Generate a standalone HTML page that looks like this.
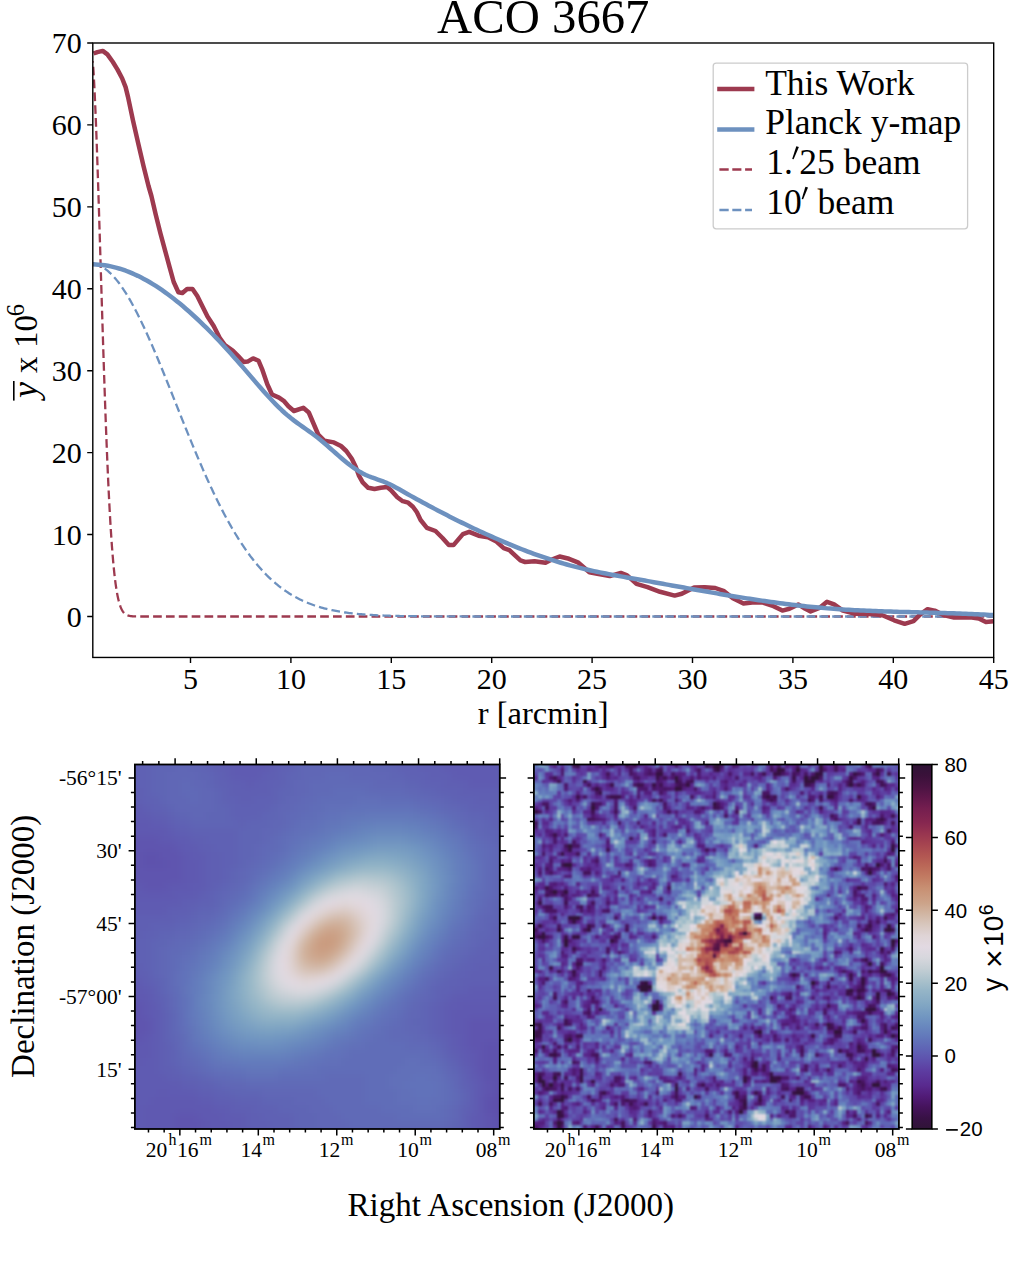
<!DOCTYPE html>
<html><head><meta charset="utf-8"><style>
html,body{margin:0;padding:0;background:#fff;width:1020px;height:1265px;overflow:hidden}
svg{display:block}
</style></head><body>
<svg width="1020" height="1265" viewBox="0 0 1020 1265">
<defs><filter id="blurL" x="-5%" y="-5%" width="110%" height="110%" color-interpolation-filters="sRGB"><feGaussianBlur stdDeviation="4.5"/></filter><filter id="blurR" x="-5%" y="-5%" width="110%" height="110%" color-interpolation-filters="sRGB"><feGaussianBlur stdDeviation="0.8"/></filter><clipPath id="clipL"><rect x="134.9" y="764.5" width="364.9" height="364.5"/></clipPath><clipPath id="clipR"><rect x="533.9" y="764.5" width="365" height="364.5"/></clipPath><clipPath id="topclip"><rect x="92.8" y="43.0" width="900.9" height="614.45"/></clipPath></defs>
<g font-family='"Liberation Serif", serif' fill="#000"><text x="437.1" y="32.8" font-size="48.7" text-anchor="start">ACO 3667</text><g clip-path="url(#topclip)" fill="none"><path d="M92.81 61.24 L92.97 63.46 L93.14 65.8 L93.3 68.26 L93.46 70.84 L93.63 73.53 L93.79 76.33 L93.95 79.25 L94.12 82.28 L94.28 85.41 L94.44 88.65 L94.6 91.99 L94.77 95.43 L94.93 98.97 L95.09 102.61 L95.26 106.34 L95.42 110.16 L95.58 114.07 L95.75 118.07 L95.91 122.15 L96.07 126.31 L96.24 130.55 L96.4 134.87 L96.56 139.26 L96.72 143.72 L96.89 148.25 L97.05 152.85 L97.21 157.5 L97.38 162.22 L97.54 166.99 L97.7 171.82 L97.87 176.7 L98.03 181.63 L98.19 186.6 L98.36 191.61 L98.52 196.67 L98.68 201.76 L98.85 206.89 L99.01 212.04 L99.17 217.23 L99.33 222.44 L99.5 227.67 L99.66 232.93 L99.82 238.2 L99.99 243.49 L100.15 248.79 L100.31 254.1 L100.48 259.41 L100.64 264.73 L100.8 270.05 L100.97 275.38 L101.13 280.69 L101.29 286.01 L101.45 291.31 L101.62 296.61 L101.78 301.89 L101.94 307.16 L102.11 312.41 L102.27 317.64 L102.43 322.85 L102.6 328.03 L102.76 333.2 L102.92 338.33 L103.09 343.43 L103.25 348.51 L103.41 353.55 L103.57 358.56 L103.74 363.53 L103.9 368.46 L104.06 373.35 L104.23 378.21 L104.39 383.02 L104.55 387.79 L104.72 392.51 L104.88 397.18 L105.04 401.81 L105.21 406.39 L105.37 410.92 L105.53 415.4 L105.69 419.83 L105.86 424.21 L106.02 428.53 L106.18 432.8 L106.35 437.01 L106.51 441.17 L106.67 445.27 L106.84 449.32 L107 453.31 L107.16 457.24 L107.33 461.11 L107.49 464.92 L107.65 468.67 L107.81 472.37 L107.98 476 L108.14 479.58 L108.3 483.1 L108.47 486.55 L108.63 489.95 L108.79 493.28 L108.96 496.56 L109.12 499.78 L109.28 502.93 L109.45 506.03 L109.61 509.07 L109.77 512.05 L109.93 514.97 L110.1 517.83 L110.26 520.63 L110.42 523.38 L110.59 526.07 L110.75 528.7 L110.91 531.27 L111.08 533.79 L111.24 536.25 L111.4 538.66 L111.57 541.01 L111.73 543.31 L111.89 545.56 L112.06 547.75 L112.22 549.89 L112.38 551.98 L112.54 554.02 L112.71 556.01 L112.87 557.95 L113.03 559.84 L113.2 561.68 L113.36 563.47 L113.52 565.22 L113.69 566.92 L113.85 568.58 L114.01 570.19 L114.18 571.76 L114.34 573.28 L114.5 574.76 L114.66 576.2 L114.83 577.61 L114.99 578.97 L115.15 580.29 L115.32 581.57 L115.48 582.82 L115.64 584.03 L115.81 585.2 L115.97 586.34 L116.13 587.44 L116.3 588.51 L116.46 589.54 L116.62 590.55 L116.78 591.52 L116.95 592.46 L117.11 593.37 L117.27 594.26 L117.44 595.11 L117.6 595.93 L117.76 596.73 L117.93 597.5 L118.09 598.25 L118.25 598.97 L118.42 599.67 L118.58 600.34 L118.74 600.99 L118.9 601.62 L119.07 602.22 L119.23 602.8 L119.39 603.37 L119.56 603.91 L119.72 604.43 L119.88 604.93 L120.05 605.42 L120.21 605.89 L120.37 606.34 L120.54 606.77 L120.7 607.19 L120.86 607.59 L121.02 607.97 L121.19 608.35 L121.35 608.7 L121.51 609.05 L121.68 609.38 L121.84 609.69 L122 610 L122.17 610.29 L122.33 610.57 L122.49 610.84 L122.66 611.09 L122.82 611.34 L122.98 611.58 L123.15 611.81 L123.31 612.02 L123.47 612.23 L123.63 612.43 L123.8 612.63 L123.96 612.81 L124.12 612.98 L124.29 613.15 L124.45 613.31 L124.61 613.47 L124.78 613.61 L124.94 613.75 L125.1 613.89 L125.27 614.02 L125.43 614.14 L125.59 614.26 L125.75 614.37 L125.92 614.47 L126.08 614.58 L126.24 614.67 L126.41 614.77 L126.57 614.85 L126.73 614.94 L126.9 615.02 L127.06 615.09 L127.22 615.17 L127.39 615.24 L127.55 615.3 L127.71 615.37 L127.87 615.43 L128.04 615.48 L128.2 615.54 L128.36 615.59 L128.53 615.64 L128.69 615.68 L128.85 615.73 L129.02 615.77 L129.18 615.81 L129.34 615.85 L129.51 615.88 L129.67 615.92 L129.83 615.95 L129.99 615.98 L130.16 616.01 L130.32 616.04 L130.48 616.06 L130.65 616.09 L130.81 616.11 L130.97 616.13 L131.14 616.15 L131.3 616.17 L131.46 616.19 L131.63 616.21 L131.79 616.23 L131.95 616.24 L132.11 616.26 L132.28 616.27 L132.44 616.29 L132.6 616.3 L132.77 616.31 L132.93 616.32 L133.09 616.33 L133.26 616.34 L133.42 616.35 L133.58 616.36 L133.75 616.37 L133.91 616.38 L134.07 616.38 L134.23 616.39 L134.4 616.4 L134.56 616.4 L134.72 616.41 L134.89 616.42 L135.05 616.42 L135.21 616.43 L135.38 616.43 L135.54 616.44 L135.7 616.44 L135.87 616.44 L136.03 616.45 L136.19 616.45 L136.36 616.45 L136.52 616.46 L136.68 616.46 L136.84 616.46 L137.01 616.46 L137.17 616.47 L137.33 616.47 L137.5 616.47 L137.66 616.47 L137.82 616.47 L137.99 616.48 L138.15 616.48 L138.31 616.48 L138.48 616.48 L138.64 616.48 L138.8 616.48 L138.96 616.48 L139.13 616.49 L139.29 616.49 L139.45 616.49 L139.62 616.49 L139.78 616.49 L139.94 616.49 L140.11 616.49 L140.27 616.49 L140.43 616.49 L140.6 616.49 L140.76 616.49 L140.92 616.49 L141.08 616.49 L141.25 616.49 L141.41 616.49 L141.57 616.5 L141.74 616.5 L141.9 616.5 L142.06 616.5 L142.23 616.5 L142.39 616.5 L142.55 616.5 L142.72 616.5 L142.88 616.5 L143.04 616.5 L143.2 616.5 L143.37 616.5 L143.53 616.5 L143.69 616.5 L143.86 616.5 L144.02 616.5 L144.18 616.5 L144.35 616.5 L144.51 616.5 L144.67 616.5 L144.84 616.5 L145 616.5 L145.16 616.5 L145.32 616.5 L145.49 616.5 L145.65 616.5 L145.81 616.5 L145.98 616.5 L146.14 616.5 L146.3 616.5 L146.47 616.5 L146.63 616.5 L146.79 616.5 L146.96 616.5 L147.12 616.5 L147.28 616.5 L147.44 616.5 L147.61 616.5 L147.77 616.5 L147.93 616.5 L148.1 616.5 L148.26 616.5 L148.42 616.5 L148.59 616.5 L148.75 616.5 L148.91 616.5 L149.08 616.5 L149.24 616.5 L149.4 616.5 L149.57 616.5 L149.73 616.5 L149.89 616.5 L150.05 616.5 L150.22 616.5 L150.38 616.5 L150.54 616.5 L150.71 616.5 L150.87 616.5 L151.03 616.5 L151.2 616.5 L151.36 616.5 L151.52 616.5 L151.69 616.5 L151.85 616.5 L152.01 616.5 L152.17 616.5 L152.34 616.5 L152.5 616.5 L152.66 616.5 L152.83 616.5 L152.99 616.5 L153.15 616.5 L153.32 616.5 L153.48 616.5 L153.64 616.5 L153.81 616.5 L153.97 616.5 L154.13 616.5 L154.29 616.5 L154.46 616.5 L154.62 616.5 L154.78 616.5 L154.95 616.5 L155.11 616.5 L155.27 616.5 L155.44 616.5 L155.6 616.5 L155.76 616.5 L155.93 616.5 L156.09 616.5 L156.25 616.5 L156.41 616.5 L156.58 616.5 L156.74 616.5 L156.9 616.5 L157.07 616.5 L157.23 616.5 L157.39 616.5 L157.56 616.5 L157.72 616.5 L157.88 616.5 L158.05 616.5 L158.21 616.5 L158.37 616.5 L158.53 616.5 L158.7 616.5 L158.86 616.5 L159.02 616.5 L159.19 616.5 L159.35 616.5 L159.51 616.5 L159.68 616.5 L159.84 616.5 L160 616.5 L160.17 616.5 L160.33 616.5 L160.49 616.5 L160.66 616.5 L160.82 616.5 L160.98 616.5 L161.14 616.5 L161.31 616.5 L161.47 616.5 L161.63 616.5 L161.8 616.5 L161.96 616.5 L162.12 616.5 L162.29 616.5 L162.45 616.5 L162.61 616.5 L162.78 616.5 L162.94 616.5 L163.1 616.5 L163.26 616.5 L163.43 616.5 L163.59 616.5 L163.75 616.5 L163.92 616.5 L164.08 616.5 L164.24 616.5 L164.41 616.5 L164.57 616.5 L164.73 616.5 L164.9 616.5 L165.06 616.5 L165.22 616.5 L165.38 616.5 L165.55 616.5 L165.71 616.5 L165.87 616.5 L166.04 616.5 L166.2 616.5 L166.36 616.5 L166.53 616.5 L166.69 616.5 L166.85 616.5 L167.02 616.5 L167.18 616.5 L167.34 616.5 L167.5 616.5 L167.67 616.5 L167.83 616.5 L167.99 616.5 L168.16 616.5 L168.32 616.5 L168.48 616.5 L168.65 616.5 L168.81 616.5 L168.97 616.5 L169.14 616.5 L169.3 616.5 L169.46 616.5 L169.62 616.5 L169.79 616.5 L169.95 616.5 L170.11 616.5 L170.28 616.5 L170.44 616.5 L170.6 616.5 L170.77 616.5 L170.93 616.5 L171.09 616.5 L171.26 616.5 L171.42 616.5 L171.58 616.5 L171.74 616.5 L171.91 616.5 L172.07 616.5 L172.23 616.5 L172.4 616.5 L172.56 616.5 L172.72 616.5 L172.89 616.5 L173.05 616.5 L173.21 616.5 L173.38 616.5 L173.54 616.5 L173.7 616.5 L173.87 616.5 L174.03 616.5 L174.19 616.5 L174.35 616.5 L174.52 616.5 L174.68 616.5 L174.84 616.5 L175.01 616.5 L175.17 616.5 L175.33 616.5 L175.5 616.5 L175.66 616.5 L175.82 616.5 L175.99 616.5 L176.15 616.5 L176.31 616.5 L176.47 616.5 L176.64 616.5 L176.8 616.5 L176.96 616.5 L177.13 616.5 L177.29 616.5 L177.45 616.5 L177.62 616.5 L177.78 616.5 L177.94 616.5 L178.11 616.5 L178.27 616.5 L178.43 616.5 L178.59 616.5 L178.76 616.5 L178.92 616.5 L179.08 616.5 L179.25 616.5 L179.41 616.5 L179.57 616.5 L179.74 616.5 L179.9 616.5 L180.06 616.5 L180.23 616.5 L180.39 616.5 L180.55 616.5 L180.71 616.5 L180.88 616.5 L181.04 616.5 L181.2 616.5 L181.37 616.5 L181.53 616.5 L181.69 616.5 L181.86 616.5 L182.02 616.5 L182.18 616.5 L182.35 616.5 L182.51 616.5 L182.67 616.5 L182.83 616.5 L183 616.5 L183.16 616.5 L183.32 616.5 L183.49 616.5 L183.65 616.5 L183.81 616.5 L183.98 616.5 L184.14 616.5 L184.3 616.5 L184.47 616.5 L184.63 616.5 L184.79 616.5 L184.96 616.5 L185.12 616.5 L185.28 616.5 L185.44 616.5 L185.61 616.5 L185.77 616.5 L185.93 616.5 L186.1 616.5 L186.26 616.5 L186.42 616.5 L186.59 616.5 L186.75 616.5 L186.91 616.5 L187.08 616.5 L187.24 616.5 L187.4 616.5 L187.56 616.5 L187.73 616.5 L187.89 616.5 L188.05 616.5 L188.22 616.5 L188.38 616.5 L188.54 616.5 L188.71 616.5 L188.87 616.5 L189.03 616.5 L189.2 616.5 L189.36 616.5 L189.52 616.5 L189.68 616.5 L189.85 616.5 L190.01 616.5 L190.17 616.5 L190.34 616.5 L190.5 616.5 L232.77 616.5 L275.05 616.5 L317.32 616.5 L359.59 616.5 L401.87 616.5 L444.14 616.5 L486.42 616.5 L528.69 616.5 L570.96 616.5 L613.24 616.5 L655.51 616.5 L697.78 616.5 L740.06 616.5 L782.33 616.5 L824.61 616.5 L866.88 616.5 L909.15 616.5 L951.43 616.5 L993.7 616.5" stroke="#9d3a4f" stroke-width="2.3" stroke-dasharray="8.7 4.15" stroke-dashoffset="7.35"/><path d="M92.81 263.56 L94.15 263.78 L95.48 264.08 L96.82 264.48 L98.16 264.95 L99.49 265.52 L100.83 266.17 L102.17 266.9 L103.5 267.72 L104.84 268.62 L106.17 269.6 L107.51 270.67 L108.85 271.81 L110.18 273.04 L111.52 274.35 L112.86 275.73 L114.19 277.2 L115.53 278.74 L116.87 280.36 L118.2 282.05 L119.54 283.81 L120.87 285.65 L122.21 287.55 L123.55 289.53 L124.88 291.57 L126.22 293.68 L127.56 295.86 L128.89 298.1 L130.23 300.4 L131.57 302.76 L132.9 305.18 L134.24 307.66 L135.57 310.19 L136.91 312.78 L138.25 315.41 L139.58 318.1 L140.92 320.84 L142.26 323.63 L143.59 326.46 L144.93 329.33 L146.27 332.24 L147.6 335.2 L148.94 338.19 L150.27 341.21 L151.61 344.28 L152.95 347.37 L154.28 350.49 L155.62 353.64 L156.96 356.82 L158.29 360.03 L159.63 363.25 L160.97 366.5 L162.3 369.76 L163.64 373.04 L164.98 376.34 L166.31 379.65 L167.65 382.98 L168.98 386.31 L170.32 389.65 L171.66 393 L172.99 396.35 L174.33 399.71 L175.67 403.06 L177 406.42 L178.34 409.77 L179.68 413.12 L181.01 416.47 L182.35 419.81 L183.68 423.14 L185.02 426.46 L186.36 429.77 L187.69 433.06 L189.03 436.35 L190.37 439.61 L191.7 442.87 L193.04 446.1 L194.38 449.31 L195.71 452.51 L197.05 455.68 L198.38 458.83 L199.72 461.95 L201.06 465.06 L202.39 468.13 L203.73 471.18 L205.07 474.2 L206.4 477.19 L207.74 480.16 L209.08 483.09 L210.41 485.99 L211.75 488.86 L213.08 491.7 L214.42 494.5 L215.76 497.27 L217.09 500.01 L218.43 502.71 L219.77 505.38 L221.1 508.01 L222.44 510.6 L223.78 513.16 L225.11 515.68 L226.45 518.16 L227.78 520.61 L229.12 523.01 L230.46 525.38 L231.79 527.71 L233.13 530.01 L234.47 532.26 L235.8 534.48 L237.14 536.65 L238.48 538.79 L239.81 540.89 L241.15 542.95 L242.48 544.98 L243.82 546.96 L245.16 548.91 L246.49 550.81 L247.83 552.68 L249.17 554.51 L250.5 556.31 L251.84 558.06 L253.18 559.78 L254.51 561.46 L255.85 563.11 L257.19 564.71 L258.52 566.29 L259.86 567.82 L261.19 569.32 L262.53 570.79 L263.87 572.22 L265.2 573.62 L266.54 574.98 L267.88 576.31 L269.21 577.61 L270.55 578.87 L271.89 580.1 L273.22 581.3 L274.56 582.47 L275.89 583.61 L277.23 584.72 L278.57 585.8 L279.9 586.85 L281.24 587.87 L282.58 588.86 L283.91 589.82 L285.25 590.76 L286.59 591.67 L287.92 592.55 L289.26 593.41 L290.59 594.24 L291.93 595.05 L293.27 595.83 L294.6 596.59 L295.94 597.33 L297.28 598.05 L298.61 598.74 L299.95 599.41 L301.29 600.06 L302.62 600.68 L303.96 601.29 L305.29 601.88 L306.63 602.45 L307.97 603 L309.3 603.53 L310.64 604.04 L311.98 604.54 L313.31 605.02 L314.65 605.48 L315.99 605.93 L317.32 606.36 L318.66 606.78 L319.99 607.18 L321.33 607.56 L322.67 607.94 L324 608.3 L325.34 608.64 L326.68 608.98 L328.01 609.3 L329.35 609.61 L330.69 609.9 L332.02 610.19 L333.36 610.46 L334.69 610.73 L336.03 610.98 L337.37 611.23 L338.7 611.46 L340.04 611.69 L341.38 611.9 L342.71 612.11 L344.05 612.31 L345.39 612.5 L346.72 612.69 L348.06 612.86 L349.39 613.03 L350.73 613.19 L352.07 613.35 L353.4 613.5 L354.74 613.64 L356.08 613.78 L357.41 613.91 L358.75 614.03 L360.09 614.15 L361.42 614.26 L362.76 614.37 L364.1 614.48 L365.43 614.58 L366.77 614.67 L368.1 614.76 L369.44 614.85 L370.78 614.93 L372.11 615.01 L373.45 615.09 L374.79 615.16 L376.12 615.23 L377.46 615.29 L378.8 615.35 L380.13 615.41 L381.47 615.47 L382.8 615.52 L384.14 615.58 L385.48 615.62 L386.81 615.67 L388.15 615.71 L389.49 615.76 L390.82 615.8 L392.16 615.83 L393.5 615.87 L394.83 615.9 L396.17 615.94 L397.5 615.97 L398.84 616 L400.18 616.03 L401.51 616.05 L402.85 616.08 L404.19 616.1 L405.52 616.12 L406.86 616.14 L408.2 616.16 L409.53 616.18 L410.87 616.2 L412.2 616.22 L413.54 616.23 L414.88 616.25 L416.21 616.26 L417.55 616.28 L418.89 616.29 L420.22 616.3 L421.56 616.32 L422.9 616.33 L424.23 616.34 L425.57 616.35 L426.9 616.36 L428.24 616.36 L429.58 616.37 L430.91 616.38 L432.25 616.39 L433.59 616.39 L434.92 616.4 L436.26 616.41 L437.6 616.41 L438.93 616.42 L440.27 616.42 L441.6 616.43 L442.94 616.43 L444.28 616.44 L445.61 616.44 L446.95 616.44 L448.29 616.45 L449.62 616.45 L450.96 616.45 L452.3 616.46 L453.63 616.46 L454.97 616.46 L456.31 616.47 L457.64 616.47 L458.98 616.47 L460.31 616.47 L461.65 616.47 L462.99 616.48 L464.32 616.48 L465.66 616.48 L467 616.48 L468.33 616.48 L469.67 616.48 L471.01 616.48 L472.34 616.48 L473.68 616.49 L475.01 616.49 L476.35 616.49 L477.69 616.49 L479.02 616.49 L480.36 616.49 L481.7 616.49 L483.03 616.49 L484.37 616.49 L485.71 616.49 L487.04 616.49 L488.38 616.49 L489.71 616.49 L491.05 616.49 L492.39 616.49 L493.72 616.5 L495.06 616.5 L496.4 616.5 L497.73 616.5 L499.07 616.5 L500.41 616.5 L501.74 616.5 L503.08 616.5 L504.41 616.5 L505.75 616.5 L507.09 616.5 L508.42 616.5 L509.76 616.5 L511.1 616.5 L512.43 616.5 L513.77 616.5 L515.11 616.5 L516.44 616.5 L517.78 616.5 L519.11 616.5 L520.45 616.5 L521.79 616.5 L523.12 616.5 L524.46 616.5 L525.8 616.5 L527.13 616.5 L528.47 616.5 L529.81 616.5 L531.14 616.5 L532.48 616.5 L533.81 616.5 L535.15 616.5 L536.49 616.5 L537.82 616.5 L539.16 616.5 L540.5 616.5 L541.83 616.5 L543.17 616.5 L544.51 616.5 L545.84 616.5 L547.18 616.5 L548.52 616.5 L549.85 616.5 L551.19 616.5 L552.52 616.5 L553.86 616.5 L555.2 616.5 L556.53 616.5 L557.87 616.5 L559.21 616.5 L560.54 616.5 L561.88 616.5 L563.22 616.5 L564.55 616.5 L565.89 616.5 L567.22 616.5 L568.56 616.5 L569.9 616.5 L571.23 616.5 L572.57 616.5 L573.91 616.5 L575.24 616.5 L576.58 616.5 L577.92 616.5 L579.25 616.5 L580.59 616.5 L581.92 616.5 L583.26 616.5 L584.6 616.5 L585.93 616.5 L587.27 616.5 L588.61 616.5 L589.94 616.5 L591.28 616.5 L592.62 616.5 L593.95 616.5 L595.29 616.5 L596.62 616.5 L597.96 616.5 L599.3 616.5 L600.63 616.5 L601.97 616.5 L603.31 616.5 L604.64 616.5 L605.98 616.5 L607.32 616.5 L608.65 616.5 L609.99 616.5 L611.32 616.5 L612.66 616.5 L614 616.5 L615.33 616.5 L616.67 616.5 L618.01 616.5 L619.34 616.5 L620.68 616.5 L622.02 616.5 L623.35 616.5 L624.69 616.5 L626.02 616.5 L627.36 616.5 L628.7 616.5 L630.03 616.5 L631.37 616.5 L632.71 616.5 L634.04 616.5 L635.38 616.5 L636.72 616.5 L638.05 616.5 L639.39 616.5 L640.72 616.5 L642.06 616.5 L643.4 616.5 L644.73 616.5 L646.07 616.5 L647.41 616.5 L648.74 616.5 L650.08 616.5 L651.42 616.5 L652.75 616.5 L654.09 616.5 L655.43 616.5 L656.76 616.5 L658.1 616.5 L659.43 616.5 L660.77 616.5 L662.11 616.5 L663.44 616.5 L664.78 616.5 L666.12 616.5 L667.45 616.5 L668.79 616.5 L670.13 616.5 L671.46 616.5 L672.8 616.5 L674.13 616.5 L675.47 616.5 L676.81 616.5 L678.14 616.5 L679.48 616.5 L680.82 616.5 L682.15 616.5 L683.49 616.5 L684.83 616.5 L686.16 616.5 L687.5 616.5 L688.83 616.5 L690.17 616.5 L691.51 616.5 L692.84 616.5 L694.18 616.5 L695.52 616.5 L696.85 616.5 L698.19 616.5 L699.53 616.5 L700.86 616.5 L702.2 616.5 L703.53 616.5 L704.87 616.5 L706.21 616.5 L707.54 616.5 L708.88 616.5 L710.22 616.5 L711.55 616.5 L712.89 616.5 L714.23 616.5 L715.56 616.5 L716.9 616.5 L718.23 616.5 L719.57 616.5 L720.91 616.5 L722.24 616.5 L723.58 616.5 L724.92 616.5 L726.25 616.5 L727.59 616.5 L728.93 616.5 L730.26 616.5 L731.6 616.5 L732.93 616.5 L734.27 616.5 L735.61 616.5 L736.94 616.5 L738.28 616.5 L739.62 616.5 L740.95 616.5 L742.29 616.5 L743.63 616.5 L744.96 616.5 L746.3 616.5 L747.64 616.5 L748.97 616.5 L750.31 616.5 L751.64 616.5 L752.98 616.5 L754.32 616.5 L755.65 616.5 L756.99 616.5 L758.33 616.5 L759.66 616.5 L761 616.5 L762.34 616.5 L763.67 616.5 L765.01 616.5 L766.34 616.5 L767.68 616.5 L769.02 616.5 L770.35 616.5 L771.69 616.5 L773.03 616.5 L774.36 616.5 L775.7 616.5 L777.04 616.5 L778.37 616.5 L779.71 616.5 L781.04 616.5 L782.38 616.5 L783.72 616.5 L785.05 616.5 L786.39 616.5 L787.73 616.5 L789.06 616.5 L790.4 616.5 L791.74 616.5 L793.07 616.5 L794.41 616.5 L795.74 616.5 L797.08 616.5 L798.42 616.5 L799.75 616.5 L801.09 616.5 L802.43 616.5 L803.76 616.5 L805.1 616.5 L806.44 616.5 L807.77 616.5 L809.11 616.5 L810.44 616.5 L811.78 616.5 L813.12 616.5 L814.45 616.5 L815.79 616.5 L817.13 616.5 L818.46 616.5 L819.8 616.5 L821.14 616.5 L822.47 616.5 L823.81 616.5 L825.14 616.5 L826.48 616.5 L827.82 616.5 L829.15 616.5 L830.49 616.5 L831.83 616.5 L833.16 616.5 L834.5 616.5 L835.84 616.5 L837.17 616.5 L838.51 616.5 L839.84 616.5 L841.18 616.5 L842.52 616.5 L843.85 616.5 L845.19 616.5 L846.53 616.5 L847.86 616.5 L849.2 616.5 L850.54 616.5 L851.87 616.5 L853.21 616.5 L854.55 616.5 L855.88 616.5 L857.22 616.5 L858.55 616.5 L859.89 616.5 L861.23 616.5 L862.56 616.5 L863.9 616.5 L865.24 616.5 L866.57 616.5 L867.91 616.5 L869.25 616.5 L870.58 616.5 L871.92 616.5 L873.25 616.5 L874.59 616.5 L875.93 616.5 L877.26 616.5 L878.6 616.5 L879.94 616.5 L881.27 616.5 L882.61 616.5 L883.95 616.5 L885.28 616.5 L886.62 616.5 L887.95 616.5 L889.29 616.5 L890.63 616.5 L891.96 616.5 L893.3 616.5 L898.58 616.5 L903.87 616.5 L909.15 616.5 L914.44 616.5 L919.72 616.5 L925.01 616.5 L930.29 616.5 L935.57 616.5 L940.86 616.5 L946.14 616.5 L951.43 616.5 L956.71 616.5 L961.99 616.5 L967.28 616.5 L972.56 616.5 L977.85 616.5 L983.13 616.5 L988.42 616.5 L993.7 616.5" stroke="#6d91bf" stroke-width="2.3" stroke-dasharray="8.7 4.15" stroke-dashoffset="12.69"/><path d="M93.6 53.5 L97.4 52.1 L102.7 50.9 L107.4 54.4 L112.7 61.8 L117.4 69.4 L122.1 78.2 L125.6 87.1 L128 96.9 L133.1 121 L138.6 145 L143.5 166 L148.5 186 L151.4 196 L155.7 214.5 L160.4 233.3 L165.1 250.6 L169.8 267.8 L173.7 282 L178.4 292.2 L182.4 293 L187.1 289 L192.5 289 L197.3 296.1 L202 305.5 L207.5 316.5 L213.7 325.9 L220 338.4 L224.9 345.1 L232.7 350.6 L238.2 356.1 L243.7 362 L247.6 361.6 L253.1 358.4 L258.6 360.8 L262.5 370.2 L267.3 384.3 L272 394.5 L279 397.6 L283.7 400.8 L288.4 406.3 L293.9 411 L303.3 407.8 L308.8 412.5 L313.5 423.5 L318.2 434.5 L324.5 440.8 L333.9 442.4 L341 446 L346.3 451 L351.8 458.8 L355.7 466.7 L358.8 475.3 L362.7 482.4 L368.2 487.8 L374.5 489 L380.8 487.8 L387.1 487.1 L391 490.2 L397.3 497.3 L402.7 501.2 L408.2 502.7 L412.9 506.7 L416.9 512.2 L420.6 520 L426.9 527.8 L435.5 531 L442.5 538 L448.8 545.1 L453.5 545.1 L462.9 534.1 L469.2 531.8 L478.6 535.7 L488 537.3 L495.9 541.2 L503.7 548.2 L509.4 550.2 L520.4 560.4 L525.1 562 L534.5 561.2 L545.5 562.7 L551.8 559.6 L559.6 556.5 L569 558.8 L578.4 562.7 L589.4 572.2 L597.3 573.7 L609.8 576.1 L620.8 572.9 L627.1 575.3 L636.5 583.9 L647.5 587.1 L660 591.8 L674.7 595.6 L681.8 593.8 L694.1 587.6 L704.7 587.3 L715.3 588 L724.1 591.2 L732.9 598.2 L743.5 603.5 L752.3 602.6 L762.9 602.6 L773.5 606.2 L782.4 610.6 L789.4 608.8 L798.2 604.4 L805.3 608.8 L810.6 611.5 L819.4 607.9 L827 601.8 L834.1 604.4 L842.9 610.6 L855.3 613.8 L869.4 614.1 L881.8 615 L894.1 620.3 L904.7 623.8 L913.5 621.2 L920.6 614.1 L927.6 609.2 L934.7 610.6 L943.5 615 L954.1 617.6 L970 617.3 L978.8 618.5 L985.9 622.1 L993.7 621.2" stroke="#9d3a4f" stroke-width="4.5" stroke-linejoin="round" stroke-linecap="butt"/><path d="M92.8 264.37 L95.8 264.45 L98.8 264.64 L101.8 264.92 L104.8 265.31 L107.8 265.8 L110.8 266.39 L113.8 267.07 L116.8 267.85 L119.8 268.72 L122.8 269.69 L125.8 270.74 L128.8 271.89 L131.8 273.12 L134.8 274.44 L137.8 275.84 L140.8 277.33 L143.8 278.9 L146.8 280.55 L149.8 282.28 L152.8 284.08 L155.8 285.97 L158.8 287.93 L161.8 289.96 L164.8 292.06 L167.8 294.23 L170.8 296.48 L173.8 298.78 L176.8 301.16 L179.8 303.6 L182.8 306.1 L185.8 308.67 L188.8 311.29 L191.8 313.98 L194.8 316.72 L197.8 319.51 L200.8 322.36 L203.8 325.27 L206.8 328.22 L209.8 331.23 L212.8 334.28 L215.8 337.38 L218.8 340.52 L221.8 343.71 L224.8 346.94 L227.8 350.22 L230.8 353.53 L233.8 356.88 L236.8 360.27 L239.8 363.69 L242.8 367.15 L245.8 370.63 L248.8 374.13 L251.8 377.63 L254.8 381.12 L257.8 384.6 L260.8 388.04 L263.8 391.44 L266.8 394.78 L269.8 398.05 L272.8 401.24 L275.8 404.34 L278.8 407.34 L281.8 410.22 L284.8 412.97 L287.8 415.59 L290.8 418.05 L293.8 420.39 L296.8 422.62 L299.8 424.78 L302.8 426.9 L305.8 428.99 L308.8 431.1 L311.8 433.26 L314.8 435.48 L317.8 437.8 L320.8 440.23 L323.8 442.75 L326.8 445.33 L329.8 447.95 L332.8 450.6 L335.8 453.25 L338.8 455.87 L341.8 458.45 L344.8 460.97 L347.8 463.4 L350.8 465.72 L353.8 467.91 L356.8 469.95 L359.8 471.81 L362.8 473.49 L365.8 474.96 L368.8 476.25 L371.8 477.41 L374.8 478.49 L377.8 479.54 L380.8 480.59 L383.8 481.71 L386.8 482.94 L389.8 484.31 L392.8 485.82 L395.8 487.42 L398.8 489.08 L401.8 490.78 L404.8 492.48 L407.8 494.17 L410.8 495.85 L413.8 497.51 L416.8 499.17 L419.8 500.82 L422.8 502.45 L425.8 504.08 L428.8 505.69 L431.8 507.29 L434.8 508.88 L437.8 510.45 L440.8 512.02 L443.8 513.57 L446.8 515.11 L449.8 516.64 L452.8 518.16 L455.8 519.66 L458.8 521.15 L461.8 522.63 L464.8 524.09 L467.8 525.54 L470.8 526.98 L473.8 528.41 L476.8 529.82 L479.8 531.21 L482.8 532.6 L485.8 533.97 L488.8 535.32 L491.8 536.66 L494.8 537.99 L497.8 539.3 L500.8 540.6 L503.8 541.88 L506.8 543.14 L509.8 544.39 L512.8 545.63 L515.8 546.85 L518.8 548.05 L521.8 549.23 L524.8 550.39 L527.8 551.54 L530.8 552.66 L533.8 553.77 L536.8 554.85 L539.8 555.92 L542.8 556.96 L545.8 557.98 L548.8 558.98 L551.8 559.96 L554.8 560.91 L557.8 561.84 L560.8 562.75 L563.8 563.63 L566.8 564.48 L569.8 565.31 L572.8 566.12 L575.8 566.89 L578.8 567.65 L581.8 568.38 L584.8 569.09 L587.8 569.78 L590.8 570.45 L593.8 571.1 L596.8 571.74 L599.8 572.35 L602.8 572.96 L605.8 573.55 L608.8 574.13 L611.8 574.7 L614.8 575.26 L617.8 575.81 L620.8 576.35 L623.8 576.89 L626.8 577.42 L629.8 577.95 L632.8 578.48 L635.8 579 L638.8 579.53 L641.8 580.06 L644.8 580.59 L647.8 581.12 L650.8 581.65 L653.8 582.19 L656.8 582.72 L659.8 583.26 L662.8 583.8 L665.8 584.34 L668.8 584.88 L671.8 585.42 L674.8 585.96 L677.8 586.5 L680.8 587.04 L683.8 587.58 L686.8 588.11 L689.8 588.65 L692.8 589.19 L695.8 589.72 L698.8 590.25 L701.8 590.78 L704.8 591.31 L707.8 591.84 L710.8 592.36 L713.8 592.88 L716.8 593.4 L719.8 593.91 L722.8 594.42 L725.8 594.93 L728.8 595.43 L731.8 595.93 L734.8 596.42 L737.8 596.91 L740.8 597.4 L743.8 597.88 L746.8 598.35 L749.8 598.82 L752.8 599.29 L755.8 599.74 L758.8 600.2 L761.8 600.64 L764.8 601.08 L767.8 601.51 L770.8 601.94 L773.8 602.35 L776.8 602.76 L779.8 603.16 L782.8 603.56 L785.8 603.94 L788.8 604.32 L791.8 604.69 L794.8 605.05 L797.8 605.4 L800.8 605.75 L803.8 606.08 L806.8 606.4 L809.8 606.71 L812.8 607.02 L815.8 607.31 L818.8 607.59 L821.8 607.86 L824.8 608.12 L827.8 608.37 L830.8 608.61 L833.8 608.84 L836.8 609.05 L839.8 609.26 L842.8 609.46 L845.8 609.65 L848.8 609.83 L851.8 610 L854.8 610.16 L857.8 610.32 L860.8 610.47 L863.8 610.61 L866.8 610.74 L869.8 610.87 L872.8 610.99 L875.8 611.11 L878.8 611.22 L881.8 611.33 L884.8 611.43 L887.8 611.53 L890.8 611.62 L893.8 611.71 L896.8 611.8 L899.8 611.88 L902.8 611.97 L905.8 612.05 L908.8 612.12 L911.8 612.2 L914.8 612.28 L917.8 612.35 L920.8 612.43 L923.8 612.5 L926.8 612.58 L929.8 612.65 L932.8 612.73 L935.8 612.81 L938.8 612.89 L941.8 612.97 L944.8 613.06 L947.8 613.15 L950.8 613.24 L953.8 613.33 L956.8 613.43 L959.8 613.54 L962.8 613.64 L965.8 613.76 L968.8 613.88 L971.8 614 L974.8 614.13 L977.8 614.27 L980.8 614.41 L983.8 614.56 L986.8 614.72 L989.8 614.89 L992.8 615.06 L993.7 615.11" stroke="#6d91bf" stroke-width="4.5" stroke-linejoin="round" stroke-linecap="butt"/></g><rect x="92.8" y="43.0" width="900.9" height="614.45" fill="none" stroke="#000" stroke-width="1.4"/><text x="81.7" y="626.8" font-size="30" text-anchor="end">0</text><text x="81.7" y="544.87" font-size="30" text-anchor="end">10</text><text x="81.7" y="462.94" font-size="30" text-anchor="end">20</text><text x="81.7" y="381.01" font-size="30" text-anchor="end">30</text><text x="81.7" y="299.08" font-size="30" text-anchor="end">40</text><text x="81.7" y="217.15" font-size="30" text-anchor="end">50</text><text x="81.7" y="135.22" font-size="30" text-anchor="end">60</text><text x="81.7" y="53.29" font-size="30" text-anchor="end">70</text><text x="190.5" y="689" font-size="30" text-anchor="middle">5</text><text x="290.9" y="689" font-size="30" text-anchor="middle">10</text><text x="391.3" y="689" font-size="30" text-anchor="middle">15</text><text x="491.7" y="689" font-size="30" text-anchor="middle">20</text><text x="592.1" y="689" font-size="30" text-anchor="middle">25</text><text x="692.5" y="689" font-size="30" text-anchor="middle">30</text><text x="792.9" y="689" font-size="30" text-anchor="middle">35</text><text x="893.3" y="689" font-size="30" text-anchor="middle">40</text><text x="993.7" y="689" font-size="30" text-anchor="middle">45</text><path d="M87.2 616.5H92.8M87.2 534.57H92.8M87.2 452.64H92.8M87.2 370.71H92.8M87.2 288.78H92.8M87.2 206.85H92.8M87.2 124.92H92.8M87.2 42.99H92.8M190.5 657.45V662.9M290.9 657.45V662.9M391.3 657.45V662.9M491.7 657.45V662.9M592.1 657.45V662.9M692.5 657.45V662.9M792.9 657.45V662.9M893.3 657.45V662.9M993.7 657.45V662.9" stroke="#000" stroke-width="1.4" fill="none"/><text x="477.85" y="723.7" font-size="32.5" text-anchor="start">r [arcmin]</text><g transform="translate(36.6 401.5) rotate(-90)"><text x="3.4" y="0" font-size="36" font-style="italic">y</text><rect x="0.9" y="-23.6" width="19.6" height="1.6"/><text x="28.6" y="0" font-size="33">x</text><text x="53.6" y="0" font-size="33">10</text><text x="85.2" y="-12.9" font-size="24.6">6</text></g><rect x="713.2" y="63.2" width="254.4" height="165.6" rx="3" fill="#fff" fill-opacity="0.8" stroke="#cccccc" stroke-width="1.3"/><path d="M717.2 88.9H754.4" stroke="#9d3a4f" stroke-width="4.5"/><path d="M717.2 129.4H754.4" stroke="#6d91bf" stroke-width="4.5"/><path d="M719.4 169.6H728.7M732.3 169.6H741.4M745.1 169.6H752" stroke="#9d3a4f" stroke-width="2.5"/><path d="M719.4 210H728.7M732.3 210H741.4M745.1 210H752" stroke="#6d91bf" stroke-width="2.5"/><text x="765.2" y="94.6" font-size="35.5" text-anchor="start">This Work</text><text x="765.2" y="134.2" font-size="35.5" text-anchor="start">Planck y-map</text><text x="766.3" y="173.6" font-size="35.5" text-anchor="start">1.</text><text x="799.3" y="173.6" font-size="35.5" text-anchor="start">25 beam</text><path d="M792.2 158.9L796.3 146.2L798.9 146.9L793.6 159.2Z"/><text x="766.3" y="214" font-size="35.5" text-anchor="start">10</text><text x="817.6" y="214" font-size="35.5" text-anchor="start">beam</text><path d="M801.7 198.9L805.4 186.8L808.0 187.5L803.1 199.2Z"/></g>
<g clip-path="url(#clipL)"><g filter="url(#blurL)"><g transform="translate(111.1 740.73) scale(7.9326 7.9239)" shape-rendering="crispEdges"><path fill="#5f5fb3" d="M0 0h4v1h-4zM11 0h3v1h-3zM19 0h2v1h-2zM37 0h4v1h-4zM48 0h4v1h-4zM0 1h3v1h-3zM12 1h2v1h-2zM20 1h1v1h-1zM37 1h4v1h-4zM49 1h3v1h-3zM0 2h3v1h-3zM13 2h1v1h-1zM20 2h1v1h-1zM38 2h3v1h-3zM49 2h3v1h-3zM0 3h3v1h-3zM13 3h2v1h-2zM20 3h1v1h-1zM39 3h3v1h-3zM49 3h3v1h-3zM0 4h3v1h-3zM14 4h1v1h-1zM19 4h2v1h-2zM40 4h3v1h-3zM49 4h3v1h-3zM0 5h3v1h-3zM15 5h2v1h-2zM18 5h2v1h-2zM42 5h3v1h-3zM49 5h3v1h-3zM0 6h4v1h-4zM15 6h5v1h-5zM44 6h8v1h-8zM2 7h2v1h-2zM16 7h2v1h-2zM46 7h6v1h-6zM4 8h1v1h-1zM48 8h4v1h-4zM5 9h2v1h-2zM50 9h2v1h-2zM7 10h1v1h-1zM51 10h1v1h-1zM8 11h2v1h-2zM10 12h2v1h-2zM11 13h2v1h-2zM12 14h2v1h-2zM12 15h2v1h-2zM12 16h2v1h-2zM12 17h2v1h-2zM12 18h1v1h-1zM11 19h1v1h-1zM9 20h2v1h-2zM7 21h3v1h-3zM0 22h8v1h-8zM51 22h1v1h-1zM0 23h5v1h-5zM51 23h1v1h-1zM0 24h4v1h-4zM50 24h2v1h-2zM0 25h3v1h-3zM49 25h3v1h-3zM0 26h3v1h-3zM49 26h3v1h-3zM0 27h3v1h-3zM48 27h4v1h-4zM2 28h2v1h-2zM46 28h6v1h-6zM3 29h2v1h-2zM45 29h7v1h-7zM4 30h1v1h-1zM44 30h8v1h-8zM5 31h1v1h-1zM43 31h2v1h-2zM51 31h1v1h-1zM5 32h1v1h-1zM42 32h1v1h-1zM41 33h1v1h-1zM6 34h1v1h-1zM41 34h1v1h-1zM6 35h1v1h-1zM41 35h1v1h-1zM6 36h1v1h-1zM41 36h1v1h-1zM6 37h1v1h-1zM42 37h1v1h-1zM6 38h1v1h-1zM42 38h1v1h-1zM6 39h1v1h-1zM43 39h1v1h-1zM6 40h1v1h-1zM6 41h2v1h-2zM44 41h1v1h-1zM7 42h2v1h-2zM9 43h2v1h-2zM45 43h1v1h-1zM11 44h2v1h-2zM45 44h1v1h-1zM13 45h3v1h-3zM45 45h1v1h-1zM0 46h1v1h-1zM15 46h3v1h-3zM45 46h1v1h-1zM0 47h1v1h-1zM17 47h2v1h-2zM0 48h1v1h-1zM17 48h3v1h-3zM0 49h1v1h-1zM18 49h3v1h-3zM44 49h1v1h-1zM0 50h1v1h-1zM18 50h3v1h-3zM44 50h1v1h-1zM0 51h2v1h-2zM18 51h4v1h-4zM43 51h2v1h-2z"/><path fill="#5f61b4" d="M4 0h7v1h-7zM21 0h3v1h-3zM33 0h4v1h-4zM3 1h4v1h-4zM9 1h3v1h-3zM21 1h2v1h-2zM34 1h3v1h-3zM3 2h3v1h-3zM11 2h2v1h-2zM21 2h2v1h-2zM35 2h3v1h-3zM3 3h2v1h-2zM12 3h1v1h-1zM21 3h2v1h-2zM36 3h3v1h-3zM3 4h2v1h-2zM13 4h1v1h-1zM21 4h1v1h-1zM37 4h3v1h-3zM3 5h2v1h-2zM13 5h2v1h-2zM20 5h2v1h-2zM39 5h3v1h-3zM4 6h1v1h-1zM14 6h1v1h-1zM20 6h1v1h-1zM41 6h3v1h-3zM4 7h2v1h-2zM14 7h2v1h-2zM18 7h3v1h-3zM43 7h3v1h-3zM5 8h2v1h-2zM15 8h5v1h-5zM45 8h3v1h-3zM7 9h1v1h-1zM15 9h4v1h-4zM47 9h3v1h-3zM8 10h2v1h-2zM16 10h1v1h-1zM48 10h3v1h-3zM10 11h6v1h-6zM49 11h3v1h-3zM12 12h4v1h-4zM50 12h2v1h-2zM13 13h3v1h-3zM50 13h2v1h-2zM14 14h2v1h-2zM50 14h2v1h-2zM14 15h2v1h-2zM50 15h2v1h-2zM14 16h1v1h-1zM50 16h2v1h-2zM14 17h1v1h-1zM50 17h2v1h-2zM13 18h1v1h-1zM50 18h2v1h-2zM12 19h1v1h-1zM50 19h2v1h-2zM11 20h2v1h-2zM50 20h2v1h-2zM10 21h1v1h-1zM49 21h3v1h-3zM8 22h2v1h-2zM49 22h2v1h-2zM5 23h3v1h-3zM48 23h3v1h-3zM4 24h2v1h-2zM48 24h2v1h-2zM3 25h2v1h-2zM47 25h2v1h-2zM3 26h2v1h-2zM46 26h3v1h-3zM3 27h2v1h-2zM45 27h3v1h-3zM4 28h1v1h-1zM44 28h2v1h-2zM43 29h2v1h-2zM5 30h1v1h-1zM42 30h2v1h-2zM41 31h2v1h-2zM6 32h1v1h-1zM41 32h1v1h-1zM6 33h1v1h-1zM40 33h1v1h-1zM40 34h1v1h-1zM40 35h1v1h-1zM40 36h1v1h-1zM41 37h1v1h-1zM7 38h1v1h-1zM7 39h1v1h-1zM42 39h1v1h-1zM7 40h1v1h-1zM43 40h1v1h-1zM8 41h1v1h-1zM9 42h2v1h-2zM44 42h1v1h-1zM11 43h2v1h-2zM44 43h1v1h-1zM13 44h2v1h-2zM16 45h3v1h-3zM18 46h3v1h-3zM44 46h1v1h-1zM19 47h4v1h-4zM44 47h1v1h-1zM20 48h3v1h-3zM44 48h1v1h-1zM21 49h3v1h-3zM43 49h1v1h-1zM21 50h4v1h-4zM42 50h2v1h-2zM22 51h3v1h-3zM41 51h2v1h-2z"/><path fill="#5f5bb2" d="M14 0h5v1h-5zM41 0h7v1h-7zM14 1h6v1h-6zM41 1h8v1h-8zM14 2h6v1h-6zM41 2h8v1h-8zM15 3h5v1h-5zM42 3h7v1h-7zM15 4h4v1h-4zM43 4h6v1h-6zM17 5h1v1h-1zM45 5h4v1h-4zM0 7h2v1h-2zM0 8h4v1h-4zM0 9h5v1h-5zM5 10h2v1h-2zM7 11h1v1h-1zM8 12h2v1h-2zM9 13h2v1h-2zM10 14h2v1h-2zM11 15h1v1h-1zM11 16h1v1h-1zM11 17h1v1h-1zM0 18h1v1h-1zM10 18h2v1h-2zM0 19h2v1h-2zM8 19h3v1h-3zM0 20h9v1h-9zM0 21h7v1h-7zM0 28h2v1h-2zM0 29h3v1h-3zM3 30h1v1h-1zM4 31h1v1h-1zM45 31h6v1h-6zM43 32h9v1h-9zM5 33h1v1h-1zM42 33h2v1h-2zM49 33h3v1h-3zM5 34h1v1h-1zM42 34h1v1h-1zM50 34h2v1h-2zM5 35h1v1h-1zM42 35h1v1h-1zM51 35h1v1h-1zM5 36h1v1h-1zM42 36h1v1h-1zM5 37h1v1h-1zM43 37h1v1h-1zM5 38h1v1h-1zM43 38h1v1h-1zM5 39h1v1h-1zM44 39h1v1h-1zM4 40h2v1h-2zM44 40h1v1h-1zM0 41h6v1h-6zM45 41h1v1h-1zM0 42h7v1h-7zM45 42h1v1h-1zM0 43h9v1h-9zM0 44h6v1h-6zM7 44h4v1h-4zM0 45h5v1h-5zM11 45h2v1h-2zM1 46h3v1h-3zM13 46h2v1h-2zM1 47h3v1h-3zM14 47h3v1h-3zM45 47h1v1h-1zM1 48h3v1h-3zM15 48h2v1h-2zM45 48h1v1h-1zM1 49h4v1h-4zM15 49h3v1h-3zM45 49h1v1h-1zM1 50h4v1h-4zM15 50h3v1h-3zM45 50h1v1h-1zM2 51h4v1h-4zM14 51h4v1h-4zM45 51h1v1h-1z"/><path fill="#5f65b5" d="M24 0h9v1h-9zM7 1h2v1h-2zM23 1h4v1h-4zM29 1h5v1h-5zM6 2h5v1h-5zM23 2h2v1h-2zM31 2h4v1h-4zM5 3h3v1h-3zM10 3h2v1h-2zM23 3h1v1h-1zM33 3h3v1h-3zM5 4h2v1h-2zM11 4h2v1h-2zM22 4h2v1h-2zM35 4h2v1h-2zM5 5h2v1h-2zM12 5h1v1h-1zM22 5h1v1h-1zM37 5h2v1h-2zM5 6h2v1h-2zM13 6h1v1h-1zM21 6h2v1h-2zM39 6h2v1h-2zM6 7h1v1h-1zM13 7h1v1h-1zM21 7h1v1h-1zM42 7h1v1h-1zM7 8h1v1h-1zM13 8h2v1h-2zM20 8h1v1h-1zM44 8h1v1h-1zM8 9h2v1h-2zM12 9h3v1h-3zM19 9h2v1h-2zM45 9h2v1h-2zM10 10h6v1h-6zM17 10h3v1h-3zM47 10h1v1h-1zM16 11h3v1h-3zM47 11h2v1h-2zM16 12h3v1h-3zM48 12h2v1h-2zM16 13h2v1h-2zM49 13h1v1h-1zM16 14h2v1h-2zM49 14h1v1h-1zM16 15h1v1h-1zM49 15h1v1h-1zM15 16h1v1h-1zM49 16h1v1h-1zM15 17h1v1h-1zM49 17h1v1h-1zM14 18h1v1h-1zM49 18h1v1h-1zM13 19h1v1h-1zM49 19h1v1h-1zM13 20h1v1h-1zM48 20h2v1h-2zM11 21h2v1h-2zM48 21h1v1h-1zM10 22h1v1h-1zM47 22h2v1h-2zM8 23h2v1h-2zM47 23h1v1h-1zM6 24h2v1h-2zM46 24h2v1h-2zM5 25h2v1h-2zM46 25h1v1h-1zM5 26h1v1h-1zM45 26h1v1h-1zM5 27h1v1h-1zM44 27h1v1h-1zM5 28h1v1h-1zM43 28h1v1h-1zM5 29h1v1h-1zM42 29h1v1h-1zM6 30h1v1h-1zM41 30h1v1h-1zM6 31h1v1h-1zM40 31h1v1h-1zM40 32h1v1h-1zM39 33h1v1h-1zM7 34h1v1h-1zM39 34h1v1h-1zM7 35h1v1h-1zM38 35h2v1h-2zM7 36h1v1h-1zM39 36h1v1h-1zM7 37h1v1h-1zM40 37h1v1h-1zM41 38h1v1h-1zM8 39h1v1h-1zM8 40h1v1h-1zM42 40h1v1h-1zM9 41h1v1h-1zM43 41h1v1h-1zM11 42h1v1h-1zM13 43h1v1h-1zM15 44h4v1h-4zM44 44h1v1h-1zM19 45h4v1h-4zM44 45h1v1h-1zM21 46h4v1h-4zM23 47h3v1h-3zM23 48h3v1h-3zM43 48h1v1h-1zM24 49h3v1h-3zM42 49h1v1h-1zM25 50h3v1h-3zM40 50h2v1h-2zM25 51h4v1h-4zM36 51h5v1h-5z"/><path fill="#6067b6" d="M27 1h2v1h-2zM25 2h6v1h-6zM8 3h2v1h-2zM24 3h9v1h-9zM7 4h4v1h-4zM24 4h3v1h-3zM30 4h5v1h-5zM7 5h2v1h-2zM10 5h2v1h-2zM23 5h2v1h-2zM33 5h4v1h-4zM7 6h2v1h-2zM11 6h2v1h-2zM23 6h2v1h-2zM37 6h2v1h-2zM7 7h3v1h-3zM11 7h2v1h-2zM22 7h2v1h-2zM40 7h2v1h-2zM8 8h5v1h-5zM21 8h2v1h-2zM42 8h2v1h-2zM10 9h2v1h-2zM21 9h1v1h-1zM44 9h1v1h-1zM20 10h2v1h-2zM45 10h2v1h-2zM19 11h2v1h-2zM46 11h1v1h-1zM19 12h1v1h-1zM47 12h1v1h-1zM18 13h1v1h-1zM48 13h1v1h-1zM18 14h1v1h-1zM48 14h1v1h-1zM17 15h1v1h-1zM48 15h1v1h-1zM16 16h1v1h-1zM48 16h1v1h-1zM16 17h1v1h-1zM48 17h1v1h-1zM15 18h1v1h-1zM48 18h1v1h-1zM14 19h1v1h-1zM48 19h1v1h-1zM47 20h1v1h-1zM13 21h1v1h-1zM47 21h1v1h-1zM11 22h2v1h-2zM46 22h1v1h-1zM10 23h1v1h-1zM46 23h1v1h-1zM8 24h2v1h-2zM45 24h1v1h-1zM7 25h1v1h-1zM45 25h1v1h-1zM6 26h1v1h-1zM44 26h1v1h-1zM6 27h1v1h-1zM43 27h1v1h-1zM6 28h1v1h-1zM42 28h1v1h-1zM6 29h1v1h-1zM41 29h1v1h-1zM40 30h1v1h-1zM7 32h1v1h-1zM39 32h1v1h-1zM7 33h1v1h-1zM38 33h1v1h-1zM37 34h2v1h-2zM37 35h1v1h-1zM37 36h2v1h-2zM8 37h1v1h-1zM38 37h2v1h-2zM8 38h1v1h-1zM40 38h1v1h-1zM41 39h1v1h-1zM9 40h1v1h-1zM10 41h1v1h-1zM42 41h1v1h-1zM12 42h1v1h-1zM43 42h1v1h-1zM14 43h3v1h-3zM43 43h1v1h-1zM19 44h7v1h-7zM23 45h4v1h-4zM25 46h3v1h-3zM43 46h1v1h-1zM26 47h3v1h-3zM43 47h1v1h-1zM26 48h4v1h-4zM42 48h1v1h-1zM27 49h5v1h-5zM34 49h8v1h-8zM28 50h12v1h-12zM29 51h7v1h-7z"/><path fill="#606ab7" d="M27 4h3v1h-3zM9 5h1v1h-1zM25 5h8v1h-8zM9 6h2v1h-2zM25 6h3v1h-3zM32 6h5v1h-5zM10 7h1v1h-1zM24 7h2v1h-2zM38 7h2v1h-2zM23 8h2v1h-2zM41 8h1v1h-1zM22 9h2v1h-2zM43 9h1v1h-1zM22 10h1v1h-1zM44 10h1v1h-1zM21 11h1v1h-1zM45 11h1v1h-1zM20 12h1v1h-1zM46 12h1v1h-1zM19 13h2v1h-2zM47 13h1v1h-1zM19 14h1v1h-1zM47 14h1v1h-1zM18 15h1v1h-1zM47 15h1v1h-1zM17 16h1v1h-1zM47 16h1v1h-1zM17 17h1v1h-1zM47 17h1v1h-1zM16 18h1v1h-1zM47 18h1v1h-1zM15 19h1v1h-1zM47 19h1v1h-1zM14 20h1v1h-1zM46 21h1v1h-1zM11 23h1v1h-1zM45 23h1v1h-1zM10 24h1v1h-1zM8 25h2v1h-2zM44 25h1v1h-1zM7 26h2v1h-2zM43 26h1v1h-1zM7 27h1v1h-1zM42 27h1v1h-1zM7 28h1v1h-1zM41 28h1v1h-1zM7 29h1v1h-1zM7 30h1v1h-1zM7 31h1v1h-1zM39 31h1v1h-1zM38 32h1v1h-1zM37 33h1v1h-1zM8 34h1v1h-1zM8 35h1v1h-1zM36 35h1v1h-1zM8 36h1v1h-1zM35 36h2v1h-2zM35 37h3v1h-3zM37 38h3v1h-3zM9 39h1v1h-1zM40 39h1v1h-1zM10 40h1v1h-1zM41 40h1v1h-1zM11 41h1v1h-1zM13 42h2v1h-2zM27 42h5v1h-5zM42 42h1v1h-1zM17 43h15v1h-15zM26 44h6v1h-6zM43 44h1v1h-1zM27 45h5v1h-5zM43 45h1v1h-1zM28 46h6v1h-6zM42 46h1v1h-1zM29 47h7v1h-7zM42 47h1v1h-1zM30 48h12v1h-12zM32 49h2v1h-2z"/><path fill="#606db8" d="M28 6h4v1h-4zM26 7h5v1h-5zM34 7h4v1h-4zM25 8h2v1h-2zM39 8h2v1h-2zM24 9h2v1h-2zM42 9h1v1h-1zM23 10h1v1h-1zM43 10h1v1h-1zM22 11h1v1h-1zM21 12h1v1h-1zM45 12h1v1h-1zM21 13h1v1h-1zM46 13h1v1h-1zM20 14h1v1h-1zM46 14h1v1h-1zM19 15h1v1h-1zM18 16h1v1h-1zM16 19h1v1h-1zM46 19h1v1h-1zM15 20h1v1h-1zM46 20h1v1h-1zM14 21h1v1h-1zM13 22h1v1h-1zM45 22h1v1h-1zM12 23h1v1h-1zM11 24h1v1h-1zM44 24h1v1h-1zM10 25h1v1h-1zM43 25h1v1h-1zM9 26h1v1h-1zM42 26h1v1h-1zM8 27h1v1h-1zM8 28h1v1h-1zM40 29h1v1h-1zM39 30h1v1h-1zM8 31h1v1h-1zM38 31h1v1h-1zM8 32h1v1h-1zM37 32h1v1h-1zM8 33h1v1h-1zM36 34h1v1h-1zM35 35h1v1h-1zM34 36h1v1h-1zM9 37h1v1h-1zM33 37h2v1h-2zM9 38h1v1h-1zM32 38h5v1h-5zM10 39h1v1h-1zM30 39h10v1h-10zM11 40h1v1h-1zM29 40h8v1h-8zM39 40h2v1h-2zM12 41h1v1h-1zM26 41h10v1h-10zM41 41h1v1h-1zM15 42h2v1h-2zM21 42h6v1h-6zM32 42h3v1h-3zM32 43h3v1h-3zM42 43h1v1h-1zM32 44h4v1h-4zM42 44h1v1h-1zM32 45h4v1h-4zM42 45h1v1h-1zM34 46h4v1h-4zM41 46h1v1h-1zM36 47h6v1h-6z"/><path fill="#6170b9" d="M31 7h3v1h-3zM27 8h3v1h-3zM38 8h1v1h-1zM26 9h1v1h-1zM41 9h1v1h-1zM24 10h2v1h-2zM23 11h2v1h-2zM44 11h1v1h-1zM22 12h1v1h-1zM45 13h1v1h-1zM21 14h1v1h-1zM20 15h1v1h-1zM46 15h1v1h-1zM19 16h1v1h-1zM46 16h1v1h-1zM18 17h1v1h-1zM46 17h1v1h-1zM17 18h1v1h-1zM46 18h1v1h-1zM45 20h1v1h-1zM45 21h1v1h-1zM14 22h1v1h-1zM13 23h1v1h-1zM44 23h1v1h-1zM12 24h1v1h-1zM43 24h1v1h-1zM11 25h1v1h-1zM10 26h1v1h-1zM9 27h1v1h-1zM41 27h1v1h-1zM40 28h1v1h-1zM8 29h1v1h-1zM39 29h1v1h-1zM8 30h1v1h-1zM36 33h1v1h-1zM35 34h1v1h-1zM34 35h1v1h-1zM9 36h1v1h-1zM33 36h1v1h-1zM32 37h1v1h-1zM30 38h2v1h-2zM29 39h1v1h-1zM27 40h2v1h-2zM37 40h2v1h-2zM13 41h2v1h-2zM24 41h2v1h-2zM36 41h5v1h-5zM17 42h4v1h-4zM35 42h3v1h-3zM40 42h2v1h-2zM35 43h2v1h-2zM41 43h1v1h-1zM36 44h2v1h-2zM41 44h1v1h-1zM36 45h3v1h-3zM40 45h2v1h-2zM38 46h3v1h-3z"/><path fill="#6172ba" d="M30 8h8v1h-8zM27 9h2v1h-2zM40 9h1v1h-1zM26 10h1v1h-1zM42 10h1v1h-1zM25 11h1v1h-1zM43 11h1v1h-1zM23 12h1v1h-1zM44 12h1v1h-1zM22 13h1v1h-1zM45 14h1v1h-1zM45 18h1v1h-1zM17 19h1v1h-1zM45 19h1v1h-1zM16 20h1v1h-1zM15 21h1v1h-1zM44 22h1v1h-1zM43 23h1v1h-1zM42 25h1v1h-1zM41 26h1v1h-1zM10 27h1v1h-1zM9 28h1v1h-1zM9 29h1v1h-1zM9 30h1v1h-1zM38 30h1v1h-1zM37 31h1v1h-1zM9 32h1v1h-1zM36 32h1v1h-1zM9 33h1v1h-1zM35 33h1v1h-1zM9 34h1v1h-1zM34 34h1v1h-1zM9 35h1v1h-1zM33 35h1v1h-1zM32 36h1v1h-1zM31 37h1v1h-1zM10 38h1v1h-1zM29 38h1v1h-1zM11 39h1v1h-1zM27 39h2v1h-2zM12 40h1v1h-1zM25 40h2v1h-2zM15 41h2v1h-2zM21 41h3v1h-3zM38 42h2v1h-2zM37 43h4v1h-4zM38 44h3v1h-3zM39 45h1v1h-1z"/><path fill="#6276ba" d="M29 9h3v1h-3zM38 9h2v1h-2zM27 10h2v1h-2zM41 10h1v1h-1zM26 11h1v1h-1zM42 11h1v1h-1zM24 12h1v1h-1zM23 13h1v1h-1zM44 13h1v1h-1zM22 14h1v1h-1zM21 15h1v1h-1zM45 15h1v1h-1zM20 16h1v1h-1zM45 16h1v1h-1zM19 17h1v1h-1zM45 17h1v1h-1zM18 18h1v1h-1zM44 20h1v1h-1zM44 21h1v1h-1zM14 23h1v1h-1zM13 24h1v1h-1zM42 24h1v1h-1zM12 25h1v1h-1zM11 26h1v1h-1zM40 27h1v1h-1zM10 28h1v1h-1zM39 28h1v1h-1zM9 31h1v1h-1zM10 36h1v1h-1zM31 36h1v1h-1zM10 37h1v1h-1zM30 37h1v1h-1zM11 38h1v1h-1zM28 38h1v1h-1zM12 39h1v1h-1zM26 39h1v1h-1zM13 40h1v1h-1zM23 40h2v1h-2zM17 41h4v1h-4z"/><path fill="#6379bb" d="M32 9h6v1h-6zM29 10h1v1h-1zM40 10h1v1h-1zM27 11h1v1h-1zM25 12h1v1h-1zM43 12h1v1h-1zM24 13h1v1h-1zM44 14h1v1h-1zM44 19h1v1h-1zM17 20h1v1h-1zM16 21h1v1h-1zM15 22h1v1h-1zM43 22h1v1h-1zM41 25h1v1h-1zM12 26h1v1h-1zM11 27h1v1h-1zM10 29h1v1h-1zM38 29h1v1h-1zM37 30h1v1h-1zM36 31h1v1h-1zM35 32h1v1h-1zM34 33h1v1h-1zM33 34h1v1h-1zM10 35h1v1h-1zM32 35h1v1h-1zM29 37h1v1h-1zM27 38h1v1h-1zM25 39h1v1h-1zM14 40h2v1h-2zM22 40h1v1h-1z"/><path fill="#5f59b1" d="M0 10h5v1h-5zM0 11h7v1h-7zM0 12h1v1h-1zM6 12h2v1h-2zM0 13h1v1h-1zM8 13h1v1h-1zM0 14h1v1h-1zM9 14h1v1h-1zM0 15h1v1h-1zM9 15h2v1h-2zM0 16h2v1h-2zM9 16h2v1h-2zM0 17h3v1h-3zM9 17h2v1h-2zM1 18h3v1h-3zM7 18h3v1h-3zM2 19h6v1h-6zM0 30h3v1h-3zM0 31h4v1h-4zM3 32h2v1h-2zM4 33h1v1h-1zM44 33h5v1h-5zM4 34h1v1h-1zM43 34h7v1h-7zM43 35h2v1h-2zM49 35h2v1h-2zM43 36h2v1h-2zM50 36h2v1h-2zM4 37h1v1h-1zM44 37h1v1h-1zM50 37h2v1h-2zM0 38h1v1h-1zM3 38h2v1h-2zM44 38h1v1h-1zM51 38h1v1h-1zM0 39h5v1h-5zM45 39h1v1h-1zM0 40h4v1h-4zM45 40h1v1h-1zM46 42h1v1h-1zM46 43h1v1h-1zM6 44h1v1h-1zM46 44h1v1h-1zM5 45h6v1h-6zM46 45h1v1h-1zM4 46h9v1h-9zM46 46h1v1h-1zM4 47h4v1h-4zM11 47h3v1h-3zM46 47h1v1h-1zM4 48h4v1h-4zM12 48h3v1h-3zM46 48h1v1h-1zM5 49h3v1h-3zM11 49h4v1h-4zM46 49h1v1h-1zM5 50h10v1h-10zM46 50h1v1h-1zM6 51h8v1h-8zM46 51h3v1h-3zM50 51h2v1h-2z"/><path fill="#637bbc" d="M30 10h1v1h-1zM39 10h1v1h-1zM28 11h1v1h-1zM41 11h1v1h-1zM26 12h1v1h-1zM42 12h1v1h-1zM43 13h1v1h-1zM23 14h1v1h-1zM22 15h1v1h-1zM44 15h1v1h-1zM21 16h1v1h-1zM44 16h1v1h-1zM20 17h1v1h-1zM44 17h1v1h-1zM19 18h1v1h-1zM44 18h1v1h-1zM18 19h1v1h-1zM43 21h1v1h-1zM42 23h1v1h-1zM14 24h1v1h-1zM13 25h1v1h-1zM40 26h1v1h-1zM11 28h1v1h-1zM10 30h1v1h-1zM10 31h1v1h-1zM10 32h1v1h-1zM10 33h1v1h-1zM10 34h1v1h-1zM31 35h1v1h-1zM30 36h1v1h-1zM11 37h1v1h-1zM28 37h1v1h-1zM12 38h1v1h-1zM13 39h1v1h-1zM24 39h1v1h-1zM16 40h6v1h-6z"/><path fill="#647ebc" d="M31 10h2v1h-2zM37 10h2v1h-2zM29 11h1v1h-1zM40 11h1v1h-1zM27 12h1v1h-1zM25 13h1v1h-1zM24 14h1v1h-1zM43 14h1v1h-1zM43 20h1v1h-1zM16 22h1v1h-1zM42 22h1v1h-1zM15 23h1v1h-1zM41 24h1v1h-1zM12 27h1v1h-1zM39 27h1v1h-1zM38 28h1v1h-1zM11 29h1v1h-1zM37 29h1v1h-1zM33 33h1v1h-1zM32 34h1v1h-1zM11 36h1v1h-1zM26 38h1v1h-1zM14 39h1v1h-1zM23 39h1v1h-1z"/><path fill="#6580bd" d="M33 10h4v1h-4zM30 11h1v1h-1zM39 11h1v1h-1zM41 12h1v1h-1zM26 13h1v1h-1zM42 13h1v1h-1zM23 15h1v1h-1zM43 15h1v1h-1zM22 16h1v1h-1zM43 16h1v1h-1zM21 17h1v1h-1zM43 18h1v1h-1zM43 19h1v1h-1zM18 20h1v1h-1zM17 21h1v1h-1zM14 25h1v1h-1zM40 25h1v1h-1zM13 26h1v1h-1zM12 28h1v1h-1zM11 30h1v1h-1zM36 30h1v1h-1zM11 31h1v1h-1zM35 31h1v1h-1zM34 32h1v1h-1zM11 34h1v1h-1zM11 35h1v1h-1zM30 35h1v1h-1zM29 36h1v1h-1zM12 37h1v1h-1zM27 37h1v1h-1zM13 38h1v1h-1zM25 38h1v1h-1zM15 39h1v1h-1zM22 39h1v1h-1z"/><path fill="#6684bd" d="M31 11h1v1h-1zM28 12h1v1h-1zM25 14h1v1h-1zM42 14h1v1h-1zM43 17h1v1h-1zM20 18h1v1h-1zM19 19h1v1h-1zM42 21h1v1h-1zM41 23h1v1h-1zM15 24h1v1h-1zM39 26h1v1h-1zM13 27h1v1h-1zM11 32h1v1h-1zM11 33h1v1h-1zM31 34h1v1h-1zM12 36h1v1h-1zM28 36h1v1h-1zM14 38h1v1h-1zM24 38h1v1h-1zM16 39h6v1h-6z"/><path fill="#6786be" d="M32 11h1v1h-1zM37 11h2v1h-2zM29 12h1v1h-1zM40 12h1v1h-1zM27 13h1v1h-1zM41 13h1v1h-1zM24 15h1v1h-1zM42 20h1v1h-1zM16 23h1v1h-1zM40 24h1v1h-1zM38 27h1v1h-1zM37 28h1v1h-1zM12 29h1v1h-1zM33 32h1v1h-1zM32 33h1v1h-1zM12 35h1v1h-1zM13 37h1v1h-1zM26 37h1v1h-1zM23 38h1v1h-1z"/><path fill="#6989be" d="M33 11h4v1h-4zM30 12h1v1h-1zM39 12h1v1h-1zM42 15h1v1h-1zM23 16h1v1h-1zM42 16h1v1h-1zM22 17h1v1h-1zM42 18h1v1h-1zM42 19h1v1h-1zM18 21h1v1h-1zM17 22h1v1h-1zM41 22h1v1h-1zM39 25h1v1h-1zM14 26h1v1h-1zM13 28h1v1h-1zM36 29h1v1h-1zM12 30h1v1h-1zM35 30h1v1h-1zM12 31h1v1h-1zM34 31h1v1h-1zM12 33h1v1h-1zM12 34h1v1h-1zM29 35h1v1h-1zM27 36h1v1h-1zM25 37h1v1h-1zM15 38h1v1h-1zM22 38h1v1h-1z"/><path fill="#5f55af" d="M1 12h5v1h-5zM1 13h7v1h-7zM1 14h3v1h-3zM6 14h3v1h-3zM1 15h3v1h-3zM7 15h2v1h-2zM2 16h7v1h-7zM3 17h6v1h-6zM4 18h3v1h-3zM0 32h3v1h-3zM0 33h4v1h-4zM0 34h1v1h-1zM3 34h1v1h-1zM0 35h1v1h-1zM3 35h2v1h-2zM45 35h4v1h-4zM0 36h2v1h-2zM3 36h2v1h-2zM45 36h5v1h-5zM0 37h4v1h-4zM45 37h5v1h-5zM1 38h2v1h-2zM45 38h2v1h-2zM49 38h2v1h-2zM46 39h1v1h-1zM50 39h2v1h-2zM46 40h1v1h-1zM51 40h1v1h-1zM46 41h1v1h-1zM51 41h1v1h-1zM47 43h1v1h-1zM47 44h1v1h-1zM8 47h3v1h-3zM47 47h1v1h-1zM8 48h4v1h-4zM47 48h1v1h-1zM8 49h3v1h-3zM47 49h1v1h-1zM51 49h1v1h-1zM47 50h5v1h-5zM49 51h1v1h-1z"/><path fill="#6a8bbf" d="M31 12h1v1h-1zM38 12h1v1h-1zM28 13h1v1h-1zM40 13h1v1h-1zM26 14h1v1h-1zM41 14h1v1h-1zM42 17h1v1h-1zM21 18h1v1h-1zM20 19h1v1h-1zM19 20h1v1h-1zM41 21h1v1h-1zM40 23h1v1h-1zM15 25h1v1h-1zM38 26h1v1h-1zM12 32h1v1h-1zM30 34h1v1h-1zM13 36h1v1h-1zM14 37h1v1h-1zM16 38h2v1h-2zM21 38h1v1h-1z"/><path fill="#6c8ebf" d="M32 12h1v1h-1zM37 12h1v1h-1zM25 15h1v1h-1zM41 15h1v1h-1zM41 20h1v1h-1zM16 24h1v1h-1zM14 27h1v1h-1zM37 27h1v1h-1zM13 29h1v1h-1zM31 33h1v1h-1zM13 35h1v1h-1zM28 35h1v1h-1zM26 36h1v1h-1zM15 37h1v1h-1zM24 37h1v1h-1zM18 38h3v1h-3z"/><path fill="#6e91c0" d="M33 12h4v1h-4zM29 13h1v1h-1zM39 13h1v1h-1zM27 14h1v1h-1zM40 14h1v1h-1zM24 16h1v1h-1zM41 16h1v1h-1zM41 19h1v1h-1zM40 22h1v1h-1zM17 23h1v1h-1zM39 24h1v1h-1zM15 26h1v1h-1zM14 28h1v1h-1zM36 28h1v1h-1zM35 29h1v1h-1zM13 30h1v1h-1zM34 30h1v1h-1zM13 31h1v1h-1zM33 31h1v1h-1zM32 32h1v1h-1zM13 34h1v1h-1zM14 36h1v1h-1zM23 37h1v1h-1z"/><path fill="#6f93c0" d="M30 13h1v1h-1zM26 15h1v1h-1zM23 17h1v1h-1zM41 17h1v1h-1zM22 18h1v1h-1zM41 18h1v1h-1zM19 21h1v1h-1zM18 22h1v1h-1zM38 25h1v1h-1zM13 32h1v1h-1zM13 33h1v1h-1zM29 34h1v1h-1zM25 36h1v1h-1zM16 37h1v1h-1zM22 37h1v1h-1z"/><path fill="#7196c1" d="M31 13h1v1h-1zM38 13h1v1h-1zM28 14h1v1h-1zM39 14h1v1h-1zM40 15h1v1h-1zM21 19h1v1h-1zM20 20h1v1h-1zM40 21h1v1h-1zM39 23h1v1h-1zM16 25h1v1h-1zM15 27h1v1h-1zM14 29h1v1h-1zM30 33h1v1h-1zM14 35h1v1h-1zM27 35h1v1h-1zM15 36h1v1h-1zM17 37h2v1h-2zM20 37h2v1h-2z"/><path fill="#7398c1" d="M32 13h1v1h-1zM37 13h1v1h-1zM25 16h1v1h-1zM40 16h1v1h-1zM40 20h1v1h-1zM17 24h1v1h-1zM37 26h1v1h-1zM14 30h1v1h-1zM31 32h1v1h-1zM14 34h1v1h-1zM24 36h1v1h-1zM19 37h1v1h-1z"/><path fill="#769bc1" d="M33 13h4v1h-4zM29 14h1v1h-1zM38 14h1v1h-1zM27 15h1v1h-1zM24 17h1v1h-1zM40 17h1v1h-1zM40 19h1v1h-1zM39 22h1v1h-1zM18 23h1v1h-1zM38 24h1v1h-1zM16 26h1v1h-1zM36 27h1v1h-1zM15 28h1v1h-1zM35 28h1v1h-1zM14 31h1v1h-1zM32 31h1v1h-1zM14 32h1v1h-1zM14 33h1v1h-1zM28 34h1v1h-1zM15 35h1v1h-1zM26 35h1v1h-1zM16 36h1v1h-1zM23 36h1v1h-1z"/><path fill="#5e52ad" d="M4 14h2v1h-2zM4 15h3v1h-3zM1 34h2v1h-2zM1 35h2v1h-2zM2 36h1v1h-1zM47 38h2v1h-2zM47 39h3v1h-3zM47 40h4v1h-4zM47 41h4v1h-4zM47 42h5v1h-5zM48 43h1v1h-1zM51 43h1v1h-1zM48 44h1v1h-1zM51 44h1v1h-1zM47 45h1v1h-1zM47 46h1v1h-1zM48 47h1v1h-1zM51 47h1v1h-1zM48 48h4v1h-4zM48 49h3v1h-3z"/><path fill="#779dc2" d="M30 14h1v1h-1zM39 15h1v1h-1zM23 18h1v1h-1zM40 18h1v1h-1zM34 29h1v1h-1zM33 30h1v1h-1zM17 36h1v1h-1z"/><path fill="#7ca2c2" d="M31 14h1v1h-1zM36 14h1v1h-1zM38 15h1v1h-1zM39 16h1v1h-1zM38 23h1v1h-1zM16 27h1v1h-1zM15 30h1v1h-1zM15 33h1v1h-1zM27 34h1v1h-1zM19 36h2v1h-2z"/><path fill="#7fa5c3" d="M32 14h1v1h-1zM35 14h1v1h-1zM25 17h1v1h-1zM39 17h1v1h-1zM39 18h1v1h-1zM39 19h1v1h-1zM39 20h1v1h-1zM18 24h1v1h-1zM36 26h1v1h-1zM15 31h1v1h-1zM15 32h1v1h-1zM30 32h1v1h-1zM16 34h1v1h-1zM17 35h1v1h-1zM24 35h1v1h-1z"/><path fill="#81a6c3" d="M33 14h2v1h-2zM29 15h1v1h-1zM37 15h1v1h-1zM27 16h1v1h-1zM38 16h1v1h-1zM38 22h1v1h-1zM37 24h1v1h-1zM17 26h1v1h-1zM35 27h1v1h-1zM16 28h1v1h-1zM31 31h1v1h-1z"/><path fill="#7aa0c2" d="M37 14h1v1h-1zM28 15h1v1h-1zM26 16h1v1h-1zM22 19h1v1h-1zM21 20h1v1h-1zM20 21h1v1h-1zM39 21h1v1h-1zM19 22h1v1h-1zM17 25h1v1h-1zM37 25h1v1h-1zM15 29h1v1h-1zM29 33h1v1h-1zM15 34h1v1h-1zM16 35h1v1h-1zM25 35h1v1h-1zM18 36h1v1h-1zM21 36h2v1h-2z"/><path fill="#88acc4" d="M30 15h1v1h-1zM36 15h1v1h-1zM38 17h1v1h-1zM23 19h1v1h-1zM38 21h1v1h-1zM20 22h1v1h-1zM36 25h1v1h-1zM16 29h1v1h-1zM16 32h1v1h-1zM17 34h1v1h-1zM19 35h4v1h-4z"/><path fill="#8aaec5" d="M31 15h1v1h-1zM35 15h1v1h-1zM28 16h1v1h-1zM37 16h1v1h-1zM26 17h1v1h-1zM38 18h1v1h-1zM22 20h1v1h-1zM38 20h1v1h-1zM21 21h1v1h-1zM37 23h1v1h-1zM18 25h1v1h-1zM17 27h1v1h-1zM16 30h1v1h-1zM16 31h1v1h-1zM29 32h1v1h-1zM25 34h1v1h-1z"/><path fill="#8eb1c5" d="M32 15h3v1h-3zM38 19h1v1h-1zM35 26h1v1h-1zM17 33h1v1h-1zM27 33h1v1h-1zM18 34h1v1h-1z"/><path fill="#91b2c6" d="M29 16h1v1h-1zM36 16h1v1h-1zM37 17h1v1h-1zM25 18h1v1h-1zM37 22h1v1h-1zM19 24h1v1h-1zM17 28h1v1h-1zM30 31h1v1h-1zM24 34h1v1h-1z"/><path fill="#97b7c7" d="M30 16h1v1h-1zM35 16h1v1h-1zM37 18h1v1h-1zM24 19h1v1h-1zM37 21h1v1h-1zM20 23h1v1h-1zM17 29h1v1h-1zM17 30h1v1h-1zM17 31h1v1h-1zM28 32h1v1h-1zM18 33h1v1h-1zM26 33h1v1h-1zM20 34h4v1h-4z"/><path fill="#9ebbc9" d="M31 16h4v1h-4zM22 21h1v1h-1zM21 22h1v1h-1zM36 23h1v1h-1zM19 25h1v1h-1zM18 27h1v1h-1zM18 32h1v1h-1zM19 33h1v1h-1z"/><path fill="#95b5c7" d="M27 17h1v1h-1zM36 24h1v1h-1zM18 26h1v1h-1zM34 27h1v1h-1zM33 28h1v1h-1zM32 29h1v1h-1zM31 30h1v1h-1zM17 32h1v1h-1zM19 34h1v1h-1z"/><path fill="#a3beca" d="M28 17h1v1h-1zM26 18h1v1h-1zM34 26h1v1h-1zM29 31h1v1h-1zM25 33h1v1h-1z"/><path fill="#aac2cc" d="M29 17h1v1h-1zM36 19h1v1h-1zM36 21h1v1h-1zM20 24h1v1h-1zM35 24h1v1h-1zM33 27h1v1h-1zM18 29h1v1h-1zM18 30h1v1h-1zM30 30h1v1h-1zM24 33h1v1h-1z"/><path fill="#b2c6ce" d="M30 17h1v1h-1zM33 17h1v1h-1zM27 18h1v1h-1zM35 18h1v1h-1zM24 20h1v1h-1z"/><path fill="#b6c8cf" d="M31 17h2v1h-2zM21 23h1v1h-1zM35 23h1v1h-1zM34 25h1v1h-1zM19 31h1v1h-1zM28 31h1v1h-1zM26 32h1v1h-1z"/><path fill="#afc4cd" d="M34 17h1v1h-1zM25 19h1v1h-1zM36 20h1v1h-1zM19 26h1v1h-1zM32 28h1v1h-1zM31 29h1v1h-1zM19 32h1v1h-1zM21 33h3v1h-3z"/><path fill="#a7c0cb" d="M35 17h1v1h-1zM36 18h1v1h-1zM36 22h1v1h-1zM18 28h1v1h-1zM18 31h1v1h-1zM27 32h1v1h-1zM20 33h1v1h-1z"/><path fill="#9cb9c8" d="M36 17h1v1h-1zM37 19h1v1h-1zM23 20h1v1h-1zM37 20h1v1h-1zM35 25h1v1h-1z"/><path fill="#85a9c4" d="M24 18h1v1h-1zM19 23h1v1h-1zM34 28h1v1h-1zM33 29h1v1h-1zM32 30h1v1h-1zM16 33h1v1h-1zM28 33h1v1h-1zM26 34h1v1h-1zM18 35h1v1h-1zM23 35h1v1h-1z"/><path fill="#beccd2" d="M28 18h1v1h-1zM34 18h1v1h-1zM35 20h1v1h-1zM35 21h1v1h-1zM35 22h1v1h-1zM20 25h1v1h-1zM33 26h1v1h-1zM19 28h1v1h-1zM19 30h1v1h-1z"/><path fill="#c5cfd5" d="M29 18h1v1h-1zM33 18h1v1h-1zM32 27h1v1h-1zM30 29h1v1h-1zM20 31h1v1h-1zM22 32h1v1h-1zM24 32h1v1h-1z"/><path fill="#ccd2d8" d="M30 18h2v1h-2zM25 20h1v1h-1zM34 23h1v1h-1z"/><path fill="#c8d0d6" d="M32 18h1v1h-1zM34 19h1v1h-1zM21 24h1v1h-1zM20 26h1v1h-1zM31 28h1v1h-1zM27 31h1v1h-1zM23 32h1v1h-1z"/><path fill="#c1cdd3" d="M26 19h1v1h-1zM34 24h1v1h-1zM19 29h1v1h-1zM29 30h1v1h-1zM21 32h1v1h-1zM25 32h1v1h-1z"/><path fill="#d0d4d9" d="M27 19h1v1h-1zM34 20h1v1h-1zM24 21h1v1h-1zM33 25h1v1h-1zM20 30h1v1h-1z"/><path fill="#d7d7dd" d="M28 19h1v1h-1zM32 19h1v1h-1zM21 25h1v1h-1zM32 26h1v1h-1zM22 31h1v1h-1z"/><path fill="#dcd9df" d="M29 19h1v1h-1zM31 19h1v1h-1zM31 27h1v1h-1zM30 28h1v1h-1zM21 30h1v1h-1zM23 31h2v1h-2z"/><path fill="#ded9e1" d="M30 19h1v1h-1zM33 21h1v1h-1zM33 23h1v1h-1z"/><path fill="#d2d5db" d="M33 19h1v1h-1zM34 21h1v1h-1zM23 22h1v1h-1zM34 22h1v1h-1zM22 23h1v1h-1zM20 27h1v1h-1zM21 31h1v1h-1zM26 31h1v1h-1z"/><path fill="#b9c9d0" d="M35 19h1v1h-1zM23 21h1v1h-1zM22 22h1v1h-1zM19 27h1v1h-1zM20 32h1v1h-1z"/><path fill="#dad8df" d="M26 20h1v1h-1zM33 20h1v1h-1zM33 24h1v1h-1zM29 29h1v1h-1zM25 31h1v1h-1z"/><path fill="#e1d9e2" d="M27 20h1v1h-1zM32 20h1v1h-1zM32 25h1v1h-1zM22 30h1v1h-1z"/><path fill="#e1d8df" d="M28 20h1v1h-1zM31 20h1v1h-1zM32 21h1v1h-1zM32 24h1v1h-1zM31 26h1v1h-1zM23 30h1v1h-1z"/><path fill="#e0d7da" d="M29 20h1v1h-1zM26 21h1v1h-1zM32 22h1v1h-1zM32 23h1v1h-1zM22 29h1v1h-1zM24 30h1v1h-1z"/><path fill="#e1d8dd" d="M30 20h1v1h-1zM22 25h1v1h-1zM30 27h1v1h-1zM29 28h1v1h-1zM25 30h1v1h-1z"/><path fill="#dfd9e1" d="M25 21h1v1h-1zM33 22h1v1h-1zM22 24h1v1h-1zM21 26h1v1h-1zM21 29h1v1h-1zM27 30h1v1h-1z"/><path fill="#ddd0cf" d="M27 21h1v1h-1zM24 23h1v1h-1zM23 29h1v1h-1z"/><path fill="#dbccc8" d="M28 21h1v1h-1zM31 24h1v1h-1zM30 26h1v1h-1zM28 28h1v1h-1zM26 29h1v1h-1z"/><path fill="#dacac3" d="M29 21h1v1h-1zM31 23h1v1h-1zM23 25h1v1h-1zM29 27h1v1h-1zM24 29h2v1h-2z"/><path fill="#dccfcd" d="M30 21h1v1h-1zM31 22h1v1h-1z"/><path fill="#dfd4d6" d="M31 21h1v1h-1zM23 24h1v1h-1zM22 26h1v1h-1zM22 28h1v1h-1z"/><path fill="#e2d9e2" d="M24 22h1v1h-1zM23 23h1v1h-1zM21 27h1v1h-1zM21 28h1v1h-1z"/><path fill="#ded3d3" d="M25 22h1v1h-1zM31 25h1v1h-1zM22 27h1v1h-1zM27 29h1v1h-1z"/><path fill="#d9c8c0" d="M26 22h1v1h-1zM23 28h1v1h-1z"/><path fill="#d4beaf" d="M27 22h1v1h-1zM30 23h1v1h-1zM24 28h1v1h-1z"/><path fill="#d2b8a7" d="M28 22h1v1h-1zM25 28h2v1h-2z"/><path fill="#d3baaa" d="M29 22h1v1h-1zM30 24h1v1h-1zM29 26h1v1h-1zM28 27h1v1h-1z"/><path fill="#d7c3b8" d="M30 22h1v1h-1zM25 23h1v1h-1zM24 24h1v1h-1zM30 25h1v1h-1zM23 26h1v1h-1zM23 27h1v1h-1z"/><path fill="#d0b29c" d="M26 23h1v1h-1zM24 27h1v1h-1z"/><path fill="#cea991" d="M27 23h2v1h-2zM28 26h1v1h-1zM25 27h1v1h-1z"/><path fill="#cfaf99" d="M29 23h1v1h-1zM25 24h1v1h-1zM29 25h1v1h-1zM24 26h1v1h-1z"/><path fill="#cca389" d="M26 24h1v1h-1zM25 26h1v1h-1z"/><path fill="#cb9d82" d="M27 24h1v1h-1zM26 26h1v1h-1z"/><path fill="#cba085" d="M28 24h1v1h-1zM28 25h1v1h-1zM27 26h1v1h-1z"/><path fill="#ceac94" d="M29 24h1v1h-1zM27 27h1v1h-1z"/><path fill="#d1b5a1" d="M24 25h1v1h-1z"/><path fill="#cda68c" d="M25 25h1v1h-1zM26 27h1v1h-1z"/><path fill="#ca9a7d" d="M26 25h2v1h-2z"/><path fill="#d5d6dc" d="M20 28h1v1h-1zM20 29h1v1h-1zM28 30h1v1h-1z"/><path fill="#d5c0b3" d="M27 28h1v1h-1z"/><path fill="#e2d9e1" d="M28 29h1v1h-1zM26 30h1v1h-1z"/><path fill="#5e4fac" d="M49 43h2v1h-2zM49 44h2v1h-2zM48 45h4v1h-4zM48 46h4v1h-4zM49 47h2v1h-2z"/></g></g></g><g clip-path="url(#clipR)"><g filter="url(#blurR)"><g transform="translate(526.3 756.91) scale(3.8021 3.7969)" shape-rendering="crispEdges"><path fill="#5e4caa" d="M0 0h1v1h-1zM40 0h1v1h-1zM47 0h1v1h-1zM8 1h1v1h-1zM36 1h1v1h-1zM82 1h1v1h-1zM45 2h1v1h-1zM56 2h1v1h-1zM58 2h1v1h-1zM99 2h1v1h-1zM25 3h1v1h-1zM48 3h1v1h-1zM52 3h1v1h-1zM2 4h1v1h-1zM8 4h1v1h-1zM23 4h1v1h-1zM26 4h1v1h-1zM51 4h1v1h-1zM82 4h2v1h-2zM98 4h1v1h-1zM25 5h1v1h-1zM56 5h1v1h-1zM1 6h1v1h-1zM21 6h1v1h-1zM32 6h1v1h-1zM38 6h1v1h-1zM49 6h1v1h-1zM81 6h2v1h-2zM86 6h1v1h-1zM90 6h1v1h-1zM12 7h1v1h-1zM60 7h1v1h-1zM12 8h1v1h-1zM26 8h1v1h-1zM50 8h1v1h-1zM57 8h1v1h-1zM73 8h1v1h-1zM80 8h1v1h-1zM85 8h1v1h-1zM89 8h1v1h-1zM93 8h1v1h-1zM96 8h1v1h-1zM30 9h1v1h-1zM67 9h1v1h-1zM75 9h1v1h-1zM11 10h1v1h-1zM91 10h1v1h-1zM17 11h1v1h-1zM54 11h1v1h-1zM41 12h1v1h-1zM48 12h1v1h-1zM75 12h1v1h-1zM99 12h1v1h-1zM34 13h1v1h-1zM41 13h1v1h-1zM78 13h1v1h-1zM83 13h1v1h-1zM89 13h1v1h-1zM95 13h1v1h-1zM4 14h1v1h-1zM24 14h1v1h-1zM35 14h1v1h-1zM58 14h1v1h-1zM98 14h1v1h-1zM9 15h1v1h-1zM40 15h1v1h-1zM79 15h1v1h-1zM5 16h1v1h-1zM10 16h1v1h-1zM42 16h1v1h-1zM72 16h1v1h-1zM6 17h1v1h-1zM25 17h1v1h-1zM27 17h1v1h-1zM46 17h1v1h-1zM97 17h1v1h-1zM8 18h1v1h-1zM21 18h1v1h-1zM94 18h2v1h-2zM25 19h1v1h-1zM94 19h1v1h-1zM14 20h1v1h-1zM47 20h1v1h-1zM89 20h1v1h-1zM99 20h1v1h-1zM1 21h1v1h-1zM8 21h1v1h-1zM20 21h1v1h-1zM46 21h1v1h-1zM84 21h1v1h-1zM88 21h1v1h-1zM92 21h1v1h-1zM22 23h1v1h-1zM33 23h1v1h-1zM52 23h1v1h-1zM95 23h1v1h-1zM3 24h1v1h-1zM7 24h2v1h-2zM15 24h1v1h-1zM22 24h1v1h-1zM27 24h1v1h-1zM21 25h1v1h-1zM30 25h1v1h-1zM46 25h1v1h-1zM10 26h1v1h-1zM21 26h1v1h-1zM34 26h1v1h-1zM93 26h1v1h-1zM30 27h1v1h-1zM37 27h1v1h-1zM88 28h1v1h-1zM25 29h1v1h-1zM38 29h2v1h-2zM96 29h1v1h-1zM2 30h1v1h-1zM46 30h1v1h-1zM94 30h1v1h-1zM97 30h1v1h-1zM29 31h1v1h-1zM24 32h1v1h-1zM96 32h1v1h-1zM2 33h1v1h-1zM16 33h3v1h-3zM87 33h1v1h-1zM90 33h1v1h-1zM16 34h1v1h-1zM23 34h1v1h-1zM36 34h1v1h-1zM82 34h1v1h-1zM90 34h1v1h-1zM85 35h1v1h-1zM89 35h1v1h-1zM19 36h1v1h-1zM22 36h1v1h-1zM31 36h2v1h-2zM92 36h1v1h-1zM98 36h1v1h-1zM2 37h1v1h-1zM12 37h1v1h-1zM16 37h1v1h-1zM25 37h1v1h-1zM34 37h1v1h-1zM84 37h1v1h-1zM0 38h1v1h-1zM9 38h1v1h-1zM30 38h1v1h-1zM20 39h1v1h-1zM82 39h1v1h-1zM11 40h1v1h-1zM18 40h1v1h-1zM11 41h1v1h-1zM91 41h1v1h-1zM99 41h1v1h-1zM80 42h1v1h-1zM1 43h1v1h-1zM29 43h1v1h-1zM74 43h1v1h-1zM6 44h1v1h-1zM11 44h2v1h-2zM77 44h1v1h-1zM17 45h1v1h-1zM29 45h1v1h-1zM98 45h1v1h-1zM92 46h1v1h-1zM14 47h1v1h-1zM86 47h1v1h-1zM2 48h1v1h-1zM14 48h1v1h-1zM17 48h1v1h-1zM24 48h1v1h-1zM32 48h1v1h-1zM84 48h1v1h-1zM87 48h1v1h-1zM84 49h1v1h-1zM5 50h2v1h-2zM83 50h1v1h-1zM86 50h1v1h-1zM4 51h1v1h-1zM14 51h1v1h-1zM20 51h1v1h-1zM2 52h1v1h-1zM11 52h1v1h-1zM16 52h3v1h-3zM90 52h1v1h-1zM92 52h1v1h-1zM95 52h1v1h-1zM2 53h1v1h-1zM35 53h1v1h-1zM5 54h1v1h-1zM74 54h1v1h-1zM8 55h1v1h-1zM15 55h1v1h-1zM21 55h1v1h-1zM91 55h1v1h-1zM15 56h1v1h-1zM72 56h1v1h-1zM98 56h1v1h-1zM3 57h1v1h-1zM2 58h1v1h-1zM6 58h1v1h-1zM24 58h1v1h-1zM66 58h2v1h-2zM76 58h1v1h-1zM12 59h1v1h-1zM17 59h1v1h-1zM61 59h1v1h-1zM69 59h1v1h-1zM78 59h1v1h-1zM82 59h1v1h-1zM84 59h1v1h-1zM86 59h1v1h-1zM90 59h1v1h-1zM4 60h1v1h-1zM8 60h1v1h-1zM82 60h1v1h-1zM4 61h1v1h-1zM7 61h1v1h-1zM12 61h1v1h-1zM27 61h1v1h-1zM0 62h2v1h-2zM18 62h1v1h-1zM70 62h1v1h-1zM78 62h2v1h-2zM1 63h2v1h-2zM72 63h1v1h-1zM76 63h1v1h-1zM94 63h1v1h-1zM1 64h1v1h-1zM7 64h1v1h-1zM23 64h1v1h-1zM61 64h1v1h-1zM69 64h1v1h-1zM88 64h1v1h-1zM94 64h1v1h-1zM8 65h1v1h-1zM19 65h1v1h-1zM24 65h2v1h-2zM60 65h1v1h-1zM10 66h1v1h-1zM84 66h1v1h-1zM87 66h1v1h-1zM99 66h1v1h-1zM9 67h1v1h-1zM24 67h1v1h-1zM66 67h1v1h-1zM82 67h1v1h-1zM98 67h2v1h-2zM7 68h1v1h-1zM14 68h1v1h-1zM24 68h1v1h-1zM73 68h1v1h-1zM80 68h1v1h-1zM8 69h2v1h-2zM18 69h1v1h-1zM55 69h1v1h-1zM75 69h2v1h-2zM26 70h1v1h-1zM48 70h1v1h-1zM64 70h1v1h-1zM82 70h1v1h-1zM92 70h1v1h-1zM99 70h1v1h-1zM50 71h1v1h-1zM56 71h1v1h-1zM85 71h1v1h-1zM15 72h1v1h-1zM49 72h1v1h-1zM55 72h1v1h-1zM57 72h2v1h-2zM71 72h3v1h-3zM0 73h2v1h-2zM67 73h1v1h-1zM76 73h1v1h-1zM79 73h1v1h-1zM7 74h1v1h-1zM14 74h1v1h-1zM60 74h2v1h-2zM67 74h1v1h-1zM69 74h1v1h-1zM72 74h1v1h-1zM92 74h2v1h-2zM3 75h1v1h-1zM12 75h1v1h-1zM21 75h1v1h-1zM27 75h1v1h-1zM45 75h2v1h-2zM69 75h1v1h-1zM83 75h2v1h-2zM94 75h1v1h-1zM98 75h1v1h-1zM1 76h1v1h-1zM12 76h1v1h-1zM61 76h1v1h-1zM80 76h1v1h-1zM21 77h1v1h-1zM60 77h2v1h-2zM63 77h1v1h-1zM76 77h1v1h-1zM81 77h1v1h-1zM93 77h1v1h-1zM62 78h1v1h-1zM88 78h1v1h-1zM31 79h1v1h-1zM56 79h1v1h-1zM60 79h1v1h-1zM17 80h1v1h-1zM25 80h1v1h-1zM30 80h1v1h-1zM46 80h1v1h-1zM61 80h1v1h-1zM67 80h1v1h-1zM78 80h2v1h-2zM84 80h1v1h-1zM97 80h1v1h-1zM99 80h1v1h-1zM3 81h1v1h-1zM25 81h1v1h-1zM31 81h1v1h-1zM47 81h1v1h-1zM70 81h1v1h-1zM84 81h2v1h-2zM15 82h1v1h-1zM31 82h1v1h-1zM40 82h1v1h-1zM55 82h1v1h-1zM92 82h1v1h-1zM98 82h1v1h-1zM22 83h2v1h-2zM70 83h1v1h-1zM83 83h1v1h-1zM92 83h1v1h-1zM94 83h1v1h-1zM99 83h1v1h-1zM12 84h1v1h-1zM17 84h1v1h-1zM21 84h2v1h-2zM44 84h1v1h-1zM47 84h1v1h-1zM62 84h1v1h-1zM85 84h1v1h-1zM94 84h1v1h-1zM97 84h1v1h-1zM15 85h1v1h-1zM18 85h1v1h-1zM21 85h1v1h-1zM29 85h1v1h-1zM33 85h1v1h-1zM99 85h1v1h-1zM20 86h1v1h-1zM42 86h1v1h-1zM66 86h1v1h-1zM70 86h1v1h-1zM3 87h1v1h-1zM14 87h1v1h-1zM21 87h1v1h-1zM31 87h1v1h-1zM54 87h1v1h-1zM60 87h1v1h-1zM73 87h1v1h-1zM33 88h1v1h-1zM43 88h1v1h-1zM68 88h1v1h-1zM81 88h1v1h-1zM94 88h1v1h-1zM17 89h1v1h-1zM54 89h1v1h-1zM81 89h1v1h-1zM85 89h1v1h-1zM92 89h1v1h-1zM2 90h1v1h-1zM4 90h1v1h-1zM38 90h1v1h-1zM63 90h1v1h-1zM80 90h1v1h-1zM85 90h2v1h-2zM90 90h1v1h-1zM0 91h1v1h-1zM5 91h1v1h-1zM33 91h1v1h-1zM35 91h1v1h-1zM37 91h2v1h-2zM67 91h1v1h-1zM73 91h1v1h-1zM86 91h1v1h-1zM3 92h1v1h-1zM11 92h1v1h-1zM30 92h1v1h-1zM32 92h1v1h-1zM34 92h1v1h-1zM46 92h1v1h-1zM51 92h1v1h-1zM88 92h1v1h-1zM94 92h1v1h-1zM26 93h1v1h-1zM42 93h1v1h-1zM45 93h2v1h-2zM72 93h1v1h-1zM76 93h1v1h-1zM11 94h1v1h-1zM48 94h1v1h-1zM51 94h1v1h-1zM72 94h1v1h-1zM95 94h1v1h-1zM6 95h1v1h-1zM44 95h1v1h-1zM69 95h1v1h-1zM74 95h1v1h-1zM81 95h1v1h-1zM94 95h1v1h-1zM22 96h1v1h-1zM38 96h1v1h-1zM55 96h2v1h-2zM74 96h1v1h-1zM78 96h1v1h-1zM82 96h1v1h-1zM39 97h1v1h-1zM51 97h1v1h-1zM63 97h1v1h-1zM90 97h1v1h-1zM96 97h1v1h-1zM34 98h1v1h-1zM55 98h1v1h-1zM63 98h1v1h-1zM70 98h1v1h-1zM6 99h1v1h-1z"/><path fill="#5e52ad" d="M1 0h1v1h-1zM15 0h1v1h-1zM82 0h1v1h-1zM4 1h1v1h-1zM6 1h1v1h-1zM40 1h1v1h-1zM48 1h1v1h-1zM61 1h1v1h-1zM8 2h1v1h-1zM33 2h1v1h-1zM42 2h1v1h-1zM97 2h1v1h-1zM3 3h1v1h-1zM7 3h1v1h-1zM69 3h1v1h-1zM11 5h1v1h-1zM14 5h1v1h-1zM26 5h1v1h-1zM89 5h1v1h-1zM93 5h1v1h-1zM13 6h1v1h-1zM25 6h1v1h-1zM33 6h1v1h-1zM37 6h1v1h-1zM58 6h1v1h-1zM60 6h1v1h-1zM97 6h1v1h-1zM1 7h1v1h-1zM11 7h1v1h-1zM59 7h1v1h-1zM64 7h1v1h-1zM80 7h1v1h-1zM71 8h1v1h-1zM84 8h1v1h-1zM12 9h1v1h-1zM21 9h1v1h-1zM24 9h1v1h-1zM37 9h1v1h-1zM64 9h1v1h-1zM68 9h1v1h-1zM71 9h1v1h-1zM73 9h1v1h-1zM78 9h1v1h-1zM10 10h1v1h-1zM50 10h1v1h-1zM78 10h1v1h-1zM83 10h2v1h-2zM25 11h1v1h-1zM43 11h1v1h-1zM59 11h1v1h-1zM69 11h1v1h-1zM83 11h1v1h-1zM16 12h1v1h-1zM35 12h1v1h-1zM56 12h1v1h-1zM58 12h1v1h-1zM14 13h1v1h-1zM38 13h1v1h-1zM56 13h1v1h-1zM99 13h1v1h-1zM13 14h1v1h-1zM20 14h1v1h-1zM50 14h1v1h-1zM21 15h2v1h-2zM42 15h1v1h-1zM49 15h1v1h-1zM53 15h1v1h-1zM13 16h1v1h-1zM26 16h1v1h-1zM45 16h1v1h-1zM67 16h1v1h-1zM85 16h1v1h-1zM97 16h1v1h-1zM19 17h1v1h-1zM28 17h1v1h-1zM35 17h1v1h-1zM43 17h1v1h-1zM71 17h1v1h-1zM78 17h1v1h-1zM85 17h1v1h-1zM19 18h1v1h-1zM29 18h1v1h-1zM43 18h1v1h-1zM83 18h1v1h-1zM1 19h1v1h-1zM46 19h1v1h-1zM68 19h1v1h-1zM70 19h1v1h-1zM82 19h1v1h-1zM1 20h1v1h-1zM4 20h1v1h-1zM15 20h1v1h-1zM27 20h1v1h-1zM59 20h1v1h-1zM73 20h1v1h-1zM97 20h1v1h-1zM80 21h1v1h-1zM15 22h1v1h-1zM29 22h1v1h-1zM36 22h1v1h-1zM39 22h1v1h-1zM84 22h1v1h-1zM3 23h1v1h-1zM14 23h1v1h-1zM26 23h1v1h-1zM88 23h1v1h-1zM3 25h1v1h-1zM29 25h1v1h-1zM34 25h1v1h-1zM41 25h1v1h-1zM49 25h1v1h-1zM91 25h1v1h-1zM8 26h1v1h-1zM12 26h1v1h-1zM28 26h1v1h-1zM82 26h1v1h-1zM5 27h1v1h-1zM19 27h1v1h-1zM21 27h1v1h-1zM24 27h1v1h-1zM82 27h1v1h-1zM82 28h1v1h-1zM86 28h1v1h-1zM91 28h1v1h-1zM1 29h1v1h-1zM4 29h1v1h-1zM7 29h1v1h-1zM13 29h1v1h-1zM33 29h1v1h-1zM46 29h1v1h-1zM9 30h1v1h-1zM14 30h1v1h-1zM22 30h1v1h-1zM40 30h1v1h-1zM80 30h1v1h-1zM92 30h1v1h-1zM96 30h1v1h-1zM40 31h1v1h-1zM80 31h1v1h-1zM90 31h1v1h-1zM7 32h2v1h-2zM19 32h1v1h-1zM34 32h1v1h-1zM1 33h1v1h-1zM14 33h1v1h-1zM86 33h1v1h-1zM89 33h1v1h-1zM97 33h1v1h-1zM26 34h1v1h-1zM46 34h1v1h-1zM80 34h1v1h-1zM21 35h1v1h-1zM80 35h1v1h-1zM97 35h1v1h-1zM37 36h1v1h-1zM85 36h1v1h-1zM22 37h1v1h-1zM18 38h1v1h-1zM35 38h1v1h-1zM94 38h1v1h-1zM26 39h1v1h-1zM76 40h1v1h-1zM1 41h1v1h-1zM8 41h1v1h-1zM18 41h1v1h-1zM89 41h1v1h-1zM5 42h1v1h-1zM9 42h1v1h-1zM97 42h1v1h-1zM26 43h1v1h-1zM37 43h1v1h-1zM96 43h1v1h-1zM7 44h1v1h-1zM19 44h1v1h-1zM27 44h1v1h-1zM84 44h1v1h-1zM20 45h1v1h-1zM24 45h1v1h-1zM31 46h1v1h-1zM88 46h1v1h-1zM29 47h1v1h-1zM34 47h1v1h-1zM18 48h1v1h-1zM25 48h1v1h-1zM95 48h1v1h-1zM16 49h1v1h-1zM21 49h1v1h-1zM86 49h1v1h-1zM93 49h1v1h-1zM20 50h1v1h-1zM2 51h1v1h-1zM18 51h2v1h-2zM28 51h1v1h-1zM88 51h1v1h-1zM96 51h1v1h-1zM21 52h1v1h-1zM24 52h1v1h-1zM82 52h1v1h-1zM30 53h1v1h-1zM2 54h1v1h-1zM22 54h1v1h-1zM70 54h1v1h-1zM85 54h1v1h-1zM5 55h1v1h-1zM10 55h1v1h-1zM73 55h1v1h-1zM70 56h1v1h-1zM86 56h1v1h-1zM20 57h1v1h-1zM97 57h1v1h-1zM10 58h1v1h-1zM74 58h1v1h-1zM16 59h1v1h-1zM70 59h1v1h-1zM97 59h1v1h-1zM1 60h1v1h-1zM11 60h1v1h-1zM14 60h1v1h-1zM8 61h1v1h-1zM10 61h1v1h-1zM15 61h1v1h-1zM21 61h1v1h-1zM29 61h1v1h-1zM2 62h1v1h-1zM5 62h1v1h-1zM8 62h1v1h-1zM21 62h1v1h-1zM25 62h1v1h-1zM27 62h1v1h-1zM64 62h1v1h-1zM66 62h1v1h-1zM89 62h1v1h-1zM19 63h1v1h-1zM26 63h1v1h-1zM84 63h1v1h-1zM3 64h1v1h-1zM35 64h1v1h-1zM55 64h1v1h-1zM67 64h1v1h-1zM70 64h1v1h-1zM80 64h1v1h-1zM32 65h1v1h-1zM59 65h1v1h-1zM8 66h1v1h-1zM11 66h1v1h-1zM72 66h1v1h-1zM6 67h1v1h-1zM12 67h1v1h-1zM25 67h1v1h-1zM83 67h1v1h-1zM72 68h1v1h-1zM75 68h1v1h-1zM85 68h1v1h-1zM89 68h1v1h-1zM92 68h1v1h-1zM60 69h1v1h-1zM78 69h1v1h-1zM81 69h2v1h-2zM90 69h1v1h-1zM94 69h1v1h-1zM6 70h1v1h-1zM12 70h1v1h-1zM18 70h1v1h-1zM62 70h1v1h-1zM90 70h1v1h-1zM51 71h1v1h-1zM13 72h1v1h-1zM21 72h1v1h-1zM44 72h1v1h-1zM53 72h1v1h-1zM62 72h1v1h-1zM75 72h1v1h-1zM77 72h1v1h-1zM99 72h1v1h-1zM6 73h1v1h-1zM8 73h1v1h-1zM54 73h1v1h-1zM24 74h1v1h-1zM54 74h1v1h-1zM64 74h1v1h-1zM73 74h1v1h-1zM1 75h1v1h-1zM23 75h1v1h-1zM50 75h1v1h-1zM62 75h2v1h-2zM65 75h2v1h-2zM76 75h1v1h-1zM0 76h1v1h-1zM40 76h1v1h-1zM44 76h1v1h-1zM73 76h1v1h-1zM77 76h1v1h-1zM18 77h1v1h-1zM40 77h1v1h-1zM42 77h1v1h-1zM44 77h2v1h-2zM58 77h1v1h-1zM94 77h1v1h-1zM44 78h1v1h-1zM58 78h1v1h-1zM79 78h1v1h-1zM81 78h1v1h-1zM83 78h1v1h-1zM97 78h1v1h-1zM14 79h2v1h-2zM37 79h1v1h-1zM46 79h1v1h-1zM72 79h1v1h-1zM77 79h2v1h-2zM93 79h1v1h-1zM19 80h1v1h-1zM29 80h1v1h-1zM33 80h1v1h-1zM44 80h1v1h-1zM77 80h1v1h-1zM19 81h1v1h-1zM26 81h3v1h-3zM33 81h1v1h-1zM37 81h2v1h-2zM55 81h1v1h-1zM67 81h1v1h-1zM1 82h2v1h-2zM5 82h1v1h-1zM45 82h1v1h-1zM52 82h1v1h-1zM58 82h1v1h-1zM74 82h1v1h-1zM41 83h1v1h-1zM93 83h1v1h-1zM56 84h1v1h-1zM77 84h1v1h-1zM82 84h1v1h-1zM98 84h1v1h-1zM28 85h1v1h-1zM19 86h1v1h-1zM29 86h2v1h-2zM34 86h1v1h-1zM65 86h1v1h-1zM78 86h1v1h-1zM28 87h1v1h-1zM61 87h1v1h-1zM64 87h1v1h-1zM7 88h1v1h-1zM18 88h1v1h-1zM65 88h1v1h-1zM77 88h1v1h-1zM83 88h1v1h-1zM85 88h1v1h-1zM92 88h1v1h-1zM28 89h1v1h-1zM30 89h1v1h-1zM34 89h1v1h-1zM15 90h1v1h-1zM53 90h1v1h-1zM59 90h1v1h-1zM67 90h1v1h-1zM88 90h1v1h-1zM18 91h1v1h-1zM46 91h1v1h-1zM66 91h1v1h-1zM7 92h1v1h-1zM13 92h1v1h-1zM31 92h1v1h-1zM60 92h1v1h-1zM76 92h3v1h-3zM99 92h1v1h-1zM13 93h2v1h-2zM23 93h1v1h-1zM43 93h1v1h-1zM71 93h1v1h-1zM90 93h1v1h-1zM16 94h1v1h-1zM21 94h1v1h-1zM26 94h1v1h-1zM29 94h1v1h-1zM34 94h1v1h-1zM65 94h1v1h-1zM71 94h1v1h-1zM80 94h1v1h-1zM87 94h1v1h-1zM93 94h1v1h-1zM10 95h1v1h-1zM40 95h1v1h-1zM43 95h1v1h-1zM45 95h1v1h-1zM52 95h1v1h-1zM68 95h1v1h-1zM80 95h1v1h-1zM92 95h1v1h-1zM69 96h1v1h-1zM85 96h1v1h-1zM28 97h1v1h-1zM35 97h1v1h-1zM56 97h1v1h-1zM19 98h1v1h-1zM54 98h1v1h-1zM58 98h1v1h-1zM62 98h1v1h-1zM80 98h1v1h-1zM22 99h1v1h-1zM67 99h1v1h-1zM85 99h1v1h-1zM93 99h1v1h-1z"/><path fill="#5d40a2" d="M2 0h1v1h-1zM8 0h1v1h-1zM12 0h1v1h-1zM36 0h1v1h-1zM54 0h1v1h-1zM56 0h1v1h-1zM78 0h1v1h-1zM86 0h1v1h-1zM97 0h1v1h-1zM9 1h1v1h-1zM14 1h1v1h-1zM78 1h1v1h-1zM84 1h1v1h-1zM14 2h2v1h-2zM25 2h1v1h-1zM53 2h1v1h-1zM88 2h1v1h-1zM8 3h1v1h-1zM12 3h1v1h-1zM21 3h1v1h-1zM28 3h1v1h-1zM30 3h1v1h-1zM43 3h1v1h-1zM46 3h1v1h-1zM55 3h1v1h-1zM58 3h1v1h-1zM88 3h1v1h-1zM13 4h1v1h-1zM15 4h1v1h-1zM19 4h1v1h-1zM37 4h1v1h-1zM60 4h1v1h-1zM80 4h1v1h-1zM96 4h1v1h-1zM13 5h1v1h-1zM18 5h1v1h-1zM24 5h1v1h-1zM51 5h1v1h-1zM57 5h1v1h-1zM62 5h1v1h-1zM66 5h1v1h-1zM71 5h1v1h-1zM79 5h1v1h-1zM83 5h1v1h-1zM88 5h1v1h-1zM97 5h1v1h-1zM22 6h1v1h-1zM24 6h1v1h-1zM56 6h1v1h-1zM62 6h1v1h-1zM94 6h1v1h-1zM48 7h1v1h-1zM55 7h1v1h-1zM81 7h1v1h-1zM97 7h1v1h-1zM59 8h1v1h-1zM70 8h1v1h-1zM79 8h1v1h-1zM83 8h1v1h-1zM17 9h1v1h-1zM47 9h1v1h-1zM76 9h1v1h-1zM88 9h1v1h-1zM93 9h2v1h-2zM8 10h1v1h-1zM30 10h1v1h-1zM44 10h1v1h-1zM58 10h1v1h-1zM4 11h2v1h-2zM21 11h1v1h-1zM30 11h1v1h-1zM49 11h1v1h-1zM78 11h1v1h-1zM82 11h1v1h-1zM2 12h1v1h-1zM12 12h1v1h-1zM26 12h1v1h-1zM37 12h1v1h-1zM39 12h1v1h-1zM62 12h1v1h-1zM80 12h1v1h-1zM88 12h1v1h-1zM1 13h1v1h-1zM76 13h1v1h-1zM18 14h1v1h-1zM40 14h1v1h-1zM84 14h1v1h-1zM15 15h1v1h-1zM34 15h1v1h-1zM45 15h1v1h-1zM92 15h1v1h-1zM2 16h1v1h-1zM9 16h1v1h-1zM86 16h1v1h-1zM95 16h2v1h-2zM16 17h1v1h-1zM37 17h1v1h-1zM24 18h2v1h-2zM28 18h1v1h-1zM84 18h1v1h-1zM88 18h1v1h-1zM97 18h1v1h-1zM3 19h1v1h-1zM9 19h1v1h-1zM37 19h2v1h-2zM2 20h1v1h-1zM4 21h1v1h-1zM12 21h1v1h-1zM33 21h1v1h-1zM6 22h1v1h-1zM26 22h1v1h-1zM92 22h2v1h-2zM32 23h1v1h-1zM90 23h1v1h-1zM26 24h1v1h-1zM77 25h1v1h-1zM16 26h2v1h-2zM4 27h1v1h-1zM83 27h1v1h-1zM91 27h1v1h-1zM19 28h1v1h-1zM2 29h1v1h-1zM26 29h1v1h-1zM93 29h1v1h-1zM16 31h1v1h-1zM19 31h1v1h-1zM96 31h1v1h-1zM4 32h1v1h-1zM20 32h1v1h-1zM40 32h1v1h-1zM87 32h1v1h-1zM32 33h1v1h-1zM34 33h1v1h-1zM22 34h1v1h-1zM28 34h1v1h-1zM85 34h1v1h-1zM95 34h1v1h-1zM12 35h1v1h-1zM22 35h1v1h-1zM26 35h1v1h-1zM36 35h1v1h-1zM2 36h1v1h-1zM21 36h1v1h-1zM28 36h1v1h-1zM33 36h1v1h-1zM45 36h1v1h-1zM17 37h1v1h-1zM87 37h1v1h-1zM6 38h1v1h-1zM12 38h2v1h-2zM97 38h1v1h-1zM2 39h1v1h-1zM7 39h2v1h-2zM15 39h1v1h-1zM19 39h1v1h-1zM96 39h1v1h-1zM30 40h1v1h-1zM79 40h1v1h-1zM88 40h1v1h-1zM12 41h1v1h-1zM19 41h1v1h-1zM81 41h1v1h-1zM97 41h1v1h-1zM83 42h1v1h-1zM85 42h1v1h-1zM91 42h1v1h-1zM19 43h2v1h-2zM83 43h2v1h-2zM87 43h1v1h-1zM97 43h2v1h-2zM5 44h1v1h-1zM9 44h2v1h-2zM80 44h1v1h-1zM94 44h1v1h-1zM4 45h1v1h-1zM5 46h1v1h-1zM10 46h1v1h-1zM12 46h1v1h-1zM21 46h1v1h-1zM33 46h1v1h-1zM91 46h1v1h-1zM0 47h1v1h-1zM20 47h1v1h-1zM15 48h1v1h-1zM78 48h1v1h-1zM92 48h1v1h-1zM6 49h1v1h-1zM9 49h1v1h-1zM92 49h1v1h-1zM11 50h1v1h-1zM17 50h1v1h-1zM22 50h1v1h-1zM25 50h2v1h-2zM81 50h2v1h-2zM3 51h1v1h-1zM26 51h1v1h-1zM27 52h1v1h-1zM21 53h1v1h-1zM23 53h2v1h-2zM77 53h1v1h-1zM98 53h1v1h-1zM4 54h1v1h-1zM30 54h1v1h-1zM73 54h1v1h-1zM88 54h1v1h-1zM2 55h1v1h-1zM7 55h1v1h-1zM19 55h1v1h-1zM78 55h1v1h-1zM89 55h1v1h-1zM10 56h1v1h-1zM16 56h1v1h-1zM18 56h1v1h-1zM4 57h1v1h-1zM18 57h1v1h-1zM82 57h1v1h-1zM91 57h1v1h-1zM16 58h1v1h-1zM71 58h1v1h-1zM15 59h1v1h-1zM91 59h1v1h-1zM99 59h1v1h-1zM7 60h1v1h-1zM83 60h1v1h-1zM3 61h1v1h-1zM17 61h1v1h-1zM4 62h1v1h-1zM26 62h1v1h-1zM65 62h1v1h-1zM97 62h1v1h-1zM71 63h1v1h-1zM80 63h2v1h-2zM83 63h1v1h-1zM6 64h1v1h-1zM76 64h1v1h-1zM98 64h1v1h-1zM1 65h1v1h-1zM69 65h1v1h-1zM75 65h1v1h-1zM86 65h1v1h-1zM92 65h1v1h-1zM77 66h1v1h-1zM86 66h1v1h-1zM98 66h1v1h-1zM10 67h1v1h-1zM17 67h1v1h-1zM70 67h1v1h-1zM74 68h1v1h-1zM82 68h1v1h-1zM86 68h1v1h-1zM94 68h1v1h-1zM66 69h1v1h-1zM97 69h1v1h-1zM4 70h1v1h-1zM13 70h1v1h-1zM15 70h1v1h-1zM57 70h1v1h-1zM74 70h1v1h-1zM95 70h1v1h-1zM17 71h1v1h-1zM22 71h1v1h-1zM52 71h1v1h-1zM60 71h1v1h-1zM62 71h1v1h-1zM77 71h1v1h-1zM5 72h1v1h-1zM48 72h1v1h-1zM54 72h1v1h-1zM56 72h1v1h-1zM59 72h1v1h-1zM84 72h1v1h-1zM90 72h1v1h-1zM5 73h1v1h-1zM22 73h1v1h-1zM68 73h1v1h-1zM80 73h1v1h-1zM86 73h1v1h-1zM94 73h1v1h-1zM78 74h1v1h-1zM17 75h1v1h-1zM55 75h3v1h-3zM74 75h1v1h-1zM81 75h2v1h-2zM89 75h1v1h-1zM95 75h1v1h-1zM17 76h1v1h-1zM68 76h1v1h-1zM78 76h1v1h-1zM82 76h1v1h-1zM98 76h1v1h-1zM8 77h1v1h-1zM66 77h1v1h-1zM95 77h1v1h-1zM12 78h1v1h-1zM40 78h1v1h-1zM68 78h1v1h-1zM87 78h1v1h-1zM90 78h1v1h-1zM79 79h1v1h-1zM84 79h1v1h-1zM86 79h1v1h-1zM96 79h1v1h-1zM2 80h1v1h-1zM5 80h1v1h-1zM28 80h1v1h-1zM69 80h1v1h-1zM76 80h1v1h-1zM90 80h1v1h-1zM95 80h1v1h-1zM18 81h1v1h-1zM33 82h2v1h-2zM56 82h1v1h-1zM15 83h1v1h-1zM24 83h1v1h-1zM33 83h1v1h-1zM35 83h1v1h-1zM66 83h3v1h-3zM75 83h1v1h-1zM38 84h1v1h-1zM69 84h1v1h-1zM99 84h1v1h-1zM8 85h1v1h-1zM41 85h1v1h-1zM48 85h1v1h-1zM74 85h1v1h-1zM38 86h1v1h-1zM71 86h1v1h-1zM73 86h1v1h-1zM10 87h1v1h-1zM19 87h2v1h-2zM40 87h1v1h-1zM46 87h1v1h-1zM48 87h2v1h-2zM66 87h1v1h-1zM77 87h1v1h-1zM85 87h1v1h-1zM29 88h1v1h-1zM64 88h1v1h-1zM67 88h1v1h-1zM88 88h1v1h-1zM0 89h1v1h-1zM21 89h1v1h-1zM75 89h1v1h-1zM78 89h1v1h-1zM94 89h1v1h-1zM10 90h1v1h-1zM37 90h1v1h-1zM49 90h1v1h-1zM94 90h1v1h-1zM1 91h2v1h-2zM4 91h1v1h-1zM11 91h1v1h-1zM14 91h1v1h-1zM59 91h1v1h-1zM65 91h1v1h-1zM76 91h1v1h-1zM12 92h1v1h-1zM92 92h1v1h-1zM97 92h1v1h-1zM29 93h1v1h-1zM35 93h1v1h-1zM40 93h1v1h-1zM74 93h1v1h-1zM80 93h1v1h-1zM5 94h1v1h-1zM46 94h1v1h-1zM68 94h1v1h-1zM79 94h1v1h-1zM13 95h1v1h-1zM22 95h1v1h-1zM53 95h1v1h-1zM55 95h1v1h-1zM84 95h1v1h-1zM86 95h1v1h-1zM72 96h1v1h-1zM86 96h1v1h-1zM5 97h1v1h-1zM16 97h1v1h-1zM27 97h1v1h-1zM7 98h1v1h-1zM23 98h1v1h-1zM25 98h1v1h-1zM36 98h1v1h-1zM73 98h1v1h-1zM97 98h1v1h-1zM7 99h1v1h-1zM9 99h2v1h-2zM23 99h1v1h-1zM44 99h1v1h-1zM52 99h1v1h-1zM84 99h1v1h-1zM96 99h1v1h-1z"/><path fill="#5c3499" d="M3 0h1v1h-1zM9 0h1v1h-1zM29 0h1v1h-1zM35 0h1v1h-1zM41 0h1v1h-1zM52 0h1v1h-1zM60 0h2v1h-2zM70 0h1v1h-1zM80 0h1v1h-1zM16 1h1v1h-1zM19 1h1v1h-1zM29 1h1v1h-1zM32 1h1v1h-1zM41 1h1v1h-1zM52 1h1v1h-1zM6 2h1v1h-1zM17 2h1v1h-1zM24 2h1v1h-1zM30 2h1v1h-1zM38 2h1v1h-1zM40 2h1v1h-1zM43 2h1v1h-1zM63 2h1v1h-1zM79 2h1v1h-1zM83 2h1v1h-1zM98 2h1v1h-1zM33 3h1v1h-1zM37 3h1v1h-1zM54 3h1v1h-1zM59 3h1v1h-1zM63 3h1v1h-1zM14 4h1v1h-1zM22 4h1v1h-1zM49 4h2v1h-2zM52 4h1v1h-1zM54 4h1v1h-1zM63 4h1v1h-1zM93 4h1v1h-1zM97 4h1v1h-1zM2 5h1v1h-1zM5 5h1v1h-1zM33 5h1v1h-1zM41 5h1v1h-1zM44 5h1v1h-1zM48 5h1v1h-1zM5 6h1v1h-1zM12 6h1v1h-1zM16 6h1v1h-1zM53 6h1v1h-1zM61 6h1v1h-1zM76 6h1v1h-1zM87 6h1v1h-1zM89 6h1v1h-1zM17 7h1v1h-1zM20 7h1v1h-1zM37 7h1v1h-1zM14 8h1v1h-1zM20 8h1v1h-1zM25 8h1v1h-1zM51 8h1v1h-1zM67 8h1v1h-1zM88 8h1v1h-1zM98 8h1v1h-1zM43 9h1v1h-1zM46 9h1v1h-1zM91 9h1v1h-1zM95 9h1v1h-1zM17 10h1v1h-1zM36 10h1v1h-1zM39 10h1v1h-1zM57 10h1v1h-1zM76 10h1v1h-1zM89 10h1v1h-1zM93 10h1v1h-1zM12 11h1v1h-1zM62 11h1v1h-1zM0 13h1v1h-1zM3 13h1v1h-1zM73 13h1v1h-1zM12 14h1v1h-1zM63 14h1v1h-1zM91 14h1v1h-1zM16 15h1v1h-1zM19 15h1v1h-1zM54 15h1v1h-1zM1 16h1v1h-1zM23 16h1v1h-1zM1 17h1v1h-1zM40 17h1v1h-1zM42 17h1v1h-1zM55 17h1v1h-1zM84 17h1v1h-1zM90 17h1v1h-1zM4 18h2v1h-2zM31 18h1v1h-1zM7 19h1v1h-1zM10 19h1v1h-1zM39 19h1v1h-1zM89 19h1v1h-1zM32 20h1v1h-1zM98 20h1v1h-1zM6 21h1v1h-1zM89 21h1v1h-1zM95 21h1v1h-1zM4 22h1v1h-1zM8 22h1v1h-1zM10 22h1v1h-1zM13 22h1v1h-1zM90 22h1v1h-1zM7 23h1v1h-1zM51 23h1v1h-1zM93 23h1v1h-1zM98 23h1v1h-1zM12 24h2v1h-2zM31 24h1v1h-1zM95 24h1v1h-1zM27 25h1v1h-1zM32 25h2v1h-2zM47 25h1v1h-1zM94 25h1v1h-1zM23 26h1v1h-1zM36 26h1v1h-1zM85 26h1v1h-1zM15 27h1v1h-1zM36 27h1v1h-1zM95 27h1v1h-1zM98 27h1v1h-1zM17 28h1v1h-1zM24 28h1v1h-1zM42 28h1v1h-1zM94 28h1v1h-1zM18 29h1v1h-1zM11 30h1v1h-1zM19 30h1v1h-1zM39 30h1v1h-1zM15 31h1v1h-1zM0 32h1v1h-1zM29 32h1v1h-1zM38 32h2v1h-2zM42 32h1v1h-1zM92 32h1v1h-1zM88 33h1v1h-1zM8 34h1v1h-1zM18 34h1v1h-1zM96 34h1v1h-1zM11 35h1v1h-1zM14 35h1v1h-1zM95 35h1v1h-1zM3 36h2v1h-2zM14 36h1v1h-1zM23 36h1v1h-1zM27 37h1v1h-1zM76 37h1v1h-1zM2 38h1v1h-1zM22 38h1v1h-1zM37 38h1v1h-1zM89 38h1v1h-1zM11 39h1v1h-1zM29 39h1v1h-1zM97 39h1v1h-1zM2 40h1v1h-1zM8 40h1v1h-1zM10 40h1v1h-1zM13 40h1v1h-1zM83 40h1v1h-1zM7 41h1v1h-1zM15 41h1v1h-1zM88 41h1v1h-1zM98 41h1v1h-1zM1 42h1v1h-1zM32 42h1v1h-1zM34 42h1v1h-1zM99 42h1v1h-1zM4 43h2v1h-2zM14 43h1v1h-1zM17 43h1v1h-1zM15 44h1v1h-1zM88 44h1v1h-1zM96 44h1v1h-1zM6 45h1v1h-1zM87 45h1v1h-1zM9 46h1v1h-1zM13 46h1v1h-1zM15 46h1v1h-1zM27 46h1v1h-1zM21 47h1v1h-1zM94 47h1v1h-1zM20 48h1v1h-1zM26 49h1v1h-1zM3 50h1v1h-1zM16 50h1v1h-1zM99 50h1v1h-1zM23 51h1v1h-1zM89 51h1v1h-1zM3 52h2v1h-2zM81 52h1v1h-1zM89 52h1v1h-1zM93 52h1v1h-1zM9 53h1v1h-1zM15 53h1v1h-1zM27 53h1v1h-1zM34 53h1v1h-1zM87 53h1v1h-1zM94 54h1v1h-1zM99 54h1v1h-1zM12 55h1v1h-1zM70 55h1v1h-1zM74 55h1v1h-1zM79 55h1v1h-1zM0 56h1v1h-1zM7 56h1v1h-1zM14 56h1v1h-1zM9 57h1v1h-1zM73 57h1v1h-1zM92 57h1v1h-1zM19 58h1v1h-1zM87 58h1v1h-1zM93 58h1v1h-1zM62 59h1v1h-1zM93 59h1v1h-1zM80 60h1v1h-1zM85 60h1v1h-1zM82 61h2v1h-2zM92 61h1v1h-1zM13 62h1v1h-1zM19 62h1v1h-1zM86 62h1v1h-1zM65 64h1v1h-1zM72 64h1v1h-1zM86 64h1v1h-1zM57 65h1v1h-1zM78 65h1v1h-1zM19 67h1v1h-1zM75 67h1v1h-1zM11 68h2v1h-2zM83 68h1v1h-1zM5 69h2v1h-2zM73 69h1v1h-1zM23 70h1v1h-1zM70 70h1v1h-1zM75 70h1v1h-1zM96 70h1v1h-1zM0 71h1v1h-1zM2 71h1v1h-1zM9 71h1v1h-1zM72 71h1v1h-1zM95 71h1v1h-1zM6 72h1v1h-1zM9 72h2v1h-2zM65 72h1v1h-1zM52 73h1v1h-1zM63 73h1v1h-1zM66 73h1v1h-1zM71 73h2v1h-2zM91 73h1v1h-1zM98 74h1v1h-1zM2 75h1v1h-1zM11 75h1v1h-1zM15 75h1v1h-1zM58 75h1v1h-1zM86 75h1v1h-1zM2 76h1v1h-1zM15 76h1v1h-1zM20 76h1v1h-1zM23 76h1v1h-1zM58 76h1v1h-1zM69 76h1v1h-1zM10 77h1v1h-1zM55 77h1v1h-1zM59 77h1v1h-1zM69 77h1v1h-1zM97 77h1v1h-1zM2 78h1v1h-1zM26 78h1v1h-1zM60 78h2v1h-2zM16 79h1v1h-1zM90 79h1v1h-1zM97 79h1v1h-1zM4 80h1v1h-1zM45 80h1v1h-1zM62 80h1v1h-1zM81 80h1v1h-1zM85 80h1v1h-1zM98 80h1v1h-1zM13 81h1v1h-1zM61 81h1v1h-1zM72 81h1v1h-1zM89 81h1v1h-1zM98 81h1v1h-1zM30 82h1v1h-1zM5 83h2v1h-2zM77 83h1v1h-1zM18 84h1v1h-1zM27 84h1v1h-1zM37 84h1v1h-1zM70 84h1v1h-1zM0 85h1v1h-1zM25 85h1v1h-1zM50 85h1v1h-1zM82 85h1v1h-1zM90 85h1v1h-1zM0 86h2v1h-2zM10 86h1v1h-1zM54 86h1v1h-1zM74 86h1v1h-1zM84 86h1v1h-1zM34 87h1v1h-1zM55 87h2v1h-2zM76 87h1v1h-1zM2 88h1v1h-1zM5 88h1v1h-1zM12 88h1v1h-1zM51 88h1v1h-1zM84 88h1v1h-1zM20 89h1v1h-1zM62 89h1v1h-1zM89 89h1v1h-1zM93 89h1v1h-1zM99 89h1v1h-1zM22 90h1v1h-1zM34 90h1v1h-1zM60 90h1v1h-1zM19 91h1v1h-1zM39 91h1v1h-1zM54 91h1v1h-1zM74 91h2v1h-2zM78 91h1v1h-1zM15 92h1v1h-1zM19 92h1v1h-1zM55 92h1v1h-1zM74 92h1v1h-1zM4 93h1v1h-1zM10 93h1v1h-1zM67 93h1v1h-1zM0 94h1v1h-1zM55 94h1v1h-1zM5 95h1v1h-1zM9 95h1v1h-1zM25 95h1v1h-1zM26 97h1v1h-1zM79 97h1v1h-1zM81 97h1v1h-1zM88 97h1v1h-1zM53 98h1v1h-1zM72 98h1v1h-1zM27 99h1v1h-1zM37 99h1v1h-1zM78 99h1v1h-1z"/><path fill="#572385" d="M4 0h1v1h-1zM96 0h1v1h-1zM13 1h1v1h-1zM38 1h1v1h-1zM54 1h2v1h-2zM70 1h2v1h-2zM75 1h1v1h-1zM80 1h1v1h-1zM20 2h1v1h-1zM31 2h1v1h-1zM70 2h1v1h-1zM78 2h1v1h-1zM16 3h1v1h-1zM24 3h1v1h-1zM44 3h1v1h-1zM51 3h1v1h-1zM83 3h1v1h-1zM24 4h1v1h-1zM39 4h1v1h-1zM41 4h1v1h-1zM8 5h1v1h-1zM37 5h1v1h-1zM47 5h1v1h-1zM61 5h1v1h-1zM92 5h1v1h-1zM29 6h1v1h-1zM51 6h1v1h-1zM83 6h1v1h-1zM18 7h1v1h-1zM31 7h1v1h-1zM52 7h1v1h-1zM82 7h1v1h-1zM82 8h1v1h-1zM13 9h1v1h-1zM36 9h1v1h-1zM14 10h1v1h-1zM18 10h1v1h-1zM34 11h1v1h-1zM80 11h1v1h-1zM87 11h1v1h-1zM27 12h1v1h-1zM42 13h1v1h-1zM45 13h1v1h-1zM77 14h1v1h-1zM93 14h1v1h-1zM18 15h1v1h-1zM23 15h1v1h-1zM99 15h1v1h-1zM6 16h1v1h-1zM80 16h1v1h-1zM91 16h1v1h-1zM47 17h1v1h-1zM86 17h1v1h-1zM89 17h1v1h-1zM30 18h1v1h-1zM39 18h1v1h-1zM89 18h1v1h-1zM6 19h1v1h-1zM8 20h1v1h-1zM9 21h1v1h-1zM86 21h1v1h-1zM88 22h1v1h-1zM99 22h1v1h-1zM91 23h1v1h-1zM4 24h1v1h-1zM6 24h1v1h-1zM8 25h1v1h-1zM11 25h2v1h-2zM96 25h1v1h-1zM7 26h1v1h-1zM18 26h1v1h-1zM87 26h1v1h-1zM33 27h1v1h-1zM45 27h1v1h-1zM5 28h1v1h-1zM18 28h1v1h-1zM41 28h1v1h-1zM8 29h2v1h-2zM15 29h1v1h-1zM89 30h1v1h-1zM23 31h1v1h-1zM39 31h1v1h-1zM25 32h1v1h-1zM97 32h1v1h-1zM9 33h1v1h-1zM13 33h1v1h-1zM29 33h1v1h-1zM33 33h1v1h-1zM96 33h1v1h-1zM4 34h1v1h-1zM17 34h1v1h-1zM25 34h1v1h-1zM33 34h1v1h-1zM13 35h1v1h-1zM23 35h1v1h-1zM37 35h1v1h-1zM13 36h1v1h-1zM79 36h1v1h-1zM11 37h1v1h-1zM21 37h1v1h-1zM86 37h1v1h-1zM88 38h1v1h-1zM17 40h1v1h-1zM0 41h1v1h-1zM9 41h1v1h-1zM82 41h1v1h-1zM6 42h1v1h-1zM14 42h1v1h-1zM88 42h1v1h-1zM95 42h1v1h-1zM35 43h1v1h-1zM4 44h1v1h-1zM86 46h1v1h-1zM99 46h1v1h-1zM27 47h1v1h-1zM16 53h2v1h-2zM94 53h1v1h-1zM9 54h1v1h-1zM12 54h1v1h-1zM89 54h1v1h-1zM77 55h1v1h-1zM98 55h1v1h-1zM3 56h1v1h-1zM9 56h1v1h-1zM11 56h1v1h-1zM13 57h1v1h-1zM90 57h1v1h-1zM70 58h1v1h-1zM13 59h1v1h-1zM87 59h1v1h-1zM89 59h1v1h-1zM96 59h1v1h-1zM13 60h1v1h-1zM86 60h1v1h-1zM13 61h1v1h-1zM76 61h1v1h-1zM93 61h1v1h-1zM14 62h1v1h-1zM68 62h1v1h-1zM98 62h1v1h-1zM78 63h1v1h-1zM91 63h1v1h-1zM96 63h1v1h-1zM9 64h1v1h-1zM16 64h1v1h-1zM91 64h1v1h-1zM2 65h1v1h-1zM10 65h1v1h-1zM15 65h1v1h-1zM18 65h1v1h-1zM80 65h1v1h-1zM18 66h1v1h-1zM35 66h1v1h-1zM69 67h1v1h-1zM91 67h1v1h-1zM17 68h1v1h-1zM79 68h1v1h-1zM93 68h1v1h-1zM68 69h2v1h-2zM71 69h1v1h-1zM8 70h1v1h-1zM71 70h1v1h-1zM73 70h1v1h-1zM14 71h1v1h-1zM57 71h1v1h-1zM76 71h1v1h-1zM86 71h1v1h-1zM64 72h1v1h-1zM79 72h2v1h-2zM48 73h1v1h-1zM70 73h1v1h-1zM95 73h1v1h-1zM66 74h1v1h-1zM71 74h1v1h-1zM81 74h1v1h-1zM87 74h1v1h-1zM18 75h1v1h-1zM61 75h1v1h-1zM88 75h1v1h-1zM99 75h1v1h-1zM55 76h1v1h-1zM71 76h1v1h-1zM85 76h1v1h-1zM89 76h1v1h-1zM11 77h3v1h-3zM52 77h1v1h-1zM89 77h1v1h-1zM16 78h1v1h-1zM27 78h1v1h-1zM59 78h1v1h-1zM66 79h1v1h-1zM91 79h1v1h-1zM7 80h1v1h-1zM18 80h1v1h-1zM63 80h1v1h-1zM89 80h1v1h-1zM46 81h1v1h-1zM76 81h1v1h-1zM87 81h1v1h-1zM13 82h1v1h-1zM18 83h1v1h-1zM44 83h1v1h-1zM59 83h1v1h-1zM62 83h1v1h-1zM95 83h1v1h-1zM2 84h1v1h-1zM35 84h2v1h-2zM87 84h1v1h-1zM89 84h1v1h-1zM2 85h1v1h-1zM13 85h1v1h-1zM38 85h1v1h-1zM58 85h1v1h-1zM60 85h1v1h-1zM63 85h1v1h-1zM8 86h1v1h-1zM17 86h1v1h-1zM1 87h1v1h-1zM30 87h1v1h-1zM42 87h1v1h-1zM70 87h1v1h-1zM86 87h1v1h-1zM92 87h1v1h-1zM98 87h1v1h-1zM4 88h1v1h-1zM57 88h1v1h-1zM63 88h1v1h-1zM86 88h1v1h-1zM40 89h2v1h-2zM70 89h1v1h-1zM19 90h1v1h-1zM78 90h1v1h-1zM98 90h1v1h-1zM9 91h1v1h-1zM30 91h1v1h-1zM81 91h1v1h-1zM99 91h1v1h-1zM20 92h1v1h-1zM29 92h1v1h-1zM15 93h1v1h-1zM86 93h1v1h-1zM10 94h1v1h-1zM66 94h1v1h-1zM84 94h1v1h-1zM47 95h1v1h-1zM2 96h1v1h-1zM34 96h1v1h-1zM90 96h1v1h-1zM1 97h1v1h-1zM3 97h1v1h-1zM17 97h1v1h-1zM37 97h1v1h-1zM78 97h1v1h-1zM0 98h1v1h-1zM18 98h1v1h-1zM38 98h1v1h-1zM57 99h1v1h-1zM87 99h1v1h-1z"/><path fill="#501a74" d="M5 0h1v1h-1zM21 1h1v1h-1zM45 1h1v1h-1zM51 1h1v1h-1zM60 1h1v1h-1zM74 1h1v1h-1zM55 2h1v1h-1zM89 2h1v1h-1zM65 3h1v1h-1zM93 3h1v1h-1zM28 4h1v1h-1zM31 4h1v1h-1zM33 4h1v1h-1zM45 4h1v1h-1zM88 4h1v1h-1zM1 5h1v1h-1zM21 5h1v1h-1zM40 5h1v1h-1zM43 5h1v1h-1zM45 5h1v1h-1zM65 5h1v1h-1zM35 6h1v1h-1zM52 6h1v1h-1zM34 7h1v1h-1zM86 7h1v1h-1zM88 7h1v1h-1zM10 8h1v1h-1zM29 8h1v1h-1zM34 8h1v1h-1zM38 8h1v1h-1zM52 8h1v1h-1zM29 9h1v1h-1zM72 9h1v1h-1zM49 10h1v1h-1zM74 10h2v1h-2zM81 10h1v1h-1zM11 11h1v1h-1zM13 11h1v1h-1zM23 11h1v1h-1zM63 11h1v1h-1zM75 11h1v1h-1zM51 13h1v1h-1zM39 14h1v1h-1zM44 14h2v1h-2zM81 15h1v1h-1zM19 16h1v1h-1zM98 16h1v1h-1zM85 18h1v1h-1zM42 19h1v1h-1zM98 19h1v1h-1zM6 20h1v1h-1zM10 20h1v1h-1zM19 20h1v1h-1zM93 20h1v1h-1zM21 22h1v1h-1zM33 22h1v1h-1zM96 22h1v1h-1zM4 23h1v1h-1zM0 24h1v1h-1zM10 24h1v1h-1zM49 24h1v1h-1zM95 25h1v1h-1zM86 26h1v1h-1zM94 26h1v1h-1zM32 27h1v1h-1zM6 28h1v1h-1zM26 28h1v1h-1zM93 28h1v1h-1zM16 29h1v1h-1zM92 29h1v1h-1zM10 31h2v1h-2zM38 31h1v1h-1zM97 31h1v1h-1zM7 33h1v1h-1zM99 34h1v1h-1zM8 35h1v1h-1zM0 37h2v1h-2zM3 37h1v1h-1zM88 37h2v1h-2zM10 39h1v1h-1zM89 39h1v1h-1zM98 39h1v1h-1zM16 40h1v1h-1zM97 40h1v1h-1zM11 43h1v1h-1zM88 45h1v1h-1zM2 46h1v1h-1zM24 46h1v1h-1zM24 47h1v1h-1zM33 47h1v1h-1zM11 48h1v1h-1zM97 48h1v1h-1zM20 53h1v1h-1zM69 57h1v1h-1zM11 58h1v1h-1zM76 59h1v1h-1zM79 59h1v1h-1zM71 60h1v1h-1zM99 60h1v1h-1zM86 61h1v1h-1zM88 62h1v1h-1zM75 63h1v1h-1zM79 63h1v1h-1zM95 63h1v1h-1zM35 65h1v1h-1zM66 65h1v1h-1zM99 65h1v1h-1zM87 67h1v1h-1zM89 67h1v1h-1zM16 68h1v1h-1zM70 68h1v1h-1zM11 69h1v1h-1zM70 69h1v1h-1zM67 70h2v1h-2zM78 70h1v1h-1zM89 70h1v1h-1zM93 70h1v1h-1zM59 71h1v1h-1zM71 71h1v1h-1zM98 72h1v1h-1zM10 73h1v1h-1zM2 74h1v1h-1zM65 74h1v1h-1zM68 74h1v1h-1zM80 75h1v1h-1zM85 75h1v1h-1zM10 76h1v1h-1zM13 76h1v1h-1zM4 77h1v1h-1zM47 77h2v1h-2zM95 81h1v1h-1zM12 82h1v1h-1zM0 83h1v1h-1zM12 83h1v1h-1zM63 83h1v1h-1zM13 84h1v1h-1zM49 84h1v1h-1zM24 85h1v1h-1zM37 85h1v1h-1zM62 85h1v1h-1zM94 85h1v1h-1zM5 86h1v1h-1zM7 86h1v1h-1zM24 86h2v1h-2zM45 86h1v1h-1zM50 86h1v1h-1zM68 86h1v1h-1zM4 87h1v1h-1zM84 87h1v1h-1zM87 87h1v1h-1zM90 87h1v1h-1zM1 88h1v1h-1zM3 88h1v1h-1zM54 88h1v1h-1zM61 88h1v1h-1zM73 88h1v1h-1zM25 89h1v1h-1zM38 89h1v1h-1zM56 89h1v1h-1zM72 89h1v1h-1zM39 90h2v1h-2zM56 91h1v1h-1zM60 91h1v1h-1zM10 92h1v1h-1zM28 92h1v1h-1zM43 92h1v1h-1zM53 93h1v1h-1zM84 93h1v1h-1zM38 94h1v1h-1zM28 95h1v1h-1zM0 96h1v1h-1zM13 96h1v1h-1zM15 97h1v1h-1zM36 97h1v1h-1zM74 97h1v1h-1zM98 98h1v1h-1zM11 99h1v1h-1zM71 99h1v1h-1z"/><path fill="#5f59b1" d="M6 0h1v1h-1zM53 0h1v1h-1zM55 0h1v1h-1zM92 0h1v1h-1zM67 1h1v1h-1zM76 1h1v1h-1zM10 2h1v1h-1zM36 2h1v1h-1zM41 2h1v1h-1zM10 3h1v1h-1zM36 3h1v1h-1zM38 3h1v1h-1zM62 3h1v1h-1zM96 3h2v1h-2zM1 4h1v1h-1zM44 4h1v1h-1zM56 4h1v1h-1zM17 5h1v1h-1zM80 5h1v1h-1zM98 5h1v1h-1zM14 6h1v1h-1zM23 6h1v1h-1zM48 6h1v1h-1zM80 6h1v1h-1zM91 6h1v1h-1zM5 7h1v1h-1zM50 7h1v1h-1zM67 7h1v1h-1zM24 8h1v1h-1zM10 9h1v1h-1zM16 9h1v1h-1zM20 9h1v1h-1zM41 9h1v1h-1zM85 9h1v1h-1zM97 9h1v1h-1zM33 10h1v1h-1zM55 10h1v1h-1zM72 10h1v1h-1zM90 10h1v1h-1zM48 11h1v1h-1zM57 11h1v1h-1zM67 11h1v1h-1zM90 11h1v1h-1zM9 12h1v1h-1zM22 12h1v1h-1zM38 12h1v1h-1zM63 12h1v1h-1zM66 12h1v1h-1zM10 13h1v1h-1zM19 13h1v1h-1zM58 13h2v1h-2zM70 13h1v1h-1zM7 14h1v1h-1zM21 14h1v1h-1zM34 14h1v1h-1zM70 14h1v1h-1zM76 14h1v1h-1zM30 15h1v1h-1zM37 15h1v1h-1zM43 15h1v1h-1zM47 15h1v1h-1zM57 15h1v1h-1zM3 16h1v1h-1zM7 16h1v1h-1zM24 16h1v1h-1zM38 16h2v1h-2zM78 16h1v1h-1zM32 17h1v1h-1zM88 17h1v1h-1zM6 18h1v1h-1zM12 18h2v1h-2zM27 18h1v1h-1zM41 18h1v1h-1zM69 18h2v1h-2zM34 19h1v1h-1zM44 19h1v1h-1zM54 19h1v1h-1zM65 19h1v1h-1zM0 20h1v1h-1zM43 20h1v1h-1zM46 20h1v1h-1zM88 20h1v1h-1zM32 21h1v1h-1zM34 21h1v1h-1zM40 21h1v1h-1zM59 21h1v1h-1zM74 21h1v1h-1zM5 22h1v1h-1zM14 22h1v1h-1zM62 22h1v1h-1zM18 23h2v1h-2zM49 23h1v1h-1zM92 23h1v1h-1zM20 24h1v1h-1zM29 24h2v1h-2zM51 24h1v1h-1zM14 25h1v1h-1zM93 25h1v1h-1zM5 26h1v1h-1zM9 26h1v1h-1zM24 26h1v1h-1zM99 26h1v1h-1zM13 27h1v1h-1zM35 27h1v1h-1zM54 27h1v1h-1zM28 28h1v1h-1zM34 28h1v1h-1zM47 28h1v1h-1zM24 29h1v1h-1zM0 30h1v1h-1zM4 30h1v1h-1zM88 30h1v1h-1zM2 31h1v1h-1zM6 31h1v1h-1zM30 31h1v1h-1zM37 31h1v1h-1zM91 31h1v1h-1zM26 32h1v1h-1zM83 32h1v1h-1zM15 33h1v1h-1zM23 33h1v1h-1zM25 33h1v1h-1zM92 33h2v1h-2zM30 34h1v1h-1zM91 34h1v1h-1zM79 35h1v1h-1zM88 35h1v1h-1zM15 36h1v1h-1zM95 36h1v1h-1zM19 37h1v1h-1zM28 37h1v1h-1zM33 37h1v1h-1zM38 37h1v1h-1zM77 37h1v1h-1zM81 37h1v1h-1zM92 37h1v1h-1zM4 38h1v1h-1zM7 38h1v1h-1zM24 38h1v1h-1zM29 38h1v1h-1zM99 38h1v1h-1zM12 39h1v1h-1zM24 39h2v1h-2zM30 39h1v1h-1zM85 39h1v1h-1zM22 40h1v1h-1zM80 40h1v1h-1zM5 41h1v1h-1zM20 41h1v1h-1zM83 41h1v1h-1zM8 42h1v1h-1zM10 42h1v1h-1zM20 42h1v1h-1zM27 42h1v1h-1zM29 42h1v1h-1zM0 43h1v1h-1zM2 43h1v1h-1zM27 43h1v1h-1zM89 43h1v1h-1zM95 43h1v1h-1zM18 44h1v1h-1zM74 44h1v1h-1zM81 44h1v1h-1zM80 45h1v1h-1zM86 45h1v1h-1zM7 46h1v1h-1zM16 46h1v1h-1zM18 46h1v1h-1zM79 46h1v1h-1zM82 46h1v1h-1zM98 46h1v1h-1zM7 47h1v1h-1zM33 48h1v1h-1zM15 49h1v1h-1zM19 49h2v1h-2zM24 49h1v1h-1zM81 49h1v1h-1zM83 49h1v1h-1zM87 49h1v1h-1zM91 49h1v1h-1zM95 49h1v1h-1zM92 50h1v1h-1zM0 51h1v1h-1zM1 52h1v1h-1zM8 52h1v1h-1zM13 52h1v1h-1zM19 52h1v1h-1zM91 52h1v1h-1zM99 53h1v1h-1zM17 54h2v1h-2zM21 54h1v1h-1zM24 54h1v1h-1zM66 54h2v1h-2zM72 54h1v1h-1zM79 54h1v1h-1zM95 54h1v1h-1zM17 55h1v1h-1zM75 55h1v1h-1zM84 55h1v1h-1zM87 55h1v1h-1zM21 56h1v1h-1zM69 56h1v1h-1zM71 56h1v1h-1zM77 56h2v1h-2zM6 57h1v1h-1zM15 57h1v1h-1zM67 57h2v1h-2zM83 57h1v1h-1zM81 58h1v1h-1zM2 59h1v1h-1zM5 59h1v1h-1zM7 59h2v1h-2zM11 59h1v1h-1zM68 59h1v1h-1zM77 59h1v1h-1zM80 59h2v1h-2zM6 60h1v1h-1zM14 61h1v1h-1zM69 61h1v1h-1zM90 61h1v1h-1zM81 62h1v1h-1zM6 63h1v1h-1zM8 63h1v1h-1zM62 63h1v1h-1zM99 63h1v1h-1zM11 64h1v1h-1zM66 64h1v1h-1zM95 64h1v1h-1zM11 65h1v1h-1zM61 65h2v1h-2zM65 65h1v1h-1zM88 65h1v1h-1zM9 66h1v1h-1zM60 66h1v1h-1zM93 66h1v1h-1zM1 67h1v1h-1zM13 67h2v1h-2zM80 67h1v1h-1zM2 68h1v1h-1zM4 68h1v1h-1zM15 69h1v1h-1zM48 69h1v1h-1zM74 69h1v1h-1zM96 69h1v1h-1zM58 70h1v1h-1zM66 70h1v1h-1zM1 71h1v1h-1zM10 71h1v1h-1zM48 71h1v1h-1zM64 71h1v1h-1zM68 71h1v1h-1zM52 72h1v1h-1zM66 72h1v1h-1zM87 72h1v1h-1zM91 72h1v1h-1zM41 73h1v1h-1zM49 73h1v1h-1zM57 73h2v1h-2zM25 74h1v1h-1zM44 74h1v1h-1zM46 74h1v1h-1zM0 75h1v1h-1zM8 75h1v1h-1zM29 75h1v1h-1zM77 75h1v1h-1zM90 75h1v1h-1zM96 75h1v1h-1zM22 76h1v1h-1zM27 76h1v1h-1zM49 76h1v1h-1zM74 76h1v1h-1zM79 76h1v1h-1zM91 76h1v1h-1zM95 76h1v1h-1zM10 78h1v1h-1zM23 78h1v1h-1zM56 78h1v1h-1zM69 78h1v1h-1zM99 78h1v1h-1zM24 79h1v1h-1zM28 79h2v1h-2zM53 79h1v1h-1zM63 79h1v1h-1zM92 79h1v1h-1zM21 80h1v1h-1zM37 80h1v1h-1zM21 81h1v1h-1zM56 81h1v1h-1zM90 81h1v1h-1zM32 82h1v1h-1zM53 82h1v1h-1zM69 82h1v1h-1zM16 83h1v1h-1zM20 83h1v1h-1zM31 83h1v1h-1zM91 83h1v1h-1zM11 84h1v1h-1zM15 84h2v1h-2zM45 84h1v1h-1zM59 84h2v1h-2zM72 84h1v1h-1zM20 85h1v1h-1zM47 85h1v1h-1zM53 85h1v1h-1zM69 85h1v1h-1zM44 86h1v1h-1zM60 86h2v1h-2zM64 86h1v1h-1zM81 86h1v1h-1zM18 87h1v1h-1zM30 88h1v1h-1zM41 88h1v1h-1zM45 88h1v1h-1zM50 88h1v1h-1zM78 88h1v1h-1zM4 89h1v1h-1zM14 89h1v1h-1zM27 89h1v1h-1zM79 89h1v1h-1zM84 89h1v1h-1zM91 89h1v1h-1zM95 89h1v1h-1zM0 90h1v1h-1zM5 90h1v1h-1zM13 90h1v1h-1zM33 90h1v1h-1zM35 90h1v1h-1zM41 90h1v1h-1zM40 91h1v1h-1zM58 91h1v1h-1zM68 91h1v1h-1zM70 91h1v1h-1zM85 91h1v1h-1zM87 91h1v1h-1zM90 91h1v1h-1zM4 92h1v1h-1zM14 92h1v1h-1zM16 92h1v1h-1zM89 92h2v1h-2zM5 93h1v1h-1zM20 93h1v1h-1zM22 93h1v1h-1zM25 93h1v1h-1zM54 93h1v1h-1zM91 93h1v1h-1zM7 94h1v1h-1zM12 94h1v1h-1zM22 94h1v1h-1zM25 94h1v1h-1zM49 94h1v1h-1zM77 94h1v1h-1zM26 95h1v1h-1zM35 95h1v1h-1zM41 95h1v1h-1zM46 95h1v1h-1zM70 95h1v1h-1zM73 95h1v1h-1zM96 95h1v1h-1zM44 96h1v1h-1zM50 96h1v1h-1zM57 96h1v1h-1zM76 96h1v1h-1zM24 97h1v1h-1zM32 97h1v1h-1zM43 97h1v1h-1zM46 97h1v1h-1zM59 97h1v1h-1zM70 97h1v1h-1zM76 97h1v1h-1zM82 97h1v1h-1zM39 98h1v1h-1zM41 98h1v1h-1zM82 98h1v1h-1zM85 98h1v1h-1zM41 99h1v1h-1zM63 99h1v1h-1zM69 99h1v1h-1zM76 99h1v1h-1zM97 99h1v1h-1z"/><path fill="#6a8bbf" d="M7 0h1v1h-1zM58 0h1v1h-1zM42 3h1v1h-1zM75 3h1v1h-1zM3 5h1v1h-1zM81 5h1v1h-1zM68 6h1v1h-1zM99 6h1v1h-1zM32 12h1v1h-1zM84 12h1v1h-1zM53 13h1v1h-1zM86 13h1v1h-1zM9 14h1v1h-1zM89 14h1v1h-1zM26 15h1v1h-1zM8 16h1v1h-1zM11 16h1v1h-1zM65 16h1v1h-1zM39 17h1v1h-1zM23 18h1v1h-1zM55 18h1v1h-1zM61 18h1v1h-1zM93 18h1v1h-1zM20 19h1v1h-1zM41 19h1v1h-1zM49 19h1v1h-1zM78 19h1v1h-1zM23 20h1v1h-1zM63 20h1v1h-1zM70 20h2v1h-2zM37 21h1v1h-1zM71 21h1v1h-1zM76 21h2v1h-2zM74 22h1v1h-1zM25 23h1v1h-1zM30 23h1v1h-1zM71 23h1v1h-1zM79 23h2v1h-2zM35 24h1v1h-1zM58 24h1v1h-1zM37 25h1v1h-1zM40 25h1v1h-1zM50 25h1v1h-1zM76 25h1v1h-1zM44 26h1v1h-1zM90 26h1v1h-1zM14 27h1v1h-1zM41 27h1v1h-1zM56 27h1v1h-1zM90 27h1v1h-1zM29 28h1v1h-1zM38 28h1v1h-1zM43 28h1v1h-1zM99 28h1v1h-1zM51 29h1v1h-1zM36 30h1v1h-1zM83 30h1v1h-1zM26 31h1v1h-1zM3 32h1v1h-1zM35 32h1v1h-1zM45 32h1v1h-1zM48 33h1v1h-1zM19 34h1v1h-1zM81 34h1v1h-1zM35 35h1v1h-1zM25 36h1v1h-1zM83 36h1v1h-1zM99 36h1v1h-1zM39 37h1v1h-1zM45 37h1v1h-1zM78 39h1v1h-1zM25 40h1v1h-1zM36 40h2v1h-2zM92 40h1v1h-1zM3 41h1v1h-1zM79 41h2v1h-2zM93 41h1v1h-1zM75 42h2v1h-2zM38 43h1v1h-1zM24 44h1v1h-1zM34 44h1v1h-1zM37 44h1v1h-1zM72 44h1v1h-1zM36 45h1v1h-1zM19 46h1v1h-1zM74 46h1v1h-1zM81 46h1v1h-1zM82 47h1v1h-1zM90 47h1v1h-1zM72 48h1v1h-1zM77 48h1v1h-1zM8 49h1v1h-1zM32 49h1v1h-1zM72 49h1v1h-1zM30 51h1v1h-1zM86 51h1v1h-1zM6 52h1v1h-1zM0 53h1v1h-1zM65 53h2v1h-2zM68 54h1v1h-1zM25 55h1v1h-1zM66 57h1v1h-1zM75 57h1v1h-1zM87 57h1v1h-1zM7 58h1v1h-1zM15 58h1v1h-1zM33 58h1v1h-1zM61 58h2v1h-2zM78 58h1v1h-1zM94 58h1v1h-1zM10 59h1v1h-1zM20 60h1v1h-1zM95 60h1v1h-1zM60 61h1v1h-1zM24 62h1v1h-1zM24 63h1v1h-1zM30 63h2v1h-2zM56 63h1v1h-1zM26 64h1v1h-1zM60 64h1v1h-1zM13 65h1v1h-1zM63 65h2v1h-2zM82 65h1v1h-1zM23 66h1v1h-1zM28 66h1v1h-1zM73 66h1v1h-1zM83 66h1v1h-1zM26 68h1v1h-1zM36 68h1v1h-1zM49 68h2v1h-2zM77 68h1v1h-1zM51 69h1v1h-1zM62 69h1v1h-1zM63 70h1v1h-1zM84 70h1v1h-1zM19 71h1v1h-1zM31 71h1v1h-1zM54 71h1v1h-1zM28 72h1v1h-1zM29 73h1v1h-1zM15 74h2v1h-2zM28 74h1v1h-1zM94 74h1v1h-1zM31 76h1v1h-1zM53 76h1v1h-1zM62 76h1v1h-1zM67 76h1v1h-1zM93 76h1v1h-1zM29 77h1v1h-1zM31 77h1v1h-1zM50 78h1v1h-1zM70 78h1v1h-1zM98 78h1v1h-1zM36 79h1v1h-1zM40 79h1v1h-1zM10 81h1v1h-1zM43 81h1v1h-1zM23 82h1v1h-1zM37 82h1v1h-1zM48 82h1v1h-1zM70 82h1v1h-1zM36 86h1v1h-1zM59 86h1v1h-1zM36 87h1v1h-1zM31 88h1v1h-1zM35 88h1v1h-1zM80 88h1v1h-1zM31 89h1v1h-1zM43 90h1v1h-1zM47 90h1v1h-1zM79 90h1v1h-1zM45 91h1v1h-1zM61 92h1v1h-1zM85 92h1v1h-1zM17 93h1v1h-1zM65 93h1v1h-1zM87 93h1v1h-1zM96 93h1v1h-1zM58 94h1v1h-1zM75 94h1v1h-1zM37 95h1v1h-1zM11 96h1v1h-1zM47 96h1v1h-1zM61 96h1v1h-1zM64 96h1v1h-1zM92 96h1v1h-1zM13 97h1v1h-1zM52 97h1v1h-1zM65 97h1v1h-1zM87 97h1v1h-1zM31 98h1v1h-1zM29 99h1v1h-1zM50 99h1v1h-1zM58 99h1v1h-1zM91 99h1v1h-1z"/><path fill="#606ab7" d="M10 0h2v1h-2zM34 0h1v1h-1zM57 0h1v1h-1zM89 0h1v1h-1zM91 0h1v1h-1zM2 1h1v1h-1zM11 1h1v1h-1zM62 1h1v1h-1zM97 1h1v1h-1zM1 2h1v1h-1zM11 2h1v1h-1zM72 2h1v1h-1zM85 2h2v1h-2zM93 2h1v1h-1zM39 3h1v1h-1zM0 4h1v1h-1zM18 4h1v1h-1zM94 4h1v1h-1zM67 5h1v1h-1zM96 5h1v1h-1zM3 6h1v1h-1zM45 6h1v1h-1zM49 7h1v1h-1zM72 7h1v1h-1zM5 8h1v1h-1zM46 8h1v1h-1zM60 8h1v1h-1zM62 8h1v1h-1zM72 8h1v1h-1zM76 8h1v1h-1zM53 9h1v1h-1zM86 9h1v1h-1zM90 9h1v1h-1zM41 10h1v1h-1zM73 10h1v1h-1zM0 11h1v1h-1zM8 11h1v1h-1zM42 11h1v1h-1zM55 11h1v1h-1zM70 11h1v1h-1zM76 11h1v1h-1zM93 11h1v1h-1zM7 12h1v1h-1zM67 12h1v1h-1zM73 12h1v1h-1zM15 13h1v1h-1zM35 13h1v1h-1zM14 14h1v1h-1zM47 14h1v1h-1zM49 14h1v1h-1zM69 14h1v1h-1zM73 14h1v1h-1zM12 15h1v1h-1zM69 15h1v1h-1zM87 15h1v1h-1zM15 16h1v1h-1zM56 16h1v1h-1zM63 16h2v1h-2zM70 16h1v1h-1zM26 17h1v1h-1zM34 17h1v1h-1zM68 17h1v1h-1zM73 17h1v1h-1zM9 18h1v1h-1zM20 18h1v1h-1zM36 18h1v1h-1zM86 18h2v1h-2zM90 18h1v1h-1zM13 19h1v1h-1zM27 19h1v1h-1zM79 19h1v1h-1zM18 20h1v1h-1zM26 20h1v1h-1zM39 20h1v1h-1zM69 20h1v1h-1zM3 21h1v1h-1zM35 21h1v1h-1zM38 21h1v1h-1zM47 21h1v1h-1zM49 21h1v1h-1zM16 22h1v1h-1zM48 22h1v1h-1zM75 22h1v1h-1zM85 22h1v1h-1zM2 23h1v1h-1zM17 23h1v1h-1zM48 23h1v1h-1zM18 24h1v1h-1zM92 24h1v1h-1zM7 25h1v1h-1zM23 25h1v1h-1zM36 25h1v1h-1zM88 25h1v1h-1zM19 26h2v1h-2zM27 26h1v1h-1zM33 26h1v1h-1zM35 26h1v1h-1zM20 27h1v1h-1zM86 27h1v1h-1zM0 28h1v1h-1zM30 28h1v1h-1zM37 28h1v1h-1zM49 28h1v1h-1zM20 29h1v1h-1zM23 29h1v1h-1zM45 29h1v1h-1zM23 30h1v1h-1zM27 30h2v1h-2zM32 30h1v1h-1zM7 31h1v1h-1zM25 31h1v1h-1zM27 31h1v1h-1zM81 31h2v1h-2zM10 32h1v1h-1zM16 32h1v1h-1zM18 32h1v1h-1zM30 32h1v1h-1zM27 33h1v1h-1zM42 33h1v1h-1zM85 33h1v1h-1zM4 35h1v1h-1zM24 35h1v1h-1zM83 35h1v1h-1zM20 36h1v1h-1zM36 36h1v1h-1zM39 36h1v1h-1zM77 36h1v1h-1zM8 37h1v1h-1zM80 37h1v1h-1zM82 37h1v1h-1zM93 37h1v1h-1zM28 38h1v1h-1zM82 38h1v1h-1zM85 38h1v1h-1zM81 39h1v1h-1zM87 39h1v1h-1zM94 39h1v1h-1zM3 40h1v1h-1zM95 40h1v1h-1zM13 41h1v1h-1zM36 41h1v1h-1zM15 42h1v1h-1zM15 43h1v1h-1zM75 43h1v1h-1zM29 44h1v1h-1zM83 45h2v1h-2zM11 46h1v1h-1zM34 46h1v1h-1zM75 47h1v1h-1zM73 48h1v1h-1zM83 48h1v1h-1zM93 48h1v1h-1zM28 49h1v1h-1zM75 49h1v1h-1zM78 49h1v1h-1zM1 50h1v1h-1zM7 50h1v1h-1zM78 50h1v1h-1zM97 50h1v1h-1zM27 51h1v1h-1zM84 51h1v1h-1zM26 52h1v1h-1zM88 52h1v1h-1zM22 53h1v1h-1zM72 53h2v1h-2zM76 53h1v1h-1zM81 54h1v1h-1zM22 55h1v1h-1zM67 55h1v1h-1zM80 55h1v1h-1zM85 55h1v1h-1zM96 55h1v1h-1zM73 56h1v1h-1zM80 56h1v1h-1zM14 57h1v1h-1zM1 58h1v1h-1zM73 58h1v1h-1zM79 58h1v1h-1zM90 58h1v1h-1zM92 58h1v1h-1zM28 59h1v1h-1zM63 59h1v1h-1zM17 60h1v1h-1zM19 60h1v1h-1zM61 60h1v1h-1zM5 61h2v1h-2zM28 61h1v1h-1zM65 61h1v1h-1zM70 61h1v1h-1zM97 61h1v1h-1zM9 62h1v1h-1zM22 62h1v1h-1zM33 62h1v1h-1zM63 62h1v1h-1zM90 62h1v1h-1zM55 63h1v1h-1zM63 63h1v1h-1zM67 63h1v1h-1zM8 64h1v1h-1zM73 64h1v1h-1zM75 64h1v1h-1zM77 64h1v1h-1zM81 64h1v1h-1zM84 64h1v1h-1zM22 65h1v1h-1zM56 65h1v1h-1zM74 65h1v1h-1zM87 65h1v1h-1zM56 66h1v1h-1zM88 66h1v1h-1zM97 66h1v1h-1zM3 67h1v1h-1zM76 67h1v1h-1zM8 68h1v1h-1zM63 68h1v1h-1zM67 68h1v1h-1zM91 68h1v1h-1zM7 69h1v1h-1zM19 69h1v1h-1zM25 69h1v1h-1zM58 69h1v1h-1zM47 70h1v1h-1zM52 70h1v1h-1zM25 71h1v1h-1zM63 71h1v1h-1zM84 71h1v1h-1zM92 71h1v1h-1zM32 72h1v1h-1zM35 72h1v1h-1zM47 72h1v1h-1zM67 72h1v1h-1zM69 72h1v1h-1zM74 72h1v1h-1zM78 72h1v1h-1zM40 73h1v1h-1zM44 73h1v1h-1zM53 73h1v1h-1zM84 73h1v1h-1zM0 74h1v1h-1zM8 74h1v1h-1zM21 74h1v1h-1zM23 74h1v1h-1zM27 74h1v1h-1zM50 74h1v1h-1zM59 74h1v1h-1zM95 74h1v1h-1zM26 75h1v1h-1zM39 75h1v1h-1zM52 75h1v1h-1zM6 76h1v1h-1zM30 76h1v1h-1zM38 76h2v1h-2zM46 76h2v1h-2zM54 76h1v1h-1zM65 76h1v1h-1zM9 77h1v1h-1zM34 77h1v1h-1zM54 77h1v1h-1zM78 77h1v1h-1zM19 78h1v1h-1zM46 78h1v1h-1zM54 78h1v1h-1zM65 78h1v1h-1zM73 78h1v1h-1zM20 79h1v1h-1zM26 79h1v1h-1zM48 79h1v1h-1zM55 79h1v1h-1zM64 79h1v1h-1zM75 79h1v1h-1zM80 79h1v1h-1zM87 79h1v1h-1zM10 80h1v1h-1zM43 80h1v1h-1zM47 80h1v1h-1zM74 80h1v1h-1zM11 81h1v1h-1zM22 81h1v1h-1zM44 81h2v1h-2zM66 81h1v1h-1zM6 82h2v1h-2zM10 82h1v1h-1zM19 82h1v1h-1zM27 82h1v1h-1zM41 82h1v1h-1zM47 82h1v1h-1zM64 82h1v1h-1zM39 83h1v1h-1zM49 83h1v1h-1zM73 83h1v1h-1zM97 83h1v1h-1zM50 84h1v1h-1zM80 84h1v1h-1zM30 85h1v1h-1zM35 85h1v1h-1zM43 85h1v1h-1zM56 85h1v1h-1zM63 86h1v1h-1zM79 86h1v1h-1zM25 87h1v1h-1zM51 87h1v1h-1zM14 88h1v1h-1zM24 88h1v1h-1zM42 88h1v1h-1zM48 88h1v1h-1zM79 88h1v1h-1zM5 89h1v1h-1zM13 89h1v1h-1zM33 89h1v1h-1zM47 89h2v1h-2zM53 89h1v1h-1zM65 89h1v1h-1zM97 89h1v1h-1zM14 90h1v1h-1zM44 90h1v1h-1zM48 90h1v1h-1zM50 90h1v1h-1zM68 90h1v1h-1zM71 90h1v1h-1zM83 90h1v1h-1zM64 91h1v1h-1zM24 92h1v1h-1zM33 92h1v1h-1zM53 92h1v1h-1zM81 92h1v1h-1zM19 93h1v1h-1zM30 93h1v1h-1zM41 93h1v1h-1zM63 93h1v1h-1zM73 93h1v1h-1zM18 94h1v1h-1zM57 94h1v1h-1zM21 95h1v1h-1zM50 95h1v1h-1zM67 95h1v1h-1zM71 95h1v1h-1zM77 95h1v1h-1zM91 95h1v1h-1zM97 95h1v1h-1zM6 96h1v1h-1zM68 96h1v1h-1zM88 96h1v1h-1zM6 97h1v1h-1zM23 97h1v1h-1zM50 97h1v1h-1zM66 97h2v1h-2zM73 97h1v1h-1zM77 97h1v1h-1zM35 98h1v1h-1zM45 98h1v1h-1zM50 98h2v1h-2zM86 98h1v1h-1zM40 99h1v1h-1zM65 99h1v1h-1zM73 99h1v1h-1z"/><path fill="#541e7e" d="M13 0h1v1h-1zM25 0h1v1h-1zM12 1h1v1h-1zM30 1h1v1h-1zM43 1h2v1h-2zM77 1h1v1h-1zM81 1h1v1h-1zM7 2h1v1h-1zM18 2h1v1h-1zM68 2h1v1h-1zM31 3h1v1h-1zM70 3h1v1h-1zM40 4h1v1h-1zM61 4h1v1h-1zM68 4h1v1h-1zM85 4h1v1h-1zM49 5h1v1h-1zM7 6h1v1h-1zM88 6h1v1h-1zM21 7h1v1h-1zM79 7h1v1h-1zM41 8h1v1h-1zM94 8h1v1h-1zM31 9h2v1h-2zM49 9h1v1h-1zM25 10h1v1h-1zM92 10h1v1h-1zM99 10h1v1h-1zM27 11h1v1h-1zM81 11h1v1h-1zM0 12h1v1h-1zM51 12h1v1h-1zM2 13h1v1h-1zM12 13h1v1h-1zM55 13h1v1h-1zM62 13h1v1h-1zM20 16h1v1h-1zM89 16h2v1h-2zM5 19h1v1h-1zM33 19h1v1h-1zM99 19h1v1h-1zM33 20h1v1h-1zM6 23h1v1h-1zM21 23h1v1h-1zM45 23h2v1h-2zM60 23h1v1h-1zM98 25h1v1h-1zM6 26h1v1h-1zM9 27h1v1h-1zM11 27h1v1h-1zM17 27h1v1h-1zM27 28h1v1h-1zM33 28h1v1h-1zM97 28h1v1h-1zM3 29h1v1h-1zM6 29h1v1h-1zM10 29h1v1h-1zM14 29h1v1h-1zM98 29h1v1h-1zM5 30h1v1h-1zM18 30h1v1h-1zM6 33h1v1h-1zM2 34h1v1h-1zM10 34h1v1h-1zM86 34h1v1h-1zM32 35h1v1h-1zM12 36h1v1h-1zM87 36h1v1h-1zM91 36h1v1h-1zM96 36h1v1h-1zM98 37h1v1h-1zM17 39h1v1h-1zM89 40h1v1h-1zM95 41h1v1h-1zM92 42h1v1h-1zM13 43h1v1h-1zM99 43h1v1h-1zM3 46h1v1h-1zM78 46h1v1h-1zM6 47h1v1h-1zM18 47h1v1h-1zM22 47h1v1h-1zM91 47h1v1h-1zM13 50h1v1h-1zM12 51h1v1h-1zM82 51h1v1h-1zM9 52h2v1h-2zM94 52h1v1h-1zM20 55h1v1h-1zM82 56h1v1h-1zM84 56h1v1h-1zM96 57h1v1h-1zM3 58h2v1h-2zM12 58h1v1h-1zM89 58h1v1h-1zM96 58h1v1h-1zM14 59h1v1h-1zM75 60h1v1h-1zM89 61h1v1h-1zM16 65h1v1h-1zM70 66h1v1h-1zM92 66h1v1h-1zM18 67h1v1h-1zM86 67h1v1h-1zM93 67h1v1h-1zM69 68h1v1h-1zM97 68h1v1h-1zM99 68h1v1h-1zM89 69h1v1h-1zM0 70h1v1h-1zM14 70h1v1h-1zM21 71h1v1h-1zM81 71h1v1h-1zM93 71h1v1h-1zM98 71h1v1h-1zM0 72h1v1h-1zM95 72h1v1h-1zM12 73h1v1h-1zM56 73h1v1h-1zM92 73h2v1h-2zM13 74h1v1h-1zM79 74h1v1h-1zM78 75h2v1h-2zM96 76h1v1h-1zM5 77h1v1h-1zM17 77h1v1h-1zM83 77h1v1h-1zM53 78h1v1h-1zM93 78h1v1h-1zM0 79h1v1h-1zM7 79h1v1h-1zM57 79h1v1h-1zM86 80h1v1h-1zM88 80h1v1h-1zM88 81h1v1h-1zM96 81h1v1h-1zM44 82h1v1h-1zM57 82h1v1h-1zM59 82h1v1h-1zM61 82h1v1h-1zM72 82h1v1h-1zM76 82h1v1h-1zM93 82h1v1h-1zM2 83h1v1h-1zM57 83h1v1h-1zM60 83h1v1h-1zM40 84h1v1h-1zM71 84h1v1h-1zM88 84h1v1h-1zM36 85h1v1h-1zM49 85h1v1h-1zM85 85h1v1h-1zM89 86h1v1h-1zM89 87h1v1h-1zM9 88h1v1h-1zM21 88h1v1h-1zM99 88h1v1h-1zM23 89h1v1h-1zM18 90h1v1h-1zM36 90h1v1h-1zM72 90h1v1h-1zM74 90h2v1h-2zM13 91h1v1h-1zM28 91h1v1h-1zM9 92h1v1h-1zM27 92h1v1h-1zM44 92h1v1h-1zM54 92h1v1h-1zM1 93h1v1h-1zM55 93h1v1h-1zM69 93h1v1h-1zM95 93h1v1h-1zM32 94h1v1h-1zM64 94h1v1h-1zM92 94h1v1h-1zM33 95h1v1h-1zM87 95h1v1h-1zM3 96h2v1h-2zM12 96h1v1h-1zM23 96h1v1h-1zM35 96h1v1h-1zM83 96h1v1h-1zM38 97h1v1h-1zM3 98h1v1h-1zM75 98h1v1h-1zM8 99h1v1h-1zM92 99h1v1h-1z"/><path fill="#5e46a6" d="M14 0h1v1h-1zM48 0h1v1h-1zM87 0h1v1h-1zM90 0h1v1h-1zM18 1h1v1h-1zM31 1h1v1h-1zM79 1h1v1h-1zM85 1h1v1h-1zM57 2h1v1h-1zM60 2h1v1h-1zM67 2h1v1h-1zM76 2h1v1h-1zM19 3h1v1h-1zM23 3h1v1h-1zM40 3h1v1h-1zM56 3h1v1h-1zM64 4h1v1h-1zM81 4h1v1h-1zM19 5h1v1h-1zM50 5h1v1h-1zM58 5h1v1h-1zM55 6h1v1h-1zM59 6h1v1h-1zM72 6h1v1h-1zM78 6h1v1h-1zM89 7h1v1h-1zM11 8h1v1h-1zM13 8h1v1h-1zM16 8h1v1h-1zM64 8h1v1h-1zM74 8h1v1h-1zM90 8h1v1h-1zM14 9h1v1h-1zM27 9h1v1h-1zM34 9h1v1h-1zM40 9h1v1h-1zM50 9h1v1h-1zM57 9h1v1h-1zM7 10h1v1h-1zM16 10h1v1h-1zM20 10h1v1h-1zM28 10h1v1h-1zM46 10h1v1h-1zM67 10h1v1h-1zM6 11h2v1h-2zM9 11h1v1h-1zM14 11h1v1h-1zM18 11h1v1h-1zM22 11h1v1h-1zM52 11h1v1h-1zM58 11h1v1h-1zM72 11h2v1h-2zM84 11h1v1h-1zM92 11h1v1h-1zM6 12h1v1h-1zM13 12h1v1h-1zM55 12h1v1h-1zM68 12h1v1h-1zM74 12h1v1h-1zM22 13h1v1h-1zM52 13h1v1h-1zM67 13h1v1h-1zM74 13h1v1h-1zM88 13h1v1h-1zM42 14h2v1h-2zM54 14h1v1h-1zM74 14h1v1h-1zM79 14h2v1h-2zM90 14h1v1h-1zM6 15h1v1h-1zM44 15h1v1h-1zM63 15h1v1h-1zM73 15h1v1h-1zM78 15h1v1h-1zM83 15h1v1h-1zM90 15h1v1h-1zM30 16h1v1h-1zM32 16h1v1h-1zM35 16h1v1h-1zM46 16h2v1h-2zM84 16h1v1h-1zM18 17h1v1h-1zM30 17h2v1h-2zM38 17h1v1h-1zM83 17h1v1h-1zM95 17h1v1h-1zM10 18h1v1h-1zM32 18h1v1h-1zM37 18h1v1h-1zM47 18h2v1h-2zM82 18h1v1h-1zM4 19h1v1h-1zM31 19h1v1h-1zM35 19h1v1h-1zM43 19h1v1h-1zM47 19h1v1h-1zM88 19h1v1h-1zM13 20h1v1h-1zM42 20h1v1h-1zM5 21h1v1h-1zM14 21h1v1h-1zM19 21h1v1h-1zM91 21h1v1h-1zM32 22h1v1h-1zM46 22h1v1h-1zM95 22h1v1h-1zM0 23h1v1h-1zM8 23h1v1h-1zM20 23h1v1h-1zM50 23h1v1h-1zM1 24h1v1h-1zM14 24h1v1h-1zM32 24h1v1h-1zM5 25h1v1h-1zM26 25h1v1h-1zM85 25h2v1h-2zM0 26h2v1h-2zM13 26h1v1h-1zM37 26h1v1h-1zM83 26h1v1h-1zM92 26h1v1h-1zM97 26h1v1h-1zM2 27h1v1h-1zM16 27h1v1h-1zM13 28h1v1h-1zM10 30h1v1h-1zM17 30h1v1h-1zM21 30h1v1h-1zM38 30h1v1h-1zM9 31h1v1h-1zM9 32h1v1h-1zM23 32h1v1h-1zM31 32h1v1h-1zM93 32h1v1h-1zM22 33h1v1h-1zM28 33h1v1h-1zM91 33h1v1h-1zM9 34h1v1h-1zM12 34h2v1h-2zM98 34h1v1h-1zM45 35h1v1h-1zM91 35h1v1h-1zM30 36h1v1h-1zM5 37h1v1h-1zM9 37h1v1h-1zM20 37h1v1h-1zM30 37h1v1h-1zM5 38h1v1h-1zM11 38h1v1h-1zM20 38h1v1h-1zM27 38h1v1h-1zM81 38h1v1h-1zM93 38h1v1h-1zM9 39h1v1h-1zM86 39h1v1h-1zM99 39h1v1h-1zM12 40h1v1h-1zM31 40h1v1h-1zM90 40h1v1h-1zM2 41h1v1h-1zM10 41h1v1h-1zM17 42h1v1h-1zM28 42h1v1h-1zM98 42h1v1h-1zM3 43h1v1h-1zM8 43h1v1h-1zM25 43h1v1h-1zM36 43h1v1h-1zM81 43h1v1h-1zM0 44h2v1h-2zM75 44h1v1h-1zM79 44h1v1h-1zM25 45h1v1h-1zM6 46h1v1h-1zM94 46h1v1h-1zM96 46h1v1h-1zM17 47h1v1h-1zM31 47h2v1h-2zM95 47h1v1h-1zM6 48h1v1h-1zM88 48h1v1h-1zM99 48h1v1h-1zM11 51h1v1h-1zM15 51h1v1h-1zM17 51h1v1h-1zM78 51h1v1h-1zM90 51h1v1h-1zM28 52h1v1h-1zM78 52h1v1h-1zM18 53h1v1h-1zM69 53h1v1h-1zM71 53h1v1h-1zM93 53h1v1h-1zM69 54h1v1h-1zM71 54h1v1h-1zM76 54h2v1h-2zM80 54h1v1h-1zM16 55h1v1h-1zM4 56h1v1h-1zM81 56h1v1h-1zM96 56h2v1h-2zM0 57h1v1h-1zM8 57h1v1h-1zM16 57h1v1h-1zM18 58h1v1h-1zM26 58h1v1h-1zM68 58h1v1h-1zM84 58h1v1h-1zM86 58h1v1h-1zM26 59h1v1h-1zM72 60h1v1h-1zM76 60h1v1h-1zM89 60h1v1h-1zM91 60h1v1h-1zM26 61h1v1h-1zM72 61h1v1h-1zM75 61h1v1h-1zM80 61h2v1h-2zM3 62h1v1h-1zM10 62h1v1h-1zM15 62h1v1h-1zM31 62h1v1h-1zM91 62h1v1h-1zM9 63h1v1h-1zM14 63h1v1h-1zM22 63h1v1h-1zM74 63h1v1h-1zM77 63h1v1h-1zM93 63h1v1h-1zM14 64h1v1h-1zM68 64h1v1h-1zM83 64h1v1h-1zM85 64h1v1h-1zM14 65h1v1h-1zM71 65h1v1h-1zM77 65h1v1h-1zM97 65h1v1h-1zM2 66h1v1h-1zM20 66h1v1h-1zM11 67h1v1h-1zM21 67h1v1h-1zM79 67h1v1h-1zM0 68h1v1h-1zM15 68h1v1h-1zM25 68h1v1h-1zM54 68h1v1h-1zM62 68h1v1h-1zM65 68h1v1h-1zM68 68h1v1h-1zM49 69h1v1h-1zM72 69h1v1h-1zM5 70h1v1h-1zM72 70h1v1h-1zM77 70h1v1h-1zM24 71h1v1h-1zM47 71h1v1h-1zM58 71h1v1h-1zM74 71h1v1h-1zM90 71h1v1h-1zM1 72h1v1h-1zM17 72h1v1h-1zM20 72h1v1h-1zM24 72h1v1h-1zM70 72h1v1h-1zM83 72h1v1h-1zM88 72h1v1h-1zM4 73h1v1h-1zM9 73h1v1h-1zM24 73h1v1h-1zM55 73h1v1h-1zM73 73h1v1h-1zM87 73h1v1h-1zM89 73h1v1h-1zM4 74h2v1h-2zM56 74h1v1h-1zM82 74h1v1h-1zM96 74h1v1h-1zM6 75h1v1h-1zM28 75h1v1h-1zM68 75h1v1h-1zM72 75h1v1h-1zM75 75h1v1h-1zM16 76h1v1h-1zM45 76h1v1h-1zM52 76h1v1h-1zM70 76h1v1h-1zM81 76h1v1h-1zM83 76h1v1h-1zM15 77h1v1h-1zM20 77h1v1h-1zM27 77h1v1h-1zM46 77h1v1h-1zM51 77h1v1h-1zM73 77h1v1h-1zM0 78h1v1h-1zM57 78h1v1h-1zM63 78h1v1h-1zM78 78h1v1h-1zM94 78h1v1h-1zM13 79h1v1h-1zM19 79h1v1h-1zM27 79h1v1h-1zM58 79h1v1h-1zM62 79h1v1h-1zM94 79h1v1h-1zM0 80h1v1h-1zM27 80h1v1h-1zM56 80h1v1h-1zM71 80h2v1h-2zM92 80h1v1h-1zM20 81h1v1h-1zM69 81h1v1h-1zM75 81h1v1h-1zM81 81h1v1h-1zM18 82h1v1h-1zM35 82h1v1h-1zM77 82h1v1h-1zM85 82h1v1h-1zM95 82h1v1h-1zM30 83h1v1h-1zM56 83h1v1h-1zM58 83h1v1h-1zM65 83h1v1h-1zM69 83h1v1h-1zM72 83h1v1h-1zM86 84h1v1h-1zM91 84h1v1h-1zM93 84h1v1h-1zM6 85h1v1h-1zM12 85h1v1h-1zM19 85h1v1h-1zM45 85h1v1h-1zM83 85h1v1h-1zM97 85h1v1h-1zM72 86h1v1h-1zM44 87h1v1h-1zM57 87h1v1h-1zM91 88h1v1h-1zM3 89h1v1h-1zM18 89h1v1h-1zM60 89h1v1h-1zM66 89h1v1h-1zM86 89h1v1h-1zM24 90h1v1h-1zM54 90h1v1h-1zM70 90h1v1h-1zM87 90h1v1h-1zM89 90h1v1h-1zM10 91h1v1h-1zM49 91h1v1h-1zM93 91h1v1h-1zM18 92h1v1h-1zM47 92h1v1h-1zM58 92h1v1h-1zM71 92h1v1h-1zM95 92h1v1h-1zM0 93h1v1h-1zM12 93h1v1h-1zM18 93h1v1h-1zM31 93h1v1h-1zM34 93h1v1h-1zM39 93h1v1h-1zM44 93h1v1h-1zM52 93h1v1h-1zM13 94h1v1h-1zM15 94h1v1h-1zM23 94h1v1h-1zM44 94h1v1h-1zM12 95h1v1h-1zM24 95h1v1h-1zM51 95h1v1h-1zM5 96h1v1h-1zM14 96h1v1h-1zM26 96h1v1h-1zM37 96h1v1h-1zM40 96h1v1h-1zM49 96h1v1h-1zM71 96h1v1h-1zM72 97h1v1h-1zM84 97h1v1h-1zM93 97h1v1h-1zM10 98h1v1h-1zM37 98h1v1h-1zM46 98h1v1h-1zM59 98h1v1h-1zM71 98h1v1h-1zM1 99h1v1h-1zM3 99h1v1h-1zM28 99h1v1h-1zM31 99h1v1h-1zM33 99h1v1h-1zM60 99h1v1h-1zM83 99h1v1h-1z"/><path fill="#481563" d="M16 0h2v1h-2zM27 0h1v1h-1zM45 0h1v1h-1zM51 0h1v1h-1zM64 0h1v1h-1zM72 0h1v1h-1zM22 1h1v1h-1zM24 1h1v1h-1zM50 1h1v1h-1zM56 1h1v1h-1zM90 1h1v1h-1zM19 2h1v1h-1zM22 2h1v1h-1zM27 2h1v1h-1zM39 2h1v1h-1zM51 2h1v1h-1zM54 2h1v1h-1zM66 2h1v1h-1zM71 2h1v1h-1zM27 3h1v1h-1zM34 3h1v1h-1zM45 3h1v1h-1zM99 3h1v1h-1zM27 4h1v1h-1zM32 4h1v1h-1zM38 4h1v1h-1zM67 4h1v1h-1zM73 4h1v1h-1zM99 4h1v1h-1zM29 5h1v1h-1zM74 5h1v1h-1zM77 5h1v1h-1zM70 6h1v1h-1zM84 6h1v1h-1zM28 7h1v1h-1zM39 7h1v1h-1zM41 7h1v1h-1zM84 7h1v1h-1zM94 7h1v1h-1zM33 8h1v1h-1zM36 8h1v1h-1zM44 8h1v1h-1zM18 9h1v1h-1zM35 9h1v1h-1zM62 9h2v1h-2zM79 9h1v1h-1zM81 9h1v1h-1zM15 10h1v1h-1zM21 10h1v1h-1zM43 10h1v1h-1zM64 10h1v1h-1zM77 11h1v1h-1zM85 11h1v1h-1zM4 12h2v1h-2zM18 12h2v1h-2zM36 12h1v1h-1zM89 12h1v1h-1zM3 14h1v1h-1zM52 15h1v1h-1zM99 16h1v1h-1zM24 17h1v1h-1zM91 17h1v1h-1zM2 18h1v1h-1zM1 22h1v1h-1zM12 22h1v1h-1zM12 23h2v1h-2zM99 24h1v1h-1zM4 25h1v1h-1zM18 27h1v1h-1zM5 29h1v1h-1zM11 29h1v1h-1zM81 29h1v1h-1zM88 29h1v1h-1zM6 30h1v1h-1zM99 32h1v1h-1zM88 34h2v1h-2zM9 35h1v1h-1zM86 35h1v1h-1zM10 37h1v1h-1zM5 40h3v1h-3zM14 40h1v1h-1zM21 40h1v1h-1zM0 42h1v1h-1zM23 42h1v1h-1zM35 42h1v1h-1zM90 43h1v1h-1zM92 43h1v1h-1zM8 44h1v1h-1zM17 44h1v1h-1zM26 44h1v1h-1zM90 45h1v1h-1zM0 46h1v1h-1zM2 47h1v1h-1zM5 47h1v1h-1zM4 48h1v1h-1zM23 48h1v1h-1zM21 50h1v1h-1zM21 51h1v1h-1zM24 51h1v1h-1zM93 51h1v1h-1zM95 51h1v1h-1zM88 53h1v1h-1zM1 55h1v1h-1zM19 56h1v1h-1zM92 56h1v1h-1zM19 57h1v1h-1zM5 58h1v1h-1zM94 61h1v1h-1zM17 63h1v1h-1zM88 63h1v1h-1zM10 64h1v1h-1zM92 64h1v1h-1zM91 65h1v1h-1zM78 67h1v1h-1zM87 68h1v1h-1zM1 69h1v1h-1zM11 70h1v1h-1zM97 70h1v1h-1zM8 71h1v1h-1zM97 71h1v1h-1zM11 73h1v1h-1zM61 73h1v1h-1zM10 74h1v1h-1zM8 76h1v1h-1zM7 77h1v1h-1zM96 77h1v1h-1zM17 78h1v1h-1zM72 78h1v1h-1zM76 78h1v1h-1zM32 80h1v1h-1zM73 81h1v1h-1zM73 82h1v1h-1zM97 82h1v1h-1zM23 84h2v1h-2zM23 85h1v1h-1zM66 85h1v1h-1zM88 85h1v1h-1zM92 85h1v1h-1zM99 86h1v1h-1zM6 87h1v1h-1zM11 87h1v1h-1zM13 87h1v1h-1zM47 87h1v1h-1zM67 87h1v1h-1zM88 87h1v1h-1zM19 88h1v1h-1zM7 89h2v1h-2zM16 89h1v1h-1zM57 89h1v1h-1zM25 90h1v1h-1zM27 90h2v1h-2zM69 90h1v1h-1zM6 91h1v1h-1zM23 91h1v1h-1zM61 91h1v1h-1zM92 91h1v1h-1zM56 92h1v1h-1zM40 94h1v1h-1zM47 94h1v1h-1zM86 94h1v1h-1zM90 94h1v1h-1zM33 98h1v1h-1zM68 98h2v1h-2zM74 98h1v1h-1zM12 99h1v1h-1zM43 99h1v1h-1z"/><path fill="#301437" d="M18 0h1v1h-1zM20 0h1v1h-1zM26 0h1v1h-1zM99 0h1v1h-1zM26 1h1v1h-1zM49 2h1v1h-1zM50 2h1v1h-1zM77 2h1v1h-1zM66 3h1v1h-1zM39 5h1v1h-1zM73 5h1v1h-1zM75 5h1v1h-1zM74 6h1v1h-1zM39 8h1v1h-1zM17 13h1v1h-1zM0 16h1v1h-1zM11 23h1v1h-1zM10 28h1v1h-1zM11 28h1v1h-1zM90 30h1v1h-1zM98 30h1v1h-1zM98 32h1v1h-1zM7 35h1v1h-1zM12 42h1v1h-1zM60 42h2v1h-2zM95 45h1v1h-1zM4 47h1v1h-1zM10 48h1v1h-1zM96 48h1v1h-1zM10 49h1v1h-1zM90 54h1v1h-1zM93 55h1v1h-1zM93 56h1v1h-1zM75 59h1v1h-1zM30 60h1v1h-1zM31 60h1v1h-1zM32 60h1v1h-1zM30 61h1v1h-1zM31 61h1v1h-1zM85 61h1v1h-1zM34 64h1v1h-1zM33 65h1v1h-1zM34 65h1v1h-1zM33 66h1v1h-1zM34 66h1v1h-1zM91 66h1v1h-1zM79 70h1v1h-1zM61 72h1v1h-1zM81 72h1v1h-1zM11 74h1v1h-1zM91 77h1v1h-1zM91 78h1v1h-1zM92 78h1v1h-1zM60 80h1v1h-1zM60 81h1v1h-1zM7 84h1v1h-1zM64 84h1v1h-1zM4 85h1v1h-1zM64 85h1v1h-1zM65 85h1v1h-1zM4 86h1v1h-1zM6 86h1v1h-1zM91 86h1v1h-1zM92 86h1v1h-1zM39 87h1v1h-1zM99 87h1v1h-1zM71 88h1v1h-1zM72 88h1v1h-1zM9 90h1v1h-1zM56 93h1v1h-1zM8 96h1v1h-1zM42 98h1v1h-1zM0 99h1v1h-1zM32 99h1v1h-1zM56 99h1v1h-1zM80 99h1v1h-1zM81 99h1v1h-1zM89 99h1v1h-1z"/><path fill="#32123b" d="M19 0h1v1h-1zM71 0h1v1h-1zM71 3h1v1h-1zM76 4h1v1h-1zM76 5h1v1h-1zM73 6h1v1h-1zM75 6h1v1h-1zM85 7h1v1h-1zM79 10h1v1h-1zM49 12h1v1h-1zM92 28h1v1h-1zM10 35h1v1h-1zM13 42h1v1h-1zM31 59h1v1h-1zM92 62h1v1h-1zM95 62h1v1h-1zM19 66h1v1h-1zM90 66h1v1h-1zM3 85h1v1h-1zM8 93h1v1h-1zM38 99h1v1h-1zM79 99h1v1h-1zM88 99h1v1h-1zM99 99h1v1h-1z"/><path fill="#4c176b" d="M21 0h1v1h-1zM31 0h1v1h-1zM33 0h1v1h-1zM69 0h1v1h-1zM85 0h1v1h-1zM33 1h1v1h-1zM39 1h1v1h-1zM64 1h2v1h-2zM21 2h1v1h-1zM48 2h1v1h-1zM9 3h1v1h-1zM32 3h1v1h-1zM78 3h1v1h-1zM98 3h1v1h-1zM9 4h1v1h-1zM53 4h1v1h-1zM71 4h1v1h-1zM75 4h1v1h-1zM91 4h1v1h-1zM6 5h1v1h-1zM28 5h1v1h-1zM35 5h1v1h-1zM38 5h1v1h-1zM55 5h1v1h-1zM86 5h1v1h-1zM34 6h1v1h-1zM10 7h1v1h-1zM75 7h1v1h-1zM17 8h1v1h-1zM19 8h1v1h-1zM30 8h2v1h-2zM35 8h1v1h-1zM37 8h1v1h-1zM68 8h1v1h-1zM99 9h1v1h-1zM29 10h1v1h-1zM39 11h1v1h-1zM65 11h1v1h-1zM23 12h1v1h-1zM91 12h1v1h-1zM18 13h1v1h-1zM23 13h1v1h-1zM28 13h1v1h-1zM36 13h1v1h-1zM46 13h1v1h-1zM90 13h1v1h-1zM17 15h1v1h-1zM93 15h1v1h-1zM18 16h1v1h-1zM94 16h1v1h-1zM0 17h1v1h-1zM29 17h1v1h-1zM93 17h1v1h-1zM98 17h1v1h-1zM36 20h1v1h-1zM7 21h1v1h-1zM99 21h1v1h-1zM0 22h1v1h-1zM7 22h1v1h-1zM99 23h1v1h-1zM98 26h1v1h-1zM6 27h1v1h-1zM32 28h1v1h-1zM89 28h1v1h-1zM95 28h1v1h-1zM89 29h1v1h-1zM91 29h1v1h-1zM95 29h1v1h-1zM3 30h1v1h-1zM24 30h1v1h-1zM94 33h1v1h-1zM6 34h1v1h-1zM5 35h1v1h-1zM6 36h2v1h-2zM10 36h1v1h-1zM17 36h2v1h-2zM86 36h1v1h-1zM88 36h1v1h-1zM35 37h1v1h-1zM21 38h1v1h-1zM4 39h1v1h-1zM13 39h1v1h-1zM16 39h1v1h-1zM20 40h1v1h-1zM60 41h1v1h-1zM96 41h1v1h-1zM81 42h1v1h-1zM20 44h1v1h-1zM87 44h1v1h-1zM89 44h1v1h-1zM1 47h1v1h-1zM85 50h1v1h-1zM96 50h1v1h-1zM9 51h1v1h-1zM81 51h1v1h-1zM13 53h2v1h-2zM98 54h1v1h-1zM13 55h1v1h-1zM88 56h1v1h-1zM91 56h1v1h-1zM71 57h1v1h-1zM93 57h1v1h-1zM80 58h1v1h-1zM4 59h1v1h-1zM0 60h1v1h-1zM87 60h1v1h-1zM16 61h1v1h-1zM32 61h1v1h-1zM7 62h1v1h-1zM69 62h1v1h-1zM68 63h1v1h-1zM86 63h1v1h-1zM97 63h1v1h-1zM17 64h2v1h-2zM16 66h1v1h-1zM69 66h1v1h-1zM78 66h1v1h-1zM15 67h1v1h-1zM88 67h1v1h-1zM88 68h1v1h-1zM0 69h1v1h-1zM1 70h1v1h-1zM88 71h2v1h-2zM99 71h1v1h-1zM65 73h1v1h-1zM97 73h1v1h-1zM3 74h1v1h-1zM80 74h1v1h-1zM7 75h1v1h-1zM87 75h1v1h-1zM72 76h1v1h-1zM88 76h1v1h-1zM97 76h1v1h-1zM2 77h1v1h-1zM84 77h1v1h-1zM8 78h1v1h-1zM52 78h1v1h-1zM96 78h1v1h-1zM18 79h1v1h-1zM59 79h1v1h-1zM85 79h1v1h-1zM13 80h1v1h-1zM31 80h1v1h-1zM82 81h1v1h-1zM87 82h1v1h-1zM4 83h1v1h-1zM58 84h1v1h-1zM67 84h2v1h-2zM7 85h1v1h-1zM98 85h1v1h-1zM22 86h1v1h-1zM67 86h1v1h-1zM82 86h2v1h-2zM87 86h1v1h-1zM7 87h1v1h-1zM34 88h1v1h-1zM87 88h1v1h-1zM19 89h1v1h-1zM45 89h1v1h-1zM25 91h1v1h-1zM32 93h1v1h-1zM70 93h1v1h-1zM69 94h2v1h-2zM8 95h1v1h-1zM7 96h1v1h-1zM33 96h1v1h-1zM36 96h1v1h-1zM2 97h1v1h-1zM9 97h1v1h-1zM2 99h1v1h-1zM35 99h1v1h-1zM49 99h1v1h-1zM70 99h1v1h-1z"/><path fill="#44135a" d="M22 0h1v1h-1zM32 0h1v1h-1zM42 0h1v1h-1zM68 0h1v1h-1zM63 1h1v1h-1zM66 1h1v1h-1zM26 2h1v1h-1zM28 2h1v1h-1zM64 2h1v1h-1zM81 2h1v1h-1zM49 3h1v1h-1zM81 3h1v1h-1zM92 3h1v1h-1zM21 4h1v1h-1zM59 4h1v1h-1zM70 4h1v1h-1zM87 4h1v1h-1zM0 6h1v1h-1zM40 6h1v1h-1zM42 6h1v1h-1zM92 6h2v1h-2zM16 7h1v1h-1zM62 10h1v1h-1zM50 12h1v1h-1zM5 13h1v1h-1zM77 13h1v1h-1zM0 14h1v1h-1zM23 14h1v1h-1zM37 14h1v1h-1zM55 14h1v1h-1zM80 15h1v1h-1zM17 16h1v1h-1zM81 16h1v1h-1zM92 16h1v1h-1zM92 17h1v1h-1zM96 17h1v1h-1zM99 17h1v1h-1zM95 19h1v1h-1zM10 23h1v1h-1zM47 24h1v1h-1zM13 25h1v1h-1zM99 29h1v1h-1zM15 30h2v1h-2zM37 34h1v1h-1zM17 35h1v1h-1zM1 36h1v1h-1zM17 38h1v1h-1zM98 38h1v1h-1zM5 39h2v1h-2zM98 40h1v1h-1zM7 42h1v1h-1zM1 45h2v1h-2zM15 45h1v1h-1zM26 45h1v1h-1zM14 54h1v1h-1zM93 54h1v1h-1zM83 56h1v1h-1zM94 57h1v1h-1zM29 60h1v1h-1zM95 61h1v1h-1zM87 62h1v1h-1zM96 62h1v1h-1zM64 63h1v1h-1zM69 63h1v1h-1zM90 65h1v1h-1zM16 67h1v1h-1zM76 70h1v1h-1zM80 70h1v1h-1zM94 70h1v1h-1zM86 72h1v1h-1zM81 73h2v1h-2zM90 74h1v1h-1zM72 77h1v1h-1zM88 77h1v1h-1zM18 78h1v1h-1zM12 80h1v1h-1zM59 80h1v1h-1zM62 81h1v1h-1zM62 82h1v1h-1zM79 82h1v1h-1zM96 82h1v1h-1zM3 83h1v1h-1zM7 83h1v1h-1zM40 83h1v1h-1zM10 84h1v1h-1zM68 87h1v1h-1zM10 89h1v1h-1zM67 89h1v1h-1zM74 89h1v1h-1zM56 90h1v1h-1zM3 91h1v1h-1zM9 93h1v1h-1zM23 95h1v1h-1zM25 96h1v1h-1zM84 96h1v1h-1zM89 96h1v1h-1zM18 97h1v1h-1zM25 97h1v1h-1z"/><path fill="#5a2e93" d="M23 0h1v1h-1zM28 0h1v1h-1zM39 0h1v1h-1zM59 0h1v1h-1zM65 0h1v1h-1zM81 0h1v1h-1zM0 1h1v1h-1zM57 1h1v1h-1zM68 1h1v1h-1zM72 1h1v1h-1zM0 2h1v1h-1zM16 2h1v1h-1zM23 2h1v1h-1zM65 2h1v1h-1zM69 2h1v1h-1zM17 3h2v1h-2zM26 3h1v1h-1zM53 3h1v1h-1zM73 3h1v1h-1zM79 3h1v1h-1zM5 4h2v1h-2zM29 4h2v1h-2zM36 4h1v1h-1zM72 4h1v1h-1zM12 5h1v1h-1zM20 5h1v1h-1zM22 5h1v1h-1zM42 5h1v1h-1zM52 5h1v1h-1zM60 5h1v1h-1zM84 5h1v1h-1zM99 5h1v1h-1zM28 6h1v1h-1zM41 6h1v1h-1zM54 6h1v1h-1zM32 7h1v1h-1zM51 7h1v1h-1zM69 7h2v1h-2zM92 7h1v1h-1zM49 8h1v1h-1zM69 8h1v1h-1zM26 9h1v1h-1zM77 9h1v1h-1zM82 9h1v1h-1zM92 9h1v1h-1zM12 10h1v1h-1zM32 10h1v1h-1zM48 10h1v1h-1zM53 10h2v1h-2zM10 11h1v1h-1zM26 11h1v1h-1zM32 11h1v1h-1zM36 11h1v1h-1zM50 11h1v1h-1zM53 11h1v1h-1zM68 11h1v1h-1zM3 12h1v1h-1zM20 12h1v1h-1zM42 12h1v1h-1zM52 12h1v1h-1zM59 12h1v1h-1zM65 12h1v1h-1zM81 13h1v1h-1zM1 14h1v1h-1zM22 14h1v1h-1zM38 14h1v1h-1zM46 14h1v1h-1zM71 14h1v1h-1zM94 15h1v1h-1zM98 15h1v1h-1zM4 16h1v1h-1zM41 16h1v1h-1zM55 16h1v1h-1zM20 17h1v1h-1zM38 18h1v1h-1zM96 18h1v1h-1zM98 18h2v1h-2zM2 19h1v1h-1zM32 19h1v1h-1zM96 19h1v1h-1zM3 20h1v1h-1zM90 20h1v1h-1zM94 20h1v1h-1zM13 21h1v1h-1zM21 21h1v1h-1zM29 21h1v1h-1zM45 21h1v1h-1zM87 21h1v1h-1zM98 21h1v1h-1zM45 22h1v1h-1zM89 22h1v1h-1zM1 23h1v1h-1zM9 24h1v1h-1zM48 24h1v1h-1zM0 25h1v1h-1zM16 25h1v1h-1zM2 26h2v1h-2zM11 26h1v1h-1zM15 26h1v1h-1zM29 26h1v1h-1zM46 26h1v1h-1zM27 27h1v1h-1zM46 27h1v1h-1zM87 27h1v1h-1zM92 27h1v1h-1zM97 27h1v1h-1zM2 28h1v1h-1zM16 28h1v1h-1zM17 29h1v1h-1zM27 29h1v1h-1zM82 29h1v1h-1zM94 29h1v1h-1zM99 30h1v1h-1zM3 31h1v1h-1zM22 31h1v1h-1zM91 32h1v1h-1zM3 33h1v1h-1zM3 34h1v1h-1zM20 34h1v1h-1zM32 34h1v1h-1zM94 34h1v1h-1zM0 35h1v1h-1zM2 35h1v1h-1zM15 35h1v1h-1zM18 35h1v1h-1zM87 35h1v1h-1zM11 36h1v1h-1zM29 37h1v1h-1zM16 38h1v1h-1zM21 39h1v1h-1zM4 40h1v1h-1zM29 40h1v1h-1zM99 40h1v1h-1zM17 41h1v1h-1zM24 41h1v1h-1zM87 42h1v1h-1zM90 42h1v1h-1zM94 43h1v1h-1zM2 44h1v1h-1zM14 44h1v1h-1zM21 44h1v1h-1zM78 44h1v1h-1zM92 44h1v1h-1zM14 45h1v1h-1zM22 45h1v1h-1zM91 45h1v1h-1zM99 45h1v1h-1zM1 46h1v1h-1zM20 46h1v1h-1zM29 46h2v1h-2zM95 46h1v1h-1zM28 47h1v1h-1zM3 48h1v1h-1zM12 48h1v1h-1zM11 49h1v1h-1zM23 49h1v1h-1zM25 49h1v1h-1zM85 49h1v1h-1zM89 49h1v1h-1zM4 50h1v1h-1zM9 50h2v1h-2zM14 50h1v1h-1zM23 50h1v1h-1zM84 50h1v1h-1zM89 50h1v1h-1zM91 50h1v1h-1zM94 50h1v1h-1zM1 51h1v1h-1zM16 51h1v1h-1zM85 51h1v1h-1zM15 52h1v1h-1zM1 53h1v1h-1zM4 53h1v1h-1zM10 53h1v1h-1zM70 53h1v1h-1zM86 53h1v1h-1zM90 53h1v1h-1zM95 53h1v1h-1zM10 54h1v1h-1zM9 55h1v1h-1zM14 55h1v1h-1zM76 55h1v1h-1zM81 55h1v1h-1zM88 55h1v1h-1zM2 56h1v1h-1zM13 56h1v1h-1zM11 57h1v1h-1zM89 57h1v1h-1zM13 58h1v1h-1zM20 58h1v1h-1zM95 58h1v1h-1zM3 59h1v1h-1zM3 60h1v1h-1zM78 60h1v1h-1zM81 60h1v1h-1zM96 60h1v1h-1zM1 61h1v1h-1zM19 61h1v1h-1zM78 61h1v1h-1zM12 62h1v1h-1zM67 62h1v1h-1zM71 62h1v1h-1zM82 62h2v1h-2zM65 63h1v1h-1zM15 64h1v1h-1zM33 64h1v1h-1zM79 64h1v1h-1zM99 64h1v1h-1zM3 65h1v1h-1zM67 65h1v1h-1zM76 65h1v1h-1zM89 65h1v1h-1zM98 65h1v1h-1zM12 66h1v1h-1zM66 66h2v1h-2zM74 66h1v1h-1zM79 66h1v1h-1zM33 67h1v1h-1zM65 67h1v1h-1zM74 67h1v1h-1zM1 68h1v1h-1zM5 68h2v1h-2zM3 69h1v1h-1zM12 69h3v1h-3zM83 69h1v1h-1zM93 69h1v1h-1zM4 71h1v1h-1zM67 71h1v1h-1zM69 71h1v1h-1zM75 71h1v1h-1zM83 71h1v1h-1zM12 72h1v1h-1zM50 72h1v1h-1zM85 72h1v1h-1zM89 72h1v1h-1zM60 73h1v1h-1zM74 73h1v1h-1zM6 74h1v1h-1zM70 74h1v1h-1zM74 74h2v1h-2zM88 74h1v1h-1zM10 75h1v1h-1zM73 75h1v1h-1zM5 76h1v1h-1zM7 76h1v1h-1zM86 76h1v1h-1zM0 77h1v1h-1zM71 77h1v1h-1zM86 77h1v1h-1zM92 77h1v1h-1zM1 78h1v1h-1zM5 78h1v1h-1zM47 78h1v1h-1zM66 78h1v1h-1zM77 78h1v1h-1zM89 78h1v1h-1zM88 79h1v1h-1zM95 79h1v1h-1zM98 79h1v1h-1zM57 80h1v1h-1zM80 80h1v1h-1zM82 80h1v1h-1zM32 81h1v1h-1zM53 81h1v1h-1zM83 81h1v1h-1zM86 81h1v1h-1zM11 82h1v1h-1zM78 82h1v1h-1zM80 82h1v1h-1zM11 83h1v1h-1zM19 83h1v1h-1zM79 83h2v1h-2zM88 83h3v1h-3zM0 84h2v1h-2zM5 84h2v1h-2zM19 84h1v1h-1zM74 84h1v1h-1zM1 85h1v1h-1zM5 85h1v1h-1zM9 85h3v1h-3zM16 85h1v1h-1zM22 85h1v1h-1zM42 85h1v1h-1zM67 85h1v1h-1zM93 85h1v1h-1zM95 85h1v1h-1zM3 86h1v1h-1zM11 86h1v1h-1zM47 86h1v1h-1zM51 86h1v1h-1zM57 86h1v1h-1zM93 86h1v1h-1zM8 87h1v1h-1zM12 87h1v1h-1zM29 87h1v1h-1zM50 87h1v1h-1zM75 87h1v1h-1zM91 87h1v1h-1zM95 87h1v1h-1zM0 88h1v1h-1zM8 88h1v1h-1zM11 88h1v1h-1zM38 88h1v1h-1zM66 88h1v1h-1zM93 88h1v1h-1zM32 89h1v1h-1zM88 89h1v1h-1zM90 89h1v1h-1zM98 89h1v1h-1zM29 90h1v1h-1zM77 90h1v1h-1zM7 91h1v1h-1zM17 91h1v1h-1zM20 91h1v1h-1zM29 91h1v1h-1zM55 91h1v1h-1zM62 91h1v1h-1zM35 92h1v1h-1zM68 92h1v1h-1zM70 92h1v1h-1zM28 93h1v1h-1zM49 93h2v1h-2zM89 93h1v1h-1zM92 93h1v1h-1zM28 94h1v1h-1zM39 94h1v1h-1zM14 95h1v1h-1zM95 95h1v1h-1zM28 96h1v1h-1zM4 97h1v1h-1zM19 97h1v1h-1zM22 97h1v1h-1zM34 97h1v1h-1zM68 97h1v1h-1zM89 97h1v1h-1zM9 98h1v1h-1zM21 98h1v1h-1zM27 98h1v1h-1zM77 98h2v1h-2zM13 99h1v1h-1zM36 99h1v1h-1zM53 99h1v1h-1zM61 99h1v1h-1zM82 99h1v1h-1z"/><path fill="#5d3a9e" d="M24 0h1v1h-1zM43 0h1v1h-1zM62 0h1v1h-1zM73 0h1v1h-1zM76 0h1v1h-1zM83 0h1v1h-1zM1 1h1v1h-1zM5 1h1v1h-1zM37 1h1v1h-1zM47 1h1v1h-1zM49 1h1v1h-1zM53 1h1v1h-1zM73 1h1v1h-1zM83 1h1v1h-1zM98 1h1v1h-1zM32 2h1v1h-1zM37 2h1v1h-1zM46 2h1v1h-1zM59 2h1v1h-1zM74 2h1v1h-1zM14 3h2v1h-2zM57 3h1v1h-1zM68 3h1v1h-1zM76 3h1v1h-1zM87 3h1v1h-1zM89 3h1v1h-1zM95 3h1v1h-1zM43 4h1v1h-1zM46 4h2v1h-2zM55 4h1v1h-1zM69 4h1v1h-1zM74 4h1v1h-1zM79 4h1v1h-1zM9 5h1v1h-1zM27 5h1v1h-1zM32 5h1v1h-1zM54 5h1v1h-1zM59 5h1v1h-1zM69 5h1v1h-1zM87 5h1v1h-1zM6 6h1v1h-1zM9 6h1v1h-1zM30 6h1v1h-1zM47 6h1v1h-1zM69 6h1v1h-1zM71 6h1v1h-1zM79 6h1v1h-1zM0 7h1v1h-1zM19 7h1v1h-1zM53 7h2v1h-2zM57 7h1v1h-1zM71 7h1v1h-1zM83 7h1v1h-1zM23 8h1v1h-1zM32 8h1v1h-1zM45 8h1v1h-1zM48 8h1v1h-1zM53 8h1v1h-1zM86 8h2v1h-2zM92 8h1v1h-1zM8 9h1v1h-1zM22 9h2v1h-2zM42 9h1v1h-1zM48 9h1v1h-1zM87 9h1v1h-1zM31 10h1v1h-1zM35 10h1v1h-1zM37 10h1v1h-1zM71 10h1v1h-1zM82 10h1v1h-1zM85 10h1v1h-1zM19 11h2v1h-2zM29 11h1v1h-1zM40 11h1v1h-1zM51 11h1v1h-1zM79 11h1v1h-1zM86 11h1v1h-1zM89 11h1v1h-1zM10 12h1v1h-1zM64 12h1v1h-1zM6 13h2v1h-2zM16 13h1v1h-1zM27 13h1v1h-1zM44 13h1v1h-1zM48 13h1v1h-1zM66 13h1v1h-1zM6 14h1v1h-1zM28 14h1v1h-1zM41 14h1v1h-1zM72 14h1v1h-1zM78 14h1v1h-1zM83 14h1v1h-1zM92 14h1v1h-1zM96 14h1v1h-1zM99 14h1v1h-1zM20 15h1v1h-1zM55 15h1v1h-1zM58 15h1v1h-1zM97 15h1v1h-1zM21 16h1v1h-1zM31 16h1v1h-1zM59 16h1v1h-1zM83 16h1v1h-1zM17 17h1v1h-1zM54 17h1v1h-1zM1 18h1v1h-1zM33 18h1v1h-1zM35 18h1v1h-1zM36 19h1v1h-1zM48 19h1v1h-1zM97 19h1v1h-1zM9 20h1v1h-1zM20 20h1v1h-1zM29 20h1v1h-1zM35 20h1v1h-1zM45 20h1v1h-1zM92 20h1v1h-1zM95 20h1v1h-1zM28 21h1v1h-1zM44 21h1v1h-1zM90 21h1v1h-1zM94 21h1v1h-1zM96 21h1v1h-1zM27 22h2v1h-2zM91 22h1v1h-1zM9 23h1v1h-1zM5 24h1v1h-1zM52 24h1v1h-1zM98 24h1v1h-1zM1 25h1v1h-1zM6 25h1v1h-1zM89 25h1v1h-1zM92 25h1v1h-1zM99 25h1v1h-1zM4 26h1v1h-1zM45 26h1v1h-1zM3 27h1v1h-1zM7 27h2v1h-2zM23 27h1v1h-1zM3 28h1v1h-1zM15 28h1v1h-1zM23 28h1v1h-1zM25 28h1v1h-1zM31 28h1v1h-1zM87 28h1v1h-1zM90 28h1v1h-1zM19 29h1v1h-1zM47 29h1v1h-1zM8 30h1v1h-1zM0 31h1v1h-1zM18 31h1v1h-1zM92 31h1v1h-1zM21 32h1v1h-1zM33 32h1v1h-1zM85 32h2v1h-2zM10 33h1v1h-1zM20 33h2v1h-2zM30 33h2v1h-2zM95 33h1v1h-1zM11 34h1v1h-1zM29 34h1v1h-1zM1 35h1v1h-1zM16 35h1v1h-1zM82 35h1v1h-1zM85 37h1v1h-1zM96 37h1v1h-1zM86 38h2v1h-2zM91 38h1v1h-1zM0 39h1v1h-1zM32 39h2v1h-2zM88 39h1v1h-1zM9 40h1v1h-1zM19 40h1v1h-1zM16 41h1v1h-1zM23 41h1v1h-1zM90 41h1v1h-1zM24 42h1v1h-1zM82 42h1v1h-1zM86 42h1v1h-1zM93 42h1v1h-1zM6 43h1v1h-1zM16 43h1v1h-1zM93 43h1v1h-1zM3 45h1v1h-1zM7 45h1v1h-1zM21 45h1v1h-1zM79 45h1v1h-1zM81 45h1v1h-1zM92 45h1v1h-1zM14 46h1v1h-1zM23 46h1v1h-1zM90 46h1v1h-1zM11 47h1v1h-1zM19 47h1v1h-1zM92 47h1v1h-1zM98 47h1v1h-1zM13 48h1v1h-1zM19 48h1v1h-1zM3 49h2v1h-2zM13 49h1v1h-1zM90 49h1v1h-1zM97 49h1v1h-1zM99 49h1v1h-1zM15 50h1v1h-1zM18 50h1v1h-1zM88 50h1v1h-1zM95 50h1v1h-1zM10 51h1v1h-1zM92 51h1v1h-1zM14 52h1v1h-1zM34 52h1v1h-1zM99 52h1v1h-1zM8 53h1v1h-1zM19 53h1v1h-1zM28 53h1v1h-1zM19 54h1v1h-1zM91 54h1v1h-1zM83 55h1v1h-1zM90 55h1v1h-1zM20 56h1v1h-1zM95 56h1v1h-1zM1 57h1v1h-1zM17 58h1v1h-1zM69 58h1v1h-1zM75 58h1v1h-1zM71 61h1v1h-1zM77 61h1v1h-1zM79 61h1v1h-1zM96 61h1v1h-1zM11 62h1v1h-1zM75 62h2v1h-2zM80 62h1v1h-1zM93 62h2v1h-2zM99 62h1v1h-1zM3 63h1v1h-1zM16 63h1v1h-1zM18 63h1v1h-1zM2 64h1v1h-1zM19 64h1v1h-1zM22 64h1v1h-1zM64 64h1v1h-1zM90 64h1v1h-1zM1 66h1v1h-1zM15 66h1v1h-1zM26 66h1v1h-1zM68 66h1v1h-1zM75 66h1v1h-1zM80 66h1v1h-1zM8 67h1v1h-1zM20 67h1v1h-1zM58 67h1v1h-1zM81 67h1v1h-1zM58 68h1v1h-1zM71 68h1v1h-1zM78 68h1v1h-1zM84 68h1v1h-1zM2 69h1v1h-1zM4 69h1v1h-1zM54 69h1v1h-1zM80 69h1v1h-1zM92 69h1v1h-1zM95 69h1v1h-1zM99 69h1v1h-1zM7 70h1v1h-1zM59 70h1v1h-1zM81 70h1v1h-1zM83 70h1v1h-1zM13 71h1v1h-1zM70 71h1v1h-1zM8 72h1v1h-1zM14 72h1v1h-1zM96 72h2v1h-2zM62 73h1v1h-1zM64 73h1v1h-1zM69 73h1v1h-1zM88 73h1v1h-1zM58 74h1v1h-1zM62 74h1v1h-1zM86 74h1v1h-1zM91 74h1v1h-1zM99 74h1v1h-1zM16 75h1v1h-1zM70 75h2v1h-2zM9 76h1v1h-1zM24 76h1v1h-1zM56 76h1v1h-1zM99 76h1v1h-1zM6 77h1v1h-1zM49 77h1v1h-1zM56 77h1v1h-1zM1 79h1v1h-1zM17 79h1v1h-1zM54 79h1v1h-1zM99 79h1v1h-1zM3 80h1v1h-1zM9 80h1v1h-1zM16 80h1v1h-1zM53 80h1v1h-1zM70 80h1v1h-1zM75 80h1v1h-1zM91 80h1v1h-1zM12 81h1v1h-1zM34 81h1v1h-1zM57 81h1v1h-1zM74 81h1v1h-1zM80 81h1v1h-1zM4 82h1v1h-1zM68 82h1v1h-1zM75 82h1v1h-1zM86 82h1v1h-1zM32 83h1v1h-1zM34 83h1v1h-1zM61 83h1v1h-1zM76 83h1v1h-1zM41 84h1v1h-1zM48 84h1v1h-1zM90 84h1v1h-1zM92 84h1v1h-1zM39 85h1v1h-1zM46 85h1v1h-1zM68 85h1v1h-1zM13 86h1v1h-1zM16 86h1v1h-1zM21 86h1v1h-1zM49 86h1v1h-1zM52 86h2v1h-2zM58 86h1v1h-1zM69 86h1v1h-1zM2 87h1v1h-1zM22 87h1v1h-1zM45 87h1v1h-1zM13 88h1v1h-1zM22 88h1v1h-1zM25 88h2v1h-2zM40 88h1v1h-1zM47 88h1v1h-1zM69 88h1v1h-1zM74 88h1v1h-1zM89 88h1v1h-1zM1 89h1v1h-1zM11 89h1v1h-1zM15 89h1v1h-1zM26 89h1v1h-1zM29 89h1v1h-1zM36 89h2v1h-2zM63 89h1v1h-1zM1 90h1v1h-1zM23 90h1v1h-1zM30 90h3v1h-3zM65 90h1v1h-1zM73 90h1v1h-1zM76 90h1v1h-1zM99 90h1v1h-1zM32 91h1v1h-1zM53 91h1v1h-1zM80 91h1v1h-1zM91 91h1v1h-1zM26 92h1v1h-1zM75 92h1v1h-1zM91 92h1v1h-1zM6 93h1v1h-1zM16 93h1v1h-1zM33 93h1v1h-1zM57 93h1v1h-1zM85 93h1v1h-1zM94 93h1v1h-1zM14 94h1v1h-1zM27 94h1v1h-1zM31 94h1v1h-1zM33 94h1v1h-1zM45 94h1v1h-1zM53 94h1v1h-1zM67 94h1v1h-1zM3 95h1v1h-1zM7 95h1v1h-1zM72 95h1v1h-1zM89 95h1v1h-1zM32 96h1v1h-1zM99 96h1v1h-1zM40 97h1v1h-1zM75 97h1v1h-1zM83 97h1v1h-1zM16 98h2v1h-2zM20 98h1v1h-1zM26 98h1v1h-1zM40 98h1v1h-1zM84 98h1v1h-1zM88 98h1v1h-1zM96 98h1v1h-1zM5 99h1v1h-1zM46 99h1v1h-1zM66 99h1v1h-1zM86 99h1v1h-1z"/><path fill="#381145" d="M30 0h1v1h-1zM67 3h1v1h-1zM65 4h1v1h-1zM86 4h1v1h-1zM92 4h1v1h-1zM34 5h1v1h-1zM85 5h1v1h-1zM33 7h1v1h-1zM19 9h1v1h-1zM63 10h1v1h-1zM80 10h1v1h-1zM91 13h1v1h-1zM93 16h1v1h-1zM96 23h1v1h-1zM11 24h1v1h-1zM9 25h1v1h-1zM99 33h1v1h-1zM0 34h1v1h-1zM3 38h1v1h-1zM33 42h1v1h-1zM12 43h1v1h-1zM3 47h1v1h-1zM12 56h1v1h-1zM90 56h1v1h-1zM94 56h1v1h-1zM70 57h1v1h-1zM87 61h1v1h-1zM84 62h1v1h-1zM89 66h1v1h-1zM98 68h1v1h-1zM88 69h1v1h-1zM3 70h1v1h-1zM94 72h1v1h-1zM2 73h1v1h-1zM98 73h1v1h-1zM87 76h1v1h-1zM7 78h1v1h-1zM14 83h1v1h-1zM64 83h1v1h-1zM57 84h1v1h-1zM65 84h1v1h-1zM14 85h1v1h-1zM17 85h1v1h-1zM87 85h1v1h-1zM98 86h1v1h-1zM71 87h1v1h-1zM70 88h1v1h-1zM8 90h1v1h-1zM61 90h1v1h-1zM9 94h1v1h-1zM89 94h1v1h-1zM1 98h1v1h-1zM32 98h1v1h-1z"/><path fill="#5f5fb3" d="M37 0h1v1h-1zM46 0h1v1h-1zM75 0h1v1h-1zM95 0h1v1h-1zM7 1h1v1h-1zM88 1h1v1h-1zM75 2h1v1h-1zM95 2h2v1h-2zM2 3h1v1h-1zM41 3h1v1h-1zM60 3h1v1h-1zM74 3h1v1h-1zM86 3h1v1h-1zM7 4h1v1h-1zM17 4h1v1h-1zM25 4h1v1h-1zM42 4h1v1h-1zM89 4h1v1h-1zM10 5h1v1h-1zM64 5h1v1h-1zM2 6h1v1h-1zM11 6h1v1h-1zM17 6h1v1h-1zM31 6h1v1h-1zM46 6h1v1h-1zM50 6h1v1h-1zM66 6h1v1h-1zM9 7h1v1h-1zM13 7h2v1h-2zM23 7h2v1h-2zM76 7h1v1h-1zM90 7h1v1h-1zM33 9h1v1h-1zM70 9h1v1h-1zM83 9h1v1h-1zM89 9h1v1h-1zM9 10h1v1h-1zM26 10h1v1h-1zM38 10h1v1h-1zM40 10h1v1h-1zM61 10h1v1h-1zM66 10h1v1h-1zM86 10h1v1h-1zM96 10h1v1h-1zM24 11h1v1h-1zM38 11h1v1h-1zM91 11h1v1h-1zM1 12h1v1h-1zM69 12h1v1h-1zM77 12h1v1h-1zM93 12h1v1h-1zM98 12h1v1h-1zM4 13h1v1h-1zM11 13h1v1h-1zM13 13h1v1h-1zM61 13h1v1h-1zM72 13h1v1h-1zM81 14h1v1h-1zM2 15h1v1h-1zM27 15h1v1h-1zM36 15h1v1h-1zM51 15h1v1h-1zM74 15h1v1h-1zM82 15h1v1h-1zM84 15h1v1h-1zM91 15h1v1h-1zM12 16h1v1h-1zM22 16h1v1h-1zM36 16h1v1h-1zM54 16h1v1h-1zM58 16h1v1h-1zM66 16h1v1h-1zM71 16h1v1h-1zM88 16h1v1h-1zM10 17h1v1h-1zM13 17h1v1h-1zM21 17h1v1h-1zM23 17h1v1h-1zM34 18h1v1h-1zM91 18h1v1h-1zM19 19h1v1h-1zM69 19h1v1h-1zM83 19h1v1h-1zM11 20h1v1h-1zM28 20h1v1h-1zM34 20h1v1h-1zM48 20h1v1h-1zM74 20h1v1h-1zM80 20h1v1h-1zM83 20h2v1h-2zM10 21h1v1h-1zM15 21h1v1h-1zM63 21h1v1h-1zM93 21h1v1h-1zM11 22h1v1h-1zM20 22h1v1h-1zM34 22h1v1h-1zM41 22h1v1h-1zM61 22h1v1h-1zM83 22h1v1h-1zM27 23h2v1h-2zM31 23h1v1h-1zM44 23h1v1h-1zM47 23h1v1h-1zM53 23h1v1h-1zM89 23h1v1h-1zM2 24h1v1h-1zM45 24h1v1h-1zM50 24h1v1h-1zM91 24h1v1h-1zM93 24h1v1h-1zM18 25h1v1h-1zM31 25h1v1h-1zM35 25h1v1h-1zM43 25h1v1h-1zM52 25h1v1h-1zM30 26h1v1h-1zM84 26h1v1h-1zM89 26h1v1h-1zM26 27h1v1h-1zM34 27h1v1h-1zM40 27h1v1h-1zM44 27h1v1h-1zM47 27h1v1h-1zM1 28h1v1h-1zM4 28h1v1h-1zM14 28h1v1h-1zM40 28h1v1h-1zM81 28h1v1h-1zM12 29h1v1h-1zM42 29h1v1h-1zM37 30h1v1h-1zM42 30h1v1h-1zM79 30h1v1h-1zM4 31h1v1h-1zM14 31h1v1h-1zM17 31h1v1h-1zM21 31h1v1h-1zM28 31h1v1h-1zM34 31h1v1h-1zM99 31h1v1h-1zM1 32h1v1h-1zM6 32h1v1h-1zM28 32h1v1h-1zM37 32h1v1h-1zM41 32h1v1h-1zM48 32h1v1h-1zM90 32h1v1h-1zM5 33h1v1h-1zM26 33h1v1h-1zM1 34h1v1h-1zM15 34h1v1h-1zM3 35h1v1h-1zM25 35h1v1h-1zM27 35h1v1h-1zM92 35h1v1h-1zM35 36h1v1h-1zM78 36h1v1h-1zM80 36h1v1h-1zM4 37h1v1h-1zM6 37h1v1h-1zM18 37h1v1h-1zM32 37h1v1h-1zM90 37h1v1h-1zM8 38h1v1h-1zM19 38h1v1h-1zM36 38h1v1h-1zM96 38h1v1h-1zM18 39h1v1h-1zM39 39h1v1h-1zM91 39h1v1h-1zM0 40h1v1h-1zM33 40h1v1h-1zM81 40h2v1h-2zM14 41h1v1h-1zM35 41h1v1h-1zM92 41h1v1h-1zM3 42h1v1h-1zM16 42h1v1h-1zM18 42h2v1h-2zM26 42h1v1h-1zM84 42h1v1h-1zM89 42h1v1h-1zM10 43h1v1h-1zM28 43h1v1h-1zM88 43h1v1h-1zM13 44h1v1h-1zM22 44h1v1h-1zM25 44h1v1h-1zM93 44h1v1h-1zM18 45h1v1h-1zM30 45h1v1h-1zM71 45h1v1h-1zM8 46h1v1h-1zM26 46h1v1h-1zM32 46h1v1h-1zM76 46h1v1h-1zM83 46h1v1h-1zM7 48h1v1h-1zM21 48h1v1h-1zM27 48h2v1h-2zM31 48h1v1h-1zM91 48h1v1h-1zM7 49h1v1h-1zM2 50h1v1h-1zM69 51h1v1h-1zM80 51h1v1h-1zM91 51h1v1h-1zM5 52h1v1h-1zM29 52h1v1h-1zM5 53h1v1h-1zM7 53h1v1h-1zM79 53h1v1h-1zM81 53h1v1h-1zM0 55h1v1h-1zM23 55h1v1h-1zM72 55h1v1h-1zM97 55h1v1h-1zM17 56h1v1h-1zM74 56h1v1h-1zM76 56h1v1h-1zM10 57h1v1h-1zM18 59h1v1h-1zM66 59h1v1h-1zM83 59h1v1h-1zM15 60h1v1h-1zM94 60h1v1h-1zM67 61h2v1h-2zM73 61h1v1h-1zM4 63h1v1h-1zM11 63h1v1h-1zM27 63h1v1h-1zM70 63h1v1h-1zM82 63h1v1h-1zM12 64h1v1h-1zM20 64h1v1h-1zM62 64h1v1h-1zM78 64h1v1h-1zM87 64h1v1h-1zM93 64h1v1h-1zM6 65h2v1h-2zM12 65h1v1h-1zM72 65h1v1h-1zM5 66h3v1h-3zM25 66h1v1h-1zM85 66h1v1h-1zM2 67h1v1h-1zM7 67h1v1h-1zM21 68h1v1h-1zM57 68h1v1h-1zM64 68h1v1h-1zM90 68h1v1h-1zM95 68h1v1h-1zM17 69h1v1h-1zM59 69h1v1h-1zM44 70h1v1h-1zM5 71h1v1h-1zM49 71h1v1h-1zM78 71h1v1h-1zM51 72h1v1h-1zM76 72h1v1h-1zM36 73h1v1h-1zM50 73h1v1h-1zM83 73h1v1h-1zM85 73h1v1h-1zM1 74h1v1h-1zM9 74h1v1h-1zM57 74h1v1h-1zM83 74h1v1h-1zM14 75h1v1h-1zM19 75h2v1h-2zM42 75h1v1h-1zM44 75h1v1h-1zM14 76h1v1h-1zM51 76h1v1h-1zM75 76h1v1h-1zM84 76h1v1h-1zM23 77h1v1h-1zM30 77h1v1h-1zM41 77h1v1h-1zM68 77h1v1h-1zM4 78h1v1h-1zM22 78h1v1h-1zM82 78h1v1h-1zM8 79h1v1h-1zM67 79h2v1h-2zM76 79h1v1h-1zM82 79h2v1h-2zM55 80h1v1h-1zM64 80h1v1h-1zM66 80h1v1h-1zM96 80h1v1h-1zM50 81h1v1h-1zM54 81h1v1h-1zM92 81h1v1h-1zM20 82h1v1h-1zM81 82h1v1h-1zM84 82h1v1h-1zM89 82h1v1h-1zM25 83h1v1h-1zM27 83h2v1h-2zM43 83h1v1h-1zM54 83h2v1h-2zM78 83h1v1h-1zM20 84h1v1h-1zM61 84h1v1h-1zM73 84h1v1h-1zM83 84h1v1h-1zM32 85h1v1h-1zM40 85h1v1h-1zM52 85h1v1h-1zM71 85h2v1h-2zM80 85h1v1h-1zM2 86h1v1h-1zM41 86h1v1h-1zM55 86h1v1h-1zM80 86h1v1h-1zM85 86h1v1h-1zM0 87h1v1h-1zM43 87h1v1h-1zM59 87h1v1h-1zM65 87h1v1h-1zM16 88h1v1h-1zM23 88h1v1h-1zM32 88h1v1h-1zM44 88h1v1h-1zM53 88h1v1h-1zM35 89h1v1h-1zM71 89h1v1h-1zM45 90h1v1h-1zM21 91h1v1h-1zM24 91h1v1h-1zM48 91h1v1h-1zM69 91h1v1h-1zM98 91h1v1h-1zM8 92h1v1h-1zM25 92h1v1h-1zM38 92h1v1h-1zM49 92h1v1h-1zM69 92h1v1h-1zM80 92h1v1h-1zM11 93h1v1h-1zM38 93h1v1h-1zM48 93h1v1h-1zM20 94h1v1h-1zM30 94h1v1h-1zM37 94h1v1h-1zM52 94h1v1h-1zM83 94h1v1h-1zM0 95h1v1h-1zM11 95h1v1h-1zM29 95h1v1h-1zM36 95h1v1h-1zM38 95h2v1h-2zM49 95h1v1h-1zM64 95h1v1h-1zM83 95h1v1h-1zM88 95h1v1h-1zM17 96h1v1h-1zM19 96h1v1h-1zM70 96h1v1h-1zM79 96h2v1h-2zM10 97h1v1h-1zM44 97h1v1h-1zM47 97h1v1h-1zM58 97h1v1h-1zM61 97h1v1h-1zM94 97h2v1h-2zM24 98h1v1h-1zM60 98h2v1h-2zM67 98h1v1h-1zM83 98h1v1h-1zM4 99h1v1h-1zM21 99h1v1h-1zM34 99h1v1h-1zM39 99h1v1h-1zM45 99h1v1h-1zM77 99h1v1h-1z"/><path fill="#59288d" d="M38 0h1v1h-1zM77 0h1v1h-1zM84 0h1v1h-1zM15 1h1v1h-1zM17 1h1v1h-1zM20 1h1v1h-1zM25 1h1v1h-1zM27 1h1v1h-1zM42 1h1v1h-1zM59 1h1v1h-1zM69 1h1v1h-1zM89 1h1v1h-1zM9 2h1v1h-1zM29 2h1v1h-1zM35 2h1v1h-1zM44 2h1v1h-1zM80 2h1v1h-1zM82 2h1v1h-1zM13 3h1v1h-1zM20 3h1v1h-1zM72 3h1v1h-1zM80 3h1v1h-1zM82 3h1v1h-1zM90 3h2v1h-2zM20 4h1v1h-1zM48 4h1v1h-1zM57 4h2v1h-2zM0 5h1v1h-1zM23 5h1v1h-1zM30 5h2v1h-2zM46 5h1v1h-1zM53 5h1v1h-1zM72 5h1v1h-1zM91 5h1v1h-1zM4 6h1v1h-1zM36 6h1v1h-1zM57 6h1v1h-1zM77 6h1v1h-1zM15 7h1v1h-1zM36 7h1v1h-1zM38 7h1v1h-1zM43 7h1v1h-1zM56 7h1v1h-1zM63 7h1v1h-1zM95 7h2v1h-2zM98 7h1v1h-1zM21 8h2v1h-2zM42 8h2v1h-2zM63 8h1v1h-1zM75 8h1v1h-1zM91 8h1v1h-1zM95 8h1v1h-1zM97 8h1v1h-1zM25 9h1v1h-1zM39 9h1v1h-1zM44 9h2v1h-2zM74 9h1v1h-1zM19 10h1v1h-1zM27 10h1v1h-1zM47 10h1v1h-1zM88 10h1v1h-1zM28 11h1v1h-1zM88 11h1v1h-1zM11 12h1v1h-1zM28 12h1v1h-1zM81 12h1v1h-1zM37 13h1v1h-1zM43 13h1v1h-1zM47 13h1v1h-1zM63 13h1v1h-1zM5 14h1v1h-1zM15 14h2v1h-2zM36 14h1v1h-1zM52 14h1v1h-1zM62 14h1v1h-1zM94 14h2v1h-2zM31 15h1v1h-1zM39 15h1v1h-1zM95 15h1v1h-1zM40 16h1v1h-1zM82 16h1v1h-1zM4 17h2v1h-2zM33 17h1v1h-1zM41 17h1v1h-1zM94 17h1v1h-1zM40 18h1v1h-1zM42 18h1v1h-1zM8 19h1v1h-1zM90 19h1v1h-1zM5 20h1v1h-1zM44 20h1v1h-1zM85 21h1v1h-1zM9 22h1v1h-1zM40 22h1v1h-1zM5 23h1v1h-1zM97 23h1v1h-1zM46 24h1v1h-1zM10 25h1v1h-1zM1 27h1v1h-1zM10 27h1v1h-1zM31 27h1v1h-1zM93 27h1v1h-1zM12 28h1v1h-1zM80 29h1v1h-1zM7 30h1v1h-1zM91 30h1v1h-1zM24 31h1v1h-1zM22 32h1v1h-1zM32 32h1v1h-1zM84 32h1v1h-1zM4 33h1v1h-1zM8 33h1v1h-1zM37 33h1v1h-1zM7 34h1v1h-1zM21 34h1v1h-1zM30 35h2v1h-2zM96 35h1v1h-1zM0 36h1v1h-1zM8 36h1v1h-1zM27 36h1v1h-1zM97 36h1v1h-1zM23 37h1v1h-1zM91 37h1v1h-1zM97 37h1v1h-1zM23 38h1v1h-1zM3 39h1v1h-1zM31 39h1v1h-1zM90 39h1v1h-1zM15 40h1v1h-1zM6 41h1v1h-1zM33 41h1v1h-1zM94 41h1v1h-1zM36 42h1v1h-1zM96 42h1v1h-1zM7 43h1v1h-1zM91 43h1v1h-1zM91 44h1v1h-1zM0 45h1v1h-1zM5 45h1v1h-1zM9 45h1v1h-1zM78 45h1v1h-1zM87 46h1v1h-1zM9 47h1v1h-1zM78 47h1v1h-1zM87 47h1v1h-1zM5 48h1v1h-1zM9 48h1v1h-1zM98 48h1v1h-1zM12 49h1v1h-1zM22 49h1v1h-1zM88 49h1v1h-1zM90 50h1v1h-1zM25 51h1v1h-1zM94 51h1v1h-1zM78 53h1v1h-1zM20 54h1v1h-1zM82 55h1v1h-1zM92 55h1v1h-1zM99 55h1v1h-1zM1 56h1v1h-1zM6 56h1v1h-1zM85 56h1v1h-1zM89 56h1v1h-1zM84 57h1v1h-1zM86 57h1v1h-1zM88 57h1v1h-1zM97 58h1v1h-1zM32 59h1v1h-1zM85 59h1v1h-1zM93 60h1v1h-1zM18 61h1v1h-1zM91 61h1v1h-1zM16 62h2v1h-2zM10 63h1v1h-1zM12 63h1v1h-1zM85 63h1v1h-1zM98 63h1v1h-1zM71 64h1v1h-1zM89 64h1v1h-1zM9 65h1v1h-1zM23 65h1v1h-1zM70 65h1v1h-1zM81 65h1v1h-1zM61 66h1v1h-1zM76 66h1v1h-1zM81 66h1v1h-1zM4 67h2v1h-2zM61 67h1v1h-1zM68 67h1v1h-1zM84 67h2v1h-2zM92 67h1v1h-1zM97 67h1v1h-1zM10 68h1v1h-1zM13 68h1v1h-1zM96 68h1v1h-1zM67 69h1v1h-1zM79 69h1v1h-1zM87 69h1v1h-1zM9 70h1v1h-1zM69 70h1v1h-1zM88 70h1v1h-1zM98 70h1v1h-1zM15 71h1v1h-1zM61 71h1v1h-1zM87 71h1v1h-1zM4 72h1v1h-1zM11 72h1v1h-1zM22 72h1v1h-1zM93 72h1v1h-1zM90 73h1v1h-1zM12 74h1v1h-1zM63 74h1v1h-1zM97 74h1v1h-1zM13 75h1v1h-1zM3 76h1v1h-1zM18 76h1v1h-1zM1 77h1v1h-1zM16 77h1v1h-1zM22 77h1v1h-1zM85 77h1v1h-1zM90 77h1v1h-1zM11 78h1v1h-1zM15 78h1v1h-1zM86 78h1v1h-1zM95 78h1v1h-1zM12 79h1v1h-1zM25 79h1v1h-1zM58 80h1v1h-1zM83 80h1v1h-1zM87 80h1v1h-1zM58 81h1v1h-1zM63 81h1v1h-1zM97 81h1v1h-1zM46 82h1v1h-1zM63 82h1v1h-1zM88 82h1v1h-1zM1 83h1v1h-1zM10 83h1v1h-1zM13 83h1v1h-1zM96 83h1v1h-1zM4 84h1v1h-1zM8 84h1v1h-1zM25 84h1v1h-1zM28 84h1v1h-1zM39 84h1v1h-1zM63 84h1v1h-1zM51 85h1v1h-1zM54 85h1v1h-1zM61 85h1v1h-1zM73 85h1v1h-1zM86 85h1v1h-1zM89 85h1v1h-1zM91 85h1v1h-1zM96 85h1v1h-1zM23 86h1v1h-1zM48 86h1v1h-1zM75 86h1v1h-1zM86 86h1v1h-1zM90 86h1v1h-1zM94 86h2v1h-2zM63 87h1v1h-1zM69 87h1v1h-1zM10 88h1v1h-1zM56 88h1v1h-1zM59 88h1v1h-1zM90 88h1v1h-1zM6 89h1v1h-1zM22 89h1v1h-1zM24 89h1v1h-1zM69 89h1v1h-1zM87 89h1v1h-1zM3 90h1v1h-1zM6 90h1v1h-1zM16 90h1v1h-1zM55 90h1v1h-1zM62 90h1v1h-1zM66 90h1v1h-1zM81 90h1v1h-1zM92 90h2v1h-2zM12 91h1v1h-1zM22 91h1v1h-1zM26 91h1v1h-1zM34 91h1v1h-1zM72 91h1v1h-1zM77 91h1v1h-1zM6 92h1v1h-1zM23 92h1v1h-1zM50 92h1v1h-1zM59 92h1v1h-1zM67 92h1v1h-1zM3 93h1v1h-1zM7 93h1v1h-1zM27 93h1v1h-1zM47 93h1v1h-1zM41 94h1v1h-1zM85 94h1v1h-1zM94 94h1v1h-1zM4 95h1v1h-1zM34 95h1v1h-1zM48 95h1v1h-1zM1 96h1v1h-1zM24 96h1v1h-1zM0 97h1v1h-1zM7 97h1v1h-1zM21 97h1v1h-1zM55 97h1v1h-1zM69 97h1v1h-1zM98 97h2v1h-2zM22 98h1v1h-1zM81 98h1v1h-1zM26 99h1v1h-1zM55 99h1v1h-1zM72 99h1v1h-1z"/><path fill="#5f65b5" d="M44 0h1v1h-1zM50 0h1v1h-1zM66 0h1v1h-1zM94 0h1v1h-1zM46 1h1v1h-1zM93 1h1v1h-1zM52 2h1v1h-1zM4 3h1v1h-1zM6 3h1v1h-1zM22 3h1v1h-1zM47 3h1v1h-1zM94 3h1v1h-1zM4 4h1v1h-1zM78 4h1v1h-1zM90 4h1v1h-1zM63 5h1v1h-1zM78 5h1v1h-1zM90 5h1v1h-1zM10 6h1v1h-1zM18 6h1v1h-1zM44 6h1v1h-1zM67 6h1v1h-1zM4 7h1v1h-1zM27 7h1v1h-1zM47 7h1v1h-1zM62 7h1v1h-1zM66 7h1v1h-1zM9 8h1v1h-1zM47 8h1v1h-1zM81 8h1v1h-1zM15 9h1v1h-1zM38 9h1v1h-1zM52 9h1v1h-1zM58 9h2v1h-2zM65 9h1v1h-1zM96 9h1v1h-1zM98 9h1v1h-1zM68 10h1v1h-1zM95 10h1v1h-1zM3 11h1v1h-1zM16 11h1v1h-1zM37 11h1v1h-1zM47 11h1v1h-1zM66 11h1v1h-1zM98 11h2v1h-2zM29 12h1v1h-1zM40 12h1v1h-1zM53 12h1v1h-1zM72 12h1v1h-1zM39 13h2v1h-2zM64 13h2v1h-2zM75 13h1v1h-1zM28 15h1v1h-1zM35 15h1v1h-1zM70 15h1v1h-1zM72 15h1v1h-1zM77 15h1v1h-1zM27 16h1v1h-1zM29 16h1v1h-1zM44 16h1v1h-1zM57 16h1v1h-1zM73 16h1v1h-1zM3 17h1v1h-1zM52 17h2v1h-2zM64 17h1v1h-1zM0 18h1v1h-1zM28 19h1v1h-1zM60 19h1v1h-1zM66 19h1v1h-1zM71 19h1v1h-1zM91 19h1v1h-1zM25 20h1v1h-1zM38 20h1v1h-1zM66 20h2v1h-2zM79 20h1v1h-1zM26 21h1v1h-1zM64 21h1v1h-1zM73 21h1v1h-1zM78 21h2v1h-2zM97 21h1v1h-1zM35 22h1v1h-1zM94 22h1v1h-1zM98 22h1v1h-1zM36 23h1v1h-1zM59 23h1v1h-1zM84 23h3v1h-3zM23 24h1v1h-1zM86 24h1v1h-1zM97 24h1v1h-1zM24 25h1v1h-1zM48 25h1v1h-1zM90 25h1v1h-1zM80 26h1v1h-1zM88 26h1v1h-1zM7 28h2v1h-2zM20 28h1v1h-1zM35 28h1v1h-1zM48 28h1v1h-1zM83 28h1v1h-1zM98 28h1v1h-1zM21 29h1v1h-1zM32 29h1v1h-1zM41 29h1v1h-1zM49 29h1v1h-1zM85 29h1v1h-1zM87 29h1v1h-1zM1 30h1v1h-1zM13 30h1v1h-1zM20 30h1v1h-1zM31 30h1v1h-1zM41 30h1v1h-1zM43 30h1v1h-1zM1 31h1v1h-1zM5 31h1v1h-1zM42 31h1v1h-1zM89 31h1v1h-1zM11 32h1v1h-1zM15 32h1v1h-1zM95 32h1v1h-1zM11 33h1v1h-1zM24 33h1v1h-1zM80 33h1v1h-1zM82 33h1v1h-1zM84 33h1v1h-1zM97 34h1v1h-1zM20 35h1v1h-1zM33 35h1v1h-1zM90 35h1v1h-1zM94 35h1v1h-1zM98 35h1v1h-1zM84 36h1v1h-1zM89 36h2v1h-2zM24 37h1v1h-1zM36 37h2v1h-2zM31 38h1v1h-1zM27 39h1v1h-1zM37 39h1v1h-1zM83 39h1v1h-1zM24 40h1v1h-1zM28 40h1v1h-1zM32 40h1v1h-1zM78 40h1v1h-1zM91 40h1v1h-1zM96 40h1v1h-1zM21 41h1v1h-1zM2 42h1v1h-1zM4 42h1v1h-1zM22 42h1v1h-1zM31 42h1v1h-1zM79 42h1v1h-1zM18 43h1v1h-1zM24 43h1v1h-1zM30 43h2v1h-2zM73 43h1v1h-1zM80 43h1v1h-1zM35 44h1v1h-1zM83 44h1v1h-1zM86 44h1v1h-1zM12 45h1v1h-1zM27 45h1v1h-1zM38 45h1v1h-1zM76 45h1v1h-1zM82 45h1v1h-1zM93 45h1v1h-1zM28 46h1v1h-1zM71 46h1v1h-1zM89 46h1v1h-1zM15 47h1v1h-1zM30 47h1v1h-1zM88 47h1v1h-1zM1 48h1v1h-1zM79 48h1v1h-1zM89 48h1v1h-1zM2 49h1v1h-1zM14 49h1v1h-1zM17 49h2v1h-2zM8 50h1v1h-1zM19 50h1v1h-1zM28 50h1v1h-1zM75 50h1v1h-1zM8 51h1v1h-1zM13 51h1v1h-1zM68 51h1v1h-1zM83 51h1v1h-1zM99 51h1v1h-1zM85 52h2v1h-2zM85 53h1v1h-1zM0 54h1v1h-1zM25 54h1v1h-1zM18 55h1v1h-1zM5 56h1v1h-1zM23 56h1v1h-1zM67 56h1v1h-1zM79 56h1v1h-1zM5 57h1v1h-1zM17 57h1v1h-1zM74 57h1v1h-1zM76 57h1v1h-1zM21 58h1v1h-1zM25 58h1v1h-1zM1 59h1v1h-1zM29 59h1v1h-1zM71 59h1v1h-1zM74 59h1v1h-1zM5 60h1v1h-1zM77 60h1v1h-1zM92 60h1v1h-1zM20 62h1v1h-1zM77 62h1v1h-1zM33 63h2v1h-2zM89 63h1v1h-1zM24 64h1v1h-1zM17 65h1v1h-1zM58 65h1v1h-1zM68 65h1v1h-1zM0 66h1v1h-1zM62 66h1v1h-1zM65 66h1v1h-1zM23 67h1v1h-1zM28 67h1v1h-1zM62 67h1v1h-1zM72 67h1v1h-1zM77 67h1v1h-1zM18 68h1v1h-1zM22 68h1v1h-1zM53 68h1v1h-1zM61 68h1v1h-1zM24 69h1v1h-1zM32 69h1v1h-1zM91 69h1v1h-1zM49 70h1v1h-1zM87 70h1v1h-1zM16 71h1v1h-1zM23 71h1v1h-1zM73 71h1v1h-1zM19 72h1v1h-1zM31 72h1v1h-1zM92 72h1v1h-1zM47 73h1v1h-1zM78 73h1v1h-1zM52 74h2v1h-2zM76 74h1v1h-1zM84 74h2v1h-2zM89 74h1v1h-1zM24 75h1v1h-1zM67 75h1v1h-1zM93 75h1v1h-1zM97 75h1v1h-1zM19 76h1v1h-1zM35 76h1v1h-1zM57 76h1v1h-1zM90 76h1v1h-1zM3 77h1v1h-1zM43 77h1v1h-1zM53 77h1v1h-1zM57 77h1v1h-1zM65 77h1v1h-1zM51 78h1v1h-1zM3 79h2v1h-2zM6 79h1v1h-1zM21 79h3v1h-3zM43 79h1v1h-1zM69 79h2v1h-2zM15 80h1v1h-1zM22 80h1v1h-1zM26 80h1v1h-1zM36 80h1v1h-1zM73 80h1v1h-1zM4 81h1v1h-1zM16 81h1v1h-1zM35 81h2v1h-2zM39 81h1v1h-1zM65 81h1v1h-1zM68 81h1v1h-1zM77 81h1v1h-1zM3 82h1v1h-1zM17 82h1v1h-1zM82 82h2v1h-2zM94 82h1v1h-1zM17 83h1v1h-1zM45 83h1v1h-1zM48 83h1v1h-1zM53 83h1v1h-1zM9 84h1v1h-1zM29 84h1v1h-1zM46 84h1v1h-1zM53 84h2v1h-2zM75 84h1v1h-1zM79 84h1v1h-1zM96 84h1v1h-1zM55 85h1v1h-1zM26 86h1v1h-1zM33 86h1v1h-1zM40 86h1v1h-1zM62 86h1v1h-1zM77 86h1v1h-1zM96 86h2v1h-2zM24 87h1v1h-1zM26 87h1v1h-1zM32 87h2v1h-2zM38 87h1v1h-1zM74 87h1v1h-1zM80 87h1v1h-1zM83 87h1v1h-1zM37 88h1v1h-1zM58 88h1v1h-1zM75 88h1v1h-1zM95 88h1v1h-1zM98 88h1v1h-1zM46 89h1v1h-1zM64 89h1v1h-1zM68 89h1v1h-1zM83 89h1v1h-1zM20 90h1v1h-1zM46 90h1v1h-1zM8 91h1v1h-1zM16 91h1v1h-1zM71 91h1v1h-1zM84 91h1v1h-1zM94 91h1v1h-1zM1 92h1v1h-1zM93 92h1v1h-1zM64 93h1v1h-1zM66 93h1v1h-1zM77 93h1v1h-1zM79 93h1v1h-1zM88 93h1v1h-1zM6 94h1v1h-1zM19 94h1v1h-1zM56 94h1v1h-1zM74 94h1v1h-1zM78 94h1v1h-1zM91 94h1v1h-1zM32 95h1v1h-1zM93 95h1v1h-1zM18 96h1v1h-1zM20 96h1v1h-1zM39 96h1v1h-1zM58 96h1v1h-1zM75 96h1v1h-1zM81 96h1v1h-1zM87 96h1v1h-1zM91 96h1v1h-1zM93 96h3v1h-3zM14 97h1v1h-1zM30 97h2v1h-2zM57 97h1v1h-1zM62 97h1v1h-1zM80 97h1v1h-1zM4 98h1v1h-1zM15 98h1v1h-1zM29 98h1v1h-1zM52 98h1v1h-1zM92 98h1v1h-1zM14 99h1v1h-1zM24 99h1v1h-1zM64 99h1v1h-1zM75 99h1v1h-1zM98 99h1v1h-1z"/><path fill="#769bc1" d="M49 0h1v1h-1zM16 4h1v1h-1zM26 7h1v1h-1zM6 8h1v1h-1zM77 8h1v1h-1zM61 9h1v1h-1zM69 10h1v1h-1zM15 12h1v1h-1zM31 12h1v1h-1zM57 12h1v1h-1zM32 13h1v1h-1zM54 13h1v1h-1zM57 13h1v1h-1zM60 13h1v1h-1zM82 13h1v1h-1zM92 13h1v1h-1zM48 14h1v1h-1zM66 15h1v1h-1zM77 16h1v1h-1zM77 17h1v1h-1zM22 18h1v1h-1zM51 18h1v1h-1zM59 18h1v1h-1zM73 18h1v1h-1zM76 18h1v1h-1zM80 18h1v1h-1zM11 19h1v1h-1zM56 19h1v1h-1zM30 20h1v1h-1zM51 20h1v1h-1zM87 20h1v1h-1zM42 21h1v1h-1zM51 21h2v1h-2zM3 22h1v1h-1zM57 22h1v1h-1zM23 23h1v1h-1zM42 23h1v1h-1zM40 24h1v1h-1zM68 24h2v1h-2zM79 24h1v1h-1zM60 25h1v1h-1zM51 27h1v1h-1zM44 28h1v1h-1zM55 29h1v1h-1zM48 31h1v1h-1zM86 31h1v1h-1zM36 32h1v1h-1zM49 32h1v1h-1zM78 33h1v1h-1zM14 37h1v1h-1zM42 37h1v1h-1zM49 37h1v1h-1zM75 38h1v1h-1zM77 39h1v1h-1zM84 40h1v1h-1zM25 41h1v1h-1zM41 41h1v1h-1zM62 42h1v1h-1zM60 43h1v1h-1zM11 45h1v1h-1zM85 45h1v1h-1zM36 46h1v1h-1zM34 48h1v1h-1zM74 48h1v1h-1zM38 49h1v1h-1zM76 49h2v1h-2zM34 50h1v1h-1zM79 50h1v1h-1zM76 51h1v1h-1zM87 51h1v1h-1zM75 52h2v1h-2zM80 52h1v1h-1zM32 53h1v1h-1zM67 53h1v1h-1zM84 53h1v1h-1zM92 53h1v1h-1zM84 54h1v1h-1zM27 55h1v1h-1zM62 55h1v1h-1zM25 57h1v1h-1zM79 57h1v1h-1zM60 58h1v1h-1zM63 58h1v1h-1zM83 58h1v1h-1zM27 59h1v1h-1zM94 59h1v1h-1zM51 64h1v1h-1zM0 65h1v1h-1zM83 65h1v1h-1zM29 67h1v1h-1zM51 67h1v1h-1zM31 68h1v1h-1zM43 69h1v1h-1zM33 70h1v1h-1zM36 70h1v1h-1zM46 70h1v1h-1zM55 71h1v1h-1zM34 72h1v1h-1zM46 72h1v1h-1zM34 75h1v1h-1zM38 75h1v1h-1zM48 75h1v1h-1zM59 75h1v1h-1zM48 76h1v1h-1zM34 78h1v1h-1zM42 78h1v1h-1zM74 78h1v1h-1zM23 80h1v1h-1zM35 80h1v1h-1zM40 81h1v1h-1zM38 82h1v1h-1zM82 87h1v1h-1zM96 88h1v1h-1zM96 89h1v1h-1zM76 94h1v1h-1zM82 94h1v1h-1zM30 95h1v1h-1zM58 95h1v1h-1zM63 95h1v1h-1zM86 97h1v1h-1zM16 99h1v1h-1zM95 99h1v1h-1z"/><path fill="#3c114b" d="M63 0h1v1h-1zM47 2h1v1h-1zM70 5h1v1h-1zM8 6h1v1h-1zM15 6h1v1h-1zM85 6h1v1h-1zM22 7h1v1h-1zM29 7h1v1h-1zM73 7h1v1h-1zM99 7h1v1h-1zM99 8h1v1h-1zM13 10h1v1h-1zM22 10h3v1h-3zM87 10h1v1h-1zM64 11h1v1h-1zM17 12h1v1h-1zM49 13h1v1h-1zM87 17h1v1h-1zM7 20h1v1h-1zM0 27h1v1h-1zM5 34h1v1h-1zM87 34h1v1h-1zM16 36h1v1h-1zM94 42h1v1h-1zM3 44h1v1h-1zM16 44h1v1h-1zM90 44h1v1h-1zM8 45h1v1h-1zM89 45h1v1h-1zM94 45h1v1h-1zM10 47h1v1h-1zM12 50h1v1h-1zM93 50h1v1h-1zM89 53h1v1h-1zM13 54h1v1h-1zM6 55h1v1h-1zM85 57h1v1h-1zM95 57h1v1h-1zM30 59h1v1h-1zM79 60h1v1h-1zM0 61h1v1h-1zM84 61h1v1h-1zM88 61h1v1h-1zM79 65h1v1h-1zM2 70h1v1h-1zM3 71h1v1h-1zM79 71h1v1h-1zM2 72h2v1h-2zM75 73h1v1h-1zM82 77h1v1h-1zM6 78h1v1h-1zM48 78h1v1h-1zM89 79h1v1h-1zM59 81h1v1h-1zM14 82h1v1h-1zM9 86h1v1h-1zM39 86h1v1h-1zM72 87h1v1h-1zM94 87h1v1h-1zM20 88h1v1h-1zM55 88h1v1h-1zM60 88h1v1h-1zM26 90h1v1h-1zM57 90h1v1h-1zM57 92h1v1h-1zM76 98h1v1h-1zM89 98h1v1h-1zM68 99h1v1h-1z"/><path fill="#6170b9" d="M67 0h1v1h-1zM74 0h1v1h-1zM10 1h1v1h-1zM35 1h1v1h-1zM94 1h1v1h-1zM96 1h1v1h-1zM99 1h1v1h-1zM62 2h1v1h-1zM73 2h1v1h-1zM4 5h1v1h-1zM15 5h1v1h-1zM68 5h1v1h-1zM94 5h1v1h-1zM20 6h1v1h-1zM98 6h1v1h-1zM8 7h1v1h-1zM61 7h1v1h-1zM68 7h1v1h-1zM78 7h1v1h-1zM3 8h1v1h-1zM8 8h1v1h-1zM55 8h1v1h-1zM65 8h1v1h-1zM9 9h1v1h-1zM69 9h1v1h-1zM94 10h1v1h-1zM15 11h1v1h-1zM31 11h1v1h-1zM71 11h1v1h-1zM14 12h1v1h-1zM61 12h1v1h-1zM70 12h1v1h-1zM79 12h1v1h-1zM82 12h2v1h-2zM85 12h1v1h-1zM8 13h1v1h-1zM87 13h1v1h-1zM10 14h1v1h-1zM27 14h1v1h-1zM30 14h1v1h-1zM51 14h1v1h-1zM59 14h1v1h-1zM61 14h1v1h-1zM85 14h2v1h-2zM97 14h1v1h-1zM1 15h1v1h-1zM38 15h1v1h-1zM62 15h1v1h-1zM25 16h1v1h-1zM33 16h2v1h-2zM75 16h1v1h-1zM79 16h1v1h-1zM8 17h1v1h-1zM15 17h1v1h-1zM36 17h1v1h-1zM72 17h1v1h-1zM82 17h1v1h-1zM79 18h1v1h-1zM18 19h1v1h-1zM23 19h1v1h-1zM45 19h1v1h-1zM12 20h1v1h-1zM37 20h1v1h-1zM65 20h1v1h-1zM68 20h1v1h-1zM2 21h1v1h-1zM36 21h1v1h-1zM41 21h1v1h-1zM72 21h1v1h-1zM2 22h1v1h-1zM18 22h2v1h-2zM31 22h1v1h-1zM37 22h1v1h-1zM44 22h1v1h-1zM60 22h1v1h-1zM86 22h1v1h-1zM97 22h1v1h-1zM16 23h1v1h-1zM40 23h1v1h-1zM61 23h1v1h-1zM94 23h1v1h-1zM16 24h1v1h-1zM25 24h1v1h-1zM43 24h1v1h-1zM87 24h1v1h-1zM15 25h1v1h-1zM42 25h1v1h-1zM87 25h1v1h-1zM14 26h1v1h-1zM22 26h1v1h-1zM81 26h1v1h-1zM91 26h1v1h-1zM12 27h1v1h-1zM25 27h1v1h-1zM39 27h1v1h-1zM89 27h1v1h-1zM39 28h1v1h-1zM28 29h1v1h-1zM34 29h1v1h-1zM83 29h1v1h-1zM81 30h1v1h-1zM8 31h1v1h-1zM35 31h1v1h-1zM41 31h1v1h-1zM88 31h1v1h-1zM95 31h1v1h-1zM5 32h1v1h-1zM47 32h1v1h-1zM36 33h1v1h-1zM39 33h1v1h-1zM83 33h1v1h-1zM27 34h1v1h-1zM76 34h1v1h-1zM83 34h1v1h-1zM38 35h3v1h-3zM99 35h1v1h-1zM29 36h1v1h-1zM38 36h1v1h-1zM25 38h1v1h-1zM38 38h1v1h-1zM23 40h1v1h-1zM22 41h1v1h-1zM34 41h1v1h-1zM76 41h1v1h-1zM74 42h1v1h-1zM9 43h1v1h-1zM34 43h1v1h-1zM86 43h1v1h-1zM30 44h1v1h-1zM76 44h1v1h-1zM85 44h1v1h-1zM17 46h1v1h-1zM22 46h1v1h-1zM70 46h1v1h-1zM77 46h1v1h-1zM8 47h1v1h-1zM26 47h1v1h-1zM73 47h1v1h-1zM99 47h1v1h-1zM26 48h1v1h-1zM86 48h1v1h-1zM0 49h1v1h-1zM5 49h1v1h-1zM98 49h1v1h-1zM24 50h1v1h-1zM27 50h1v1h-1zM76 50h1v1h-1zM29 51h1v1h-1zM79 51h1v1h-1zM0 52h1v1h-1zM71 52h1v1h-1zM79 52h1v1h-1zM12 53h1v1h-1zM29 53h1v1h-1zM3 54h1v1h-1zM16 54h1v1h-1zM23 54h1v1h-1zM75 54h1v1h-1zM86 54h2v1h-2zM26 55h1v1h-1zM71 55h1v1h-1zM94 55h1v1h-1zM24 56h1v1h-1zM62 56h1v1h-1zM75 56h1v1h-1zM7 57h1v1h-1zM81 57h1v1h-1zM6 59h1v1h-1zM19 59h2v1h-2zM67 59h1v1h-1zM92 59h1v1h-1zM12 60h1v1h-1zM16 60h1v1h-1zM18 60h1v1h-1zM62 60h1v1h-1zM68 60h2v1h-2zM84 60h1v1h-1zM34 62h1v1h-1zM15 63h1v1h-1zM20 63h1v1h-1zM25 63h1v1h-1zM57 63h1v1h-1zM73 63h1v1h-1zM58 64h1v1h-1zM96 64h2v1h-2zM5 65h1v1h-1zM26 65h1v1h-1zM85 65h1v1h-1zM3 66h1v1h-1zM17 66h1v1h-1zM27 66h1v1h-1zM57 66h1v1h-1zM59 66h1v1h-1zM71 66h1v1h-1zM82 66h1v1h-1zM60 67h1v1h-1zM67 67h1v1h-1zM19 68h1v1h-1zM28 68h1v1h-1zM76 68h1v1h-1zM81 68h1v1h-1zM64 69h1v1h-1zM25 70h1v1h-1zM45 70h1v1h-1zM51 70h1v1h-1zM91 70h1v1h-1zM6 71h2v1h-2zM11 71h1v1h-1zM20 71h1v1h-1zM66 71h1v1h-1zM16 72h1v1h-1zM18 72h1v1h-1zM23 72h1v1h-1zM18 73h2v1h-2zM39 73h1v1h-1zM51 73h1v1h-1zM17 74h1v1h-1zM20 74h1v1h-1zM45 74h1v1h-1zM55 74h1v1h-1zM4 75h2v1h-2zM9 75h1v1h-1zM40 75h1v1h-1zM91 75h1v1h-1zM11 76h1v1h-1zM21 76h1v1h-1zM41 76h3v1h-3zM50 76h1v1h-1zM92 76h1v1h-1zM33 77h1v1h-1zM50 77h1v1h-1zM75 77h1v1h-1zM77 77h1v1h-1zM24 78h1v1h-1zM37 78h1v1h-1zM39 78h1v1h-1zM49 78h1v1h-1zM71 78h1v1h-1zM5 79h1v1h-1zM9 79h2v1h-2zM47 79h1v1h-1zM65 79h1v1h-1zM81 79h1v1h-1zM1 80h1v1h-1zM49 80h1v1h-1zM54 80h1v1h-1zM2 81h1v1h-1zM15 81h1v1h-1zM30 81h1v1h-1zM41 81h1v1h-1zM51 81h2v1h-2zM78 81h1v1h-1zM91 81h1v1h-1zM26 82h1v1h-1zM28 82h1v1h-1zM90 82h1v1h-1zM99 82h1v1h-1zM9 83h1v1h-1zM29 83h1v1h-1zM36 83h1v1h-1zM42 83h1v1h-1zM82 83h1v1h-1zM85 83h1v1h-1zM34 84h1v1h-1zM42 84h2v1h-2zM81 84h1v1h-1zM95 84h1v1h-1zM44 85h1v1h-1zM70 85h1v1h-1zM18 86h1v1h-1zM31 86h1v1h-1zM35 86h1v1h-1zM76 86h1v1h-1zM23 87h1v1h-1zM15 88h1v1h-1zM52 88h1v1h-1zM62 88h1v1h-1zM43 89h1v1h-1zM11 90h1v1h-1zM42 90h1v1h-1zM58 90h1v1h-1zM82 90h1v1h-1zM95 90h1v1h-1zM97 90h1v1h-1zM15 91h1v1h-1zM36 91h1v1h-1zM50 91h2v1h-2zM89 91h1v1h-1zM97 91h1v1h-1zM45 92h1v1h-1zM66 92h1v1h-1zM79 92h1v1h-1zM84 92h1v1h-1zM24 93h1v1h-1zM51 93h1v1h-1zM3 94h2v1h-2zM35 94h1v1h-1zM42 94h2v1h-2zM88 94h1v1h-1zM17 95h1v1h-1zM42 95h1v1h-1zM57 95h1v1h-1zM78 95h1v1h-1zM85 95h1v1h-1zM90 95h1v1h-1zM10 96h1v1h-1zM46 96h1v1h-1zM53 96h1v1h-1zM73 96h1v1h-1zM20 97h1v1h-1zM64 97h1v1h-1zM71 97h1v1h-1zM5 98h2v1h-2zM28 98h1v1h-1zM56 98h1v1h-1zM64 98h1v1h-1zM79 98h1v1h-1zM17 99h1v1h-1zM19 99h1v1h-1zM48 99h1v1h-1zM51 99h1v1h-1zM62 99h1v1h-1zM74 99h1v1h-1z"/><path fill="#637bbc" d="M79 0h1v1h-1zM58 1h1v1h-1zM2 2h1v1h-1zM34 2h1v1h-1zM87 2h1v1h-1zM92 2h1v1h-1zM11 3h1v1h-1zM84 4h1v1h-1zM95 5h1v1h-1zM63 6h1v1h-1zM96 6h1v1h-1zM3 7h1v1h-1zM4 8h1v1h-1zM15 8h1v1h-1zM27 8h1v1h-1zM56 8h1v1h-1zM58 8h1v1h-1zM66 8h1v1h-1zM78 8h1v1h-1zM3 9h1v1h-1zM6 9h1v1h-1zM11 9h1v1h-1zM2 10h1v1h-1zM59 10h1v1h-1zM60 11h1v1h-1zM8 12h1v1h-1zM21 12h1v1h-1zM24 12h1v1h-1zM33 12h1v1h-1zM44 12h1v1h-1zM46 12h1v1h-1zM9 13h1v1h-1zM33 13h1v1h-1zM71 13h1v1h-1zM79 13h2v1h-2zM84 13h1v1h-1zM60 14h1v1h-1zM64 14h1v1h-1zM5 15h1v1h-1zM7 15h1v1h-1zM10 15h1v1h-1zM29 15h1v1h-1zM32 15h1v1h-1zM67 15h1v1h-1zM89 15h1v1h-1zM62 16h1v1h-1zM68 16h1v1h-1zM7 17h1v1h-1zM12 17h1v1h-1zM22 17h1v1h-1zM57 17h1v1h-1zM59 17h1v1h-1zM67 17h1v1h-1zM70 17h1v1h-1zM79 17h1v1h-1zM7 18h1v1h-1zM0 19h1v1h-1zM17 19h1v1h-1zM61 19h1v1h-1zM64 19h1v1h-1zM73 19h1v1h-1zM85 19h1v1h-1zM57 20h1v1h-1zM96 20h1v1h-1zM11 21h1v1h-1zM24 21h1v1h-1zM75 21h1v1h-1zM17 22h1v1h-1zM58 22h1v1h-1zM58 23h1v1h-1zM81 23h1v1h-1zM87 23h1v1h-1zM19 24h1v1h-1zM33 24h1v1h-1zM41 24h1v1h-1zM44 24h1v1h-1zM73 24h1v1h-1zM89 24h2v1h-2zM17 25h1v1h-1zM45 25h1v1h-1zM83 25h1v1h-1zM25 26h1v1h-1zM31 26h1v1h-1zM52 26h1v1h-1zM29 27h1v1h-1zM43 27h1v1h-1zM48 27h1v1h-1zM84 27h1v1h-1zM80 28h1v1h-1zM0 29h1v1h-1zM50 29h1v1h-1zM84 29h1v1h-1zM25 30h1v1h-1zM12 31h2v1h-2zM31 31h2v1h-2zM84 31h1v1h-1zM13 32h1v1h-1zM43 32h1v1h-1zM88 32h1v1h-1zM43 33h1v1h-1zM29 35h1v1h-1zM26 36h1v1h-1zM76 36h1v1h-1zM94 36h1v1h-1zM7 37h1v1h-1zM26 37h1v1h-1zM31 37h1v1h-1zM78 37h1v1h-1zM95 37h1v1h-1zM1 38h1v1h-1zM26 38h1v1h-1zM77 38h1v1h-1zM95 38h1v1h-1zM22 39h1v1h-1zM28 39h1v1h-1zM76 39h1v1h-1zM1 40h1v1h-1zM40 40h1v1h-1zM94 40h1v1h-1zM26 41h1v1h-1zM29 41h1v1h-1zM78 42h1v1h-1zM71 43h1v1h-1zM85 43h1v1h-1zM98 44h2v1h-2zM10 45h1v1h-1zM13 45h1v1h-1zM73 45h2v1h-2zM97 45h1v1h-1zM25 46h1v1h-1zM75 46h1v1h-1zM16 47h1v1h-1zM70 47h1v1h-1zM74 47h1v1h-1zM76 47h2v1h-2zM93 47h1v1h-1zM0 48h1v1h-1zM16 48h1v1h-1zM30 48h1v1h-1zM80 48h1v1h-1zM85 48h1v1h-1zM90 48h1v1h-1zM1 49h1v1h-1zM0 50h1v1h-1zM68 50h1v1h-1zM6 51h1v1h-1zM67 51h1v1h-1zM98 51h1v1h-1zM20 52h1v1h-1zM83 52h1v1h-1zM87 52h1v1h-1zM80 53h1v1h-1zM97 53h1v1h-1zM6 54h1v1h-1zM11 54h1v1h-1zM15 54h1v1h-1zM29 54h1v1h-1zM34 54h2v1h-2zM96 54h1v1h-1zM22 56h1v1h-1zM72 57h1v1h-1zM28 58h1v1h-1zM30 58h1v1h-1zM91 58h1v1h-1zM99 58h1v1h-1zM0 59h1v1h-1zM9 59h1v1h-1zM21 59h1v1h-1zM25 59h1v1h-1zM95 59h1v1h-1zM28 60h1v1h-1zM59 60h1v1h-1zM67 60h1v1h-1zM90 60h1v1h-1zM97 60h1v1h-1zM22 61h1v1h-1zM66 61h1v1h-1zM23 62h1v1h-1zM5 63h1v1h-1zM35 63h1v1h-1zM58 63h1v1h-1zM56 64h1v1h-1zM63 64h1v1h-1zM13 66h1v1h-1zM54 66h1v1h-1zM54 67h1v1h-1zM94 67h1v1h-1zM96 67h1v1h-1zM3 68h1v1h-1zM20 68h1v1h-1zM66 68h1v1h-1zM26 69h1v1h-1zM28 69h1v1h-1zM44 69h1v1h-1zM50 69h1v1h-1zM57 69h1v1h-1zM86 69h1v1h-1zM32 70h1v1h-1zM43 70h1v1h-1zM56 70h1v1h-1zM86 70h1v1h-1zM18 71h1v1h-1zM7 72h1v1h-1zM30 72h1v1h-1zM36 72h1v1h-1zM41 72h1v1h-1zM23 73h1v1h-1zM77 73h1v1h-1zM18 74h1v1h-1zM22 74h1v1h-1zM26 74h1v1h-1zM43 74h1v1h-1zM47 74h3v1h-3zM22 75h1v1h-1zM25 75h1v1h-1zM30 75h1v1h-1zM33 75h1v1h-1zM41 75h1v1h-1zM47 75h1v1h-1zM54 75h1v1h-1zM94 76h1v1h-1zM14 77h1v1h-1zM24 77h1v1h-1zM74 77h1v1h-1zM98 77h1v1h-1zM33 78h1v1h-1zM2 79h1v1h-1zM32 79h1v1h-1zM61 79h1v1h-1zM6 80h1v1h-1zM20 80h1v1h-1zM41 80h1v1h-1zM50 80h1v1h-1zM17 81h1v1h-1zM49 81h1v1h-1zM71 81h1v1h-1zM79 81h1v1h-1zM0 82h1v1h-1zM39 82h1v1h-1zM67 82h1v1h-1zM26 83h1v1h-1zM37 83h1v1h-1zM81 83h1v1h-1zM87 83h1v1h-1zM98 83h1v1h-1zM52 84h1v1h-1zM76 84h1v1h-1zM59 85h1v1h-1zM41 87h1v1h-1zM79 87h1v1h-1zM81 87h1v1h-1zM36 88h1v1h-1zM46 88h1v1h-1zM82 88h1v1h-1zM50 89h1v1h-1zM76 89h2v1h-2zM12 90h1v1h-1zM52 90h1v1h-1zM47 91h1v1h-1zM63 91h1v1h-1zM0 92h1v1h-1zM22 92h1v1h-1zM40 92h1v1h-1zM96 92h1v1h-1zM81 93h1v1h-1zM83 93h1v1h-1zM93 93h1v1h-1zM54 94h1v1h-1zM96 94h2v1h-2zM18 95h1v1h-1zM27 96h1v1h-1zM43 96h1v1h-1zM12 97h1v1h-1zM42 97h1v1h-1zM60 97h1v1h-1zM49 98h1v1h-1zM57 98h1v1h-1zM65 98h2v1h-2zM90 98h1v1h-1zM94 98h1v1h-1zM20 99h1v1h-1zM94 99h1v1h-1z"/><path fill="#6580bd" d="M88 0h1v1h-1zM34 1h1v1h-1zM92 1h1v1h-1zM1 3h1v1h-1zM84 3h1v1h-1zM3 4h1v1h-1zM11 4h1v1h-1zM65 7h1v1h-1zM0 8h1v1h-1zM2 8h1v1h-1zM54 8h1v1h-1zM4 9h1v1h-1zM7 9h1v1h-1zM51 9h1v1h-1zM0 10h1v1h-1zM6 10h1v1h-1zM70 10h1v1h-1zM2 11h1v1h-1zM41 11h1v1h-1zM61 11h1v1h-1zM78 12h1v1h-1zM92 12h1v1h-1zM20 13h1v1h-1zM24 13h1v1h-1zM29 13h1v1h-1zM68 13h1v1h-1zM93 13h1v1h-1zM19 14h1v1h-1zM32 14h2v1h-2zM3 15h1v1h-1zM48 15h1v1h-1zM50 15h1v1h-1zM52 16h1v1h-1zM60 16h1v1h-1zM75 17h1v1h-1zM52 18h1v1h-1zM54 18h1v1h-1zM65 18h1v1h-1zM81 18h1v1h-1zM21 19h1v1h-1zM40 19h1v1h-1zM51 19h1v1h-1zM57 19h1v1h-1zM41 20h1v1h-1zM58 20h1v1h-1zM76 20h1v1h-1zM85 20h1v1h-1zM91 20h1v1h-1zM18 21h1v1h-1zM39 21h1v1h-1zM48 21h1v1h-1zM62 21h1v1h-1zM68 21h1v1h-1zM51 22h1v1h-1zM63 22h1v1h-1zM81 22h2v1h-2zM36 24h1v1h-1zM2 25h1v1h-1zM20 25h1v1h-1zM95 26h1v1h-1zM22 27h1v1h-1zM28 27h1v1h-1zM85 27h1v1h-1zM96 27h1v1h-1zM99 27h1v1h-1zM22 29h1v1h-1zM44 29h1v1h-1zM48 29h1v1h-1zM77 29h1v1h-1zM86 29h1v1h-1zM82 30h1v1h-1zM46 31h1v1h-1zM83 31h1v1h-1zM87 31h1v1h-1zM79 32h1v1h-1zM82 32h1v1h-1zM94 32h1v1h-1zM35 33h1v1h-1zM46 33h1v1h-1zM24 34h1v1h-1zM34 34h1v1h-1zM39 34h1v1h-1zM43 34h1v1h-1zM84 34h1v1h-1zM28 35h1v1h-1zM81 35h1v1h-1zM81 36h1v1h-1zM13 37h1v1h-1zM41 37h1v1h-1zM78 38h1v1h-1zM84 38h1v1h-1zM92 38h1v1h-1zM35 39h1v1h-1zM80 39h1v1h-1zM34 40h1v1h-1zM77 40h1v1h-1zM86 40h2v1h-2zM31 41h2v1h-2zM78 41h1v1h-1zM39 42h1v1h-1zM32 43h1v1h-1zM61 43h1v1h-1zM72 43h1v1h-1zM23 45h1v1h-1zM31 45h1v1h-1zM35 45h1v1h-1zM37 45h1v1h-1zM84 47h1v1h-1zM96 47h2v1h-2zM29 49h1v1h-1zM79 49h2v1h-2zM82 49h1v1h-1zM29 50h1v1h-1zM23 52h1v1h-1zM25 52h1v1h-1zM69 52h1v1h-1zM72 52h1v1h-1zM98 52h1v1h-1zM83 53h1v1h-1zM96 53h1v1h-1zM82 54h1v1h-1zM92 54h1v1h-1zM97 54h1v1h-1zM4 55h1v1h-1zM69 55h1v1h-1zM95 55h1v1h-1zM21 57h1v1h-1zM24 57h1v1h-1zM23 58h1v1h-1zM58 58h1v1h-1zM82 58h1v1h-1zM59 59h1v1h-1zM60 60h1v1h-1zM66 60h1v1h-1zM70 60h1v1h-1zM74 60h1v1h-1zM9 61h1v1h-1zM25 61h1v1h-1zM59 61h1v1h-1zM63 61h1v1h-1zM32 62h1v1h-1zM74 62h1v1h-1zM21 63h1v1h-1zM21 64h1v1h-1zM27 64h1v1h-1zM54 64h1v1h-1zM74 64h1v1h-1zM4 65h1v1h-1zM27 65h1v1h-1zM54 65h2v1h-2zM94 65h1v1h-1zM24 66h1v1h-1zM38 66h1v1h-1zM58 66h1v1h-1zM34 67h1v1h-1zM64 67h1v1h-1zM73 67h1v1h-1zM9 68h1v1h-1zM52 68h1v1h-1zM16 69h1v1h-1zM61 69h1v1h-1zM16 70h1v1h-1zM21 70h1v1h-1zM24 70h1v1h-1zM12 71h1v1h-1zM26 71h1v1h-1zM36 71h1v1h-1zM45 71h1v1h-1zM45 72h1v1h-1zM25 73h1v1h-1zM45 73h1v1h-1zM29 74h1v1h-1zM32 74h1v1h-1zM40 74h1v1h-1zM53 75h1v1h-1zM34 76h1v1h-1zM59 76h1v1h-1zM64 76h1v1h-1zM70 77h1v1h-1zM3 78h1v1h-1zM14 78h1v1h-1zM25 78h1v1h-1zM41 78h1v1h-1zM43 78h1v1h-1zM45 78h1v1h-1zM67 78h1v1h-1zM75 78h1v1h-1zM44 79h1v1h-1zM49 79h2v1h-2zM52 79h1v1h-1zM73 79h1v1h-1zM14 80h1v1h-1zM34 80h1v1h-1zM40 80h1v1h-1zM68 80h1v1h-1zM93 80h1v1h-1zM6 81h1v1h-1zM64 81h1v1h-1zM24 82h1v1h-1zM29 82h1v1h-1zM42 82h1v1h-1zM49 82h2v1h-2zM38 83h1v1h-1zM46 83h2v1h-2zM71 83h1v1h-1zM74 83h1v1h-1zM26 84h1v1h-1zM51 84h1v1h-1zM84 84h1v1h-1zM84 85h1v1h-1zM32 86h1v1h-1zM16 87h2v1h-2zM27 87h1v1h-1zM76 88h1v1h-1zM51 89h1v1h-1zM21 90h1v1h-1zM51 90h1v1h-1zM82 91h1v1h-1zM2 92h1v1h-1zM52 92h1v1h-1zM62 92h2v1h-2zM73 92h1v1h-1zM2 93h1v1h-1zM21 93h1v1h-1zM37 93h1v1h-1zM75 93h1v1h-1zM24 94h1v1h-1zM81 94h1v1h-1zM99 94h1v1h-1zM19 95h1v1h-1zM79 95h1v1h-1zM82 95h1v1h-1zM16 96h1v1h-1zM59 96h1v1h-1zM67 96h1v1h-1zM77 96h1v1h-1zM92 97h1v1h-1zM44 98h1v1h-1zM95 98h1v1h-1z"/><path fill="#6276ba" d="M93 0h1v1h-1zM86 1h2v1h-2zM91 1h1v1h-1zM95 1h1v1h-1zM61 2h1v1h-1zM84 2h1v1h-1zM91 2h1v1h-1zM94 2h1v1h-1zM29 3h1v1h-1zM85 3h1v1h-1zM10 4h1v1h-1zM12 4h1v1h-1zM25 7h1v1h-1zM77 7h1v1h-1zM91 7h1v1h-1zM1 8h1v1h-1zM5 9h1v1h-1zM28 9h1v1h-1zM66 9h1v1h-1zM84 9h1v1h-1zM34 10h1v1h-1zM42 10h1v1h-1zM45 10h1v1h-1zM97 11h1v1h-1zM34 12h1v1h-1zM43 12h1v1h-1zM45 12h1v1h-1zM47 12h1v1h-1zM60 12h1v1h-1zM76 12h1v1h-1zM21 13h1v1h-1zM26 13h1v1h-1zM69 13h1v1h-1zM29 14h1v1h-1zM31 14h1v1h-1zM75 14h1v1h-1zM4 15h1v1h-1zM13 15h1v1h-1zM41 15h1v1h-1zM46 15h1v1h-1zM64 15h1v1h-1zM86 15h1v1h-1zM14 16h1v1h-1zM37 16h1v1h-1zM53 16h1v1h-1zM9 17h1v1h-1zM60 17h1v1h-1zM81 17h1v1h-1zM3 18h1v1h-1zM16 18h1v1h-1zM18 18h1v1h-1zM26 18h1v1h-1zM68 18h1v1h-1zM71 18h1v1h-1zM75 18h1v1h-1zM92 18h1v1h-1zM14 19h1v1h-1zM24 19h1v1h-1zM53 19h1v1h-1zM67 19h1v1h-1zM84 19h1v1h-1zM92 19h1v1h-1zM60 20h1v1h-1zM64 20h1v1h-1zM72 20h1v1h-1zM0 21h1v1h-1zM59 22h1v1h-1zM71 22h1v1h-1zM80 22h1v1h-1zM87 22h1v1h-1zM15 23h1v1h-1zM29 23h1v1h-1zM35 23h1v1h-1zM75 23h1v1h-1zM83 23h1v1h-1zM28 24h1v1h-1zM42 24h1v1h-1zM77 24h1v1h-1zM83 24h1v1h-1zM85 24h1v1h-1zM88 24h1v1h-1zM94 24h1v1h-1zM25 25h1v1h-1zM51 25h1v1h-1zM97 25h1v1h-1zM26 26h1v1h-1zM79 26h1v1h-1zM53 27h1v1h-1zM88 27h1v1h-1zM45 28h2v1h-2zM84 28h2v1h-2zM35 29h1v1h-1zM79 29h1v1h-1zM97 29h1v1h-1zM12 30h1v1h-1zM33 30h3v1h-3zM45 30h1v1h-1zM95 30h1v1h-1zM79 31h1v1h-1zM93 31h1v1h-1zM12 32h1v1h-1zM14 32h1v1h-1zM27 32h1v1h-1zM12 33h1v1h-1zM19 33h1v1h-1zM40 33h1v1h-1zM31 34h1v1h-1zM42 34h1v1h-1zM92 34h2v1h-2zM44 35h1v1h-1zM78 35h1v1h-1zM34 36h1v1h-1zM33 38h1v1h-1zM80 38h1v1h-1zM90 38h1v1h-1zM36 39h1v1h-1zM95 39h1v1h-1zM35 40h1v1h-1zM28 41h1v1h-1zM40 41h1v1h-1zM86 41h1v1h-1zM21 42h1v1h-1zM23 43h1v1h-1zM82 43h1v1h-1zM28 44h1v1h-1zM31 44h1v1h-1zM73 44h1v1h-1zM72 45h1v1h-1zM75 45h1v1h-1zM35 46h1v1h-1zM25 47h1v1h-1zM79 47h2v1h-2zM81 48h1v1h-1zM94 48h1v1h-1zM73 49h1v1h-1zM87 50h1v1h-1zM5 51h1v1h-1zM22 51h1v1h-1zM12 52h1v1h-1zM73 52h2v1h-2zM84 52h1v1h-1zM3 53h1v1h-1zM6 53h1v1h-1zM11 53h1v1h-1zM91 53h1v1h-1zM27 54h1v1h-1zM86 55h1v1h-1zM87 56h1v1h-1zM2 57h1v1h-1zM8 58h2v1h-2zM14 58h1v1h-1zM31 58h2v1h-2zM23 59h2v1h-2zM65 59h1v1h-1zM10 60h1v1h-1zM23 60h1v1h-1zM26 60h2v1h-2zM73 60h1v1h-1zM2 61h1v1h-1zM11 61h1v1h-1zM20 61h1v1h-1zM23 61h1v1h-1zM74 61h1v1h-1zM98 61h1v1h-1zM0 63h1v1h-1zM13 63h1v1h-1zM23 63h1v1h-1zM5 64h1v1h-1zM59 64h1v1h-1zM21 65h1v1h-1zM73 65h1v1h-1zM4 66h1v1h-1zM21 66h1v1h-1zM32 66h1v1h-1zM55 66h1v1h-1zM22 67h1v1h-1zM23 68h1v1h-1zM48 68h1v1h-1zM23 69h1v1h-1zM56 69h1v1h-1zM84 69h1v1h-1zM60 70h2v1h-2zM44 71h1v1h-1zM91 71h1v1h-1zM63 72h1v1h-1zM68 72h1v1h-1zM15 73h3v1h-3zM20 73h2v1h-2zM33 73h2v1h-2zM37 73h1v1h-1zM59 73h1v1h-1zM99 73h1v1h-1zM39 74h1v1h-1zM42 74h1v1h-1zM77 74h1v1h-1zM43 75h1v1h-1zM49 75h1v1h-1zM60 75h1v1h-1zM64 75h1v1h-1zM60 76h1v1h-1zM76 76h1v1h-1zM26 77h1v1h-1zM28 77h1v1h-1zM62 77h1v1h-1zM64 77h1v1h-1zM99 77h1v1h-1zM9 78h1v1h-1zM55 78h1v1h-1zM64 78h1v1h-1zM11 79h1v1h-1zM71 79h1v1h-1zM8 80h1v1h-1zM94 80h1v1h-1zM7 81h1v1h-1zM9 81h1v1h-1zM24 81h1v1h-1zM42 81h1v1h-1zM93 81h2v1h-2zM99 81h1v1h-1zM8 82h2v1h-2zM16 82h1v1h-1zM25 82h1v1h-1zM36 82h1v1h-1zM51 82h1v1h-1zM54 82h1v1h-1zM65 82h1v1h-1zM84 83h1v1h-1zM30 84h1v1h-1zM33 84h1v1h-1zM78 84h1v1h-1zM78 85h2v1h-2zM12 86h1v1h-1zM14 86h1v1h-1zM56 86h1v1h-1zM53 87h1v1h-1zM58 87h1v1h-1zM96 87h2v1h-2zM27 88h2v1h-2zM12 89h1v1h-1zM42 89h1v1h-1zM49 89h1v1h-1zM84 90h1v1h-1zM91 90h1v1h-1zM44 91h1v1h-1zM79 91h1v1h-1zM88 91h1v1h-1zM5 92h1v1h-1zM17 92h1v1h-1zM21 92h1v1h-1zM64 92h2v1h-2zM72 92h1v1h-1zM98 92h1v1h-1zM99 93h1v1h-1zM1 94h1v1h-1zM17 94h1v1h-1zM16 95h1v1h-1zM20 95h1v1h-1zM15 96h1v1h-1zM31 96h1v1h-1zM54 96h1v1h-1zM96 96h1v1h-1zM98 96h1v1h-1zM29 97h1v1h-1zM45 97h1v1h-1zM49 97h1v1h-1zM54 97h1v1h-1zM91 97h1v1h-1zM18 99h1v1h-1z"/><path fill="#351140" d="M98 0h1v1h-1zM23 1h1v1h-1zM13 2h1v1h-1zM50 3h1v1h-1zM77 3h1v1h-1zM34 4h2v1h-2zM66 4h1v1h-1zM77 4h1v1h-1zM39 6h1v1h-1zM42 7h1v1h-1zM18 8h1v1h-1zM40 8h1v1h-1zM2 14h1v1h-1zM96 24h1v1h-1zM98 31h1v1h-1zM98 33h1v1h-1zM11 42h1v1h-1zM95 44h1v1h-1zM16 45h1v1h-1zM4 46h1v1h-1zM12 47h2v1h-2zM22 48h1v1h-1zM96 49h1v1h-1zM88 58h1v1h-1zM88 59h1v1h-1zM87 63h1v1h-1zM92 63h1v1h-1zM82 72h1v1h-1zM96 73h1v1h-1zM4 76h1v1h-1zM3 84h1v1h-1zM14 84h1v1h-1zM66 84h1v1h-1zM57 85h1v1h-1zM9 89h1v1h-1zM44 89h1v1h-1zM7 90h1v1h-1zM57 91h1v1h-1zM8 94h1v1h-1zM8 97h1v1h-1zM2 98h1v1h-1zM8 98h1v1h-1z"/><path fill="#7aa0c2" d="M3 1h1v1h-1zM16 5h1v1h-1zM95 6h1v1h-1zM7 7h1v1h-1zM45 7h1v1h-1zM0 9h1v1h-1zM3 10h1v1h-1zM97 10h2v1h-2zM56 11h1v1h-1zM31 13h1v1h-1zM56 15h1v1h-1zM51 17h1v1h-1zM61 17h1v1h-1zM14 18h1v1h-1zM17 18h1v1h-1zM74 18h1v1h-1zM15 19h1v1h-1zM59 19h1v1h-1zM76 19h1v1h-1zM31 20h1v1h-1zM49 20h2v1h-2zM55 20h1v1h-1zM61 20h1v1h-1zM30 21h1v1h-1zM60 21h1v1h-1zM38 22h1v1h-1zM50 22h1v1h-1zM53 22h1v1h-1zM78 22h1v1h-1zM62 23h1v1h-1zM78 23h1v1h-1zM60 24h1v1h-1zM82 24h1v1h-1zM55 25h1v1h-1zM77 26h1v1h-1zM59 27h1v1h-1zM51 28h1v1h-1zM56 28h1v1h-1zM79 28h1v1h-1zM56 29h1v1h-1zM49 30h2v1h-2zM53 30h1v1h-1zM56 30h1v1h-1zM74 30h1v1h-1zM87 30h1v1h-1zM72 32h1v1h-1zM78 32h1v1h-1zM47 33h1v1h-1zM77 33h1v1h-1zM35 34h1v1h-1zM77 34h1v1h-1zM75 36h1v1h-1zM48 37h1v1h-1zM75 37h1v1h-1zM83 38h1v1h-1zM1 39h1v1h-1zM38 40h1v1h-1zM84 41h1v1h-1zM77 42h1v1h-1zM23 44h1v1h-1zM32 45h1v1h-1zM37 46h1v1h-1zM85 46h1v1h-1zM93 46h1v1h-1zM71 47h2v1h-2zM70 48h1v1h-1zM72 50h1v1h-1zM73 51h3v1h-3zM22 52h1v1h-1zM96 52h1v1h-1zM25 53h2v1h-2zM36 53h1v1h-1zM11 55h1v1h-1zM30 55h1v1h-1zM25 56h1v1h-1zM66 56h1v1h-1zM99 56h1v1h-1zM23 57h1v1h-1zM27 57h1v1h-1zM60 57h1v1h-1zM62 57h1v1h-1zM98 57h1v1h-1zM0 58h1v1h-1zM72 58h1v1h-1zM58 59h1v1h-1zM58 61h1v1h-1zM35 62h1v1h-1zM60 62h1v1h-1zM90 63h1v1h-1zM0 64h1v1h-1zM31 65h1v1h-1zM48 65h1v1h-1zM51 65h1v1h-1zM53 65h1v1h-1zM52 66h1v1h-1zM36 67h1v1h-1zM48 67h1v1h-1zM95 67h1v1h-1zM31 69h1v1h-1zM45 69h1v1h-1zM53 70h1v1h-1zM38 72h1v1h-1zM40 72h1v1h-1zM27 73h1v1h-1zM30 73h1v1h-1zM38 73h1v1h-1zM38 74h1v1h-1zM37 75h1v1h-1zM26 76h1v1h-1zM33 76h1v1h-1zM39 77h1v1h-1zM33 79h1v1h-1zM38 79h1v1h-1zM24 80h1v1h-1zM42 80h1v1h-1zM22 82h1v1h-1zM86 83h1v1h-1zM27 85h1v1h-1zM37 87h1v1h-1zM64 90h1v1h-1zM59 93h1v1h-1zM98 95h1v1h-1zM41 96h2v1h-2zM60 96h1v1h-1zM66 96h1v1h-1zM97 96h1v1h-1zM53 97h1v1h-1zM85 97h1v1h-1zM48 98h1v1h-1zM87 98h1v1h-1zM15 99h1v1h-1zM47 99h1v1h-1z"/><path fill="#401253" d="M28 1h1v1h-1zM12 2h1v1h-1zM90 2h1v1h-1zM35 3h1v1h-1zM64 3h1v1h-1zM62 4h1v1h-1zM95 4h1v1h-1zM7 5h1v1h-1zM36 5h1v1h-1zM43 6h1v1h-1zM30 7h1v1h-1zM35 7h1v1h-1zM40 7h1v1h-1zM74 7h1v1h-1zM87 7h1v1h-1zM93 7h1v1h-1zM80 9h1v1h-1zM65 10h1v1h-1zM77 10h1v1h-1zM33 11h1v1h-1zM35 11h1v1h-1zM74 11h1v1h-1zM90 12h1v1h-1zM50 13h1v1h-1zM17 14h1v1h-1zM0 15h1v1h-1zM96 15h1v1h-1zM16 16h1v1h-1zM87 16h1v1h-1zM2 17h1v1h-1zM27 21h1v1h-1zM21 24h1v1h-1zM94 27h1v1h-1zM9 28h1v1h-1zM90 29h1v1h-1zM0 33h1v1h-1zM6 35h1v1h-1zM5 36h1v1h-1zM9 36h1v1h-1zM10 38h1v1h-1zM14 39h1v1h-1zM61 41h1v1h-1zM96 45h1v1h-1zM23 47h1v1h-1zM1 54h1v1h-1zM8 56h1v1h-1zM12 57h1v1h-1zM85 58h1v1h-1zM88 60h1v1h-1zM85 62h1v1h-1zM7 63h1v1h-1zM90 67h1v1h-1zM10 69h1v1h-1zM98 69h1v1h-1zM10 70h1v1h-1zM80 71h1v1h-1zM82 71h1v1h-1zM94 71h1v1h-1zM96 71h1v1h-1zM60 72h1v1h-1zM3 73h1v1h-1zM13 73h2v1h-2zM87 77h1v1h-1zM84 78h2v1h-2zM60 82h1v1h-1zM8 83h1v1h-1zM46 86h1v1h-1zM88 86h1v1h-1zM5 87h1v1h-1zM9 87h1v1h-1zM93 87h1v1h-1zM39 88h1v1h-1zM39 89h1v1h-1zM55 89h1v1h-1zM61 89h1v1h-1zM73 89h1v1h-1zM17 90h1v1h-1zM27 91h1v1h-1zM31 91h1v1h-1zM68 93h1v1h-1zM9 96h1v1h-1zM33 97h1v1h-1zM43 98h1v1h-1zM99 98h1v1h-1zM42 99h1v1h-1zM54 99h1v1h-1z"/><path fill="#7196c1" d="M3 2h1v1h-1zM5 2h1v1h-1zM65 6h1v1h-1zM58 7h1v1h-1zM5 10h1v1h-1zM46 11h1v1h-1zM94 11h3v1h-3zM85 13h1v1h-1zM96 13h1v1h-1zM66 14h1v1h-1zM71 15h1v1h-1zM28 16h1v1h-1zM14 17h1v1h-1zM44 17h1v1h-1zM63 17h1v1h-1zM44 18h1v1h-1zM49 18h1v1h-1zM53 18h1v1h-1zM56 18h1v1h-1zM64 18h1v1h-1zM66 18h1v1h-1zM26 19h1v1h-1zM77 19h1v1h-1zM81 19h1v1h-1zM52 20h2v1h-2zM78 20h1v1h-1zM25 21h1v1h-1zM22 22h1v1h-1zM25 22h1v1h-1zM49 22h1v1h-1zM76 22h1v1h-1zM69 23h2v1h-2zM76 23h1v1h-1zM82 23h1v1h-1zM84 24h1v1h-1zM39 25h1v1h-1zM44 25h1v1h-1zM32 26h1v1h-1zM49 26h2v1h-2zM60 26h1v1h-1zM81 27h1v1h-1zM22 28h1v1h-1zM52 28h1v1h-1zM78 28h1v1h-1zM85 30h1v1h-1zM43 31h1v1h-1zM53 31h1v1h-1zM85 31h1v1h-1zM2 32h1v1h-1zM80 32h1v1h-1zM79 34h1v1h-1zM19 35h1v1h-1zM43 35h1v1h-1zM77 35h1v1h-1zM24 36h1v1h-1zM32 38h1v1h-1zM73 39h2v1h-2zM93 39h1v1h-1zM39 40h1v1h-1zM41 40h1v1h-1zM77 41h1v1h-1zM22 43h1v1h-1zM33 43h1v1h-1zM77 43h1v1h-1zM33 45h1v1h-1zM72 46h2v1h-2zM80 46h1v1h-1zM84 46h1v1h-1zM81 47h1v1h-1zM71 48h1v1h-1zM75 48h1v1h-1zM33 49h2v1h-2zM80 50h1v1h-1zM77 51h1v1h-1zM7 52h1v1h-1zM35 52h1v1h-1zM68 52h1v1h-1zM70 52h1v1h-1zM26 54h1v1h-1zM28 54h1v1h-1zM31 54h1v1h-1zM32 55h2v1h-2zM61 56h1v1h-1zM68 56h1v1h-1zM22 57h1v1h-1zM80 57h1v1h-1zM27 58h1v1h-1zM65 58h1v1h-1zM77 58h1v1h-1zM33 59h1v1h-1zM60 59h1v1h-1zM72 59h1v1h-1zM25 60h1v1h-1zM55 60h1v1h-1zM65 60h1v1h-1zM57 61h1v1h-1zM62 61h1v1h-1zM28 62h1v1h-1zM61 62h1v1h-1zM54 63h1v1h-1zM25 64h1v1h-1zM36 65h1v1h-1zM31 66h1v1h-1zM64 66h1v1h-1zM38 67h1v1h-1zM55 67h1v1h-1zM32 68h1v1h-1zM60 68h1v1h-1zM27 69h1v1h-1zM29 69h1v1h-1zM85 69h1v1h-1zM85 70h1v1h-1zM43 71h1v1h-1zM65 71h1v1h-1zM33 72h1v1h-1zM31 73h1v1h-1zM19 74h1v1h-1zM36 74h1v1h-1zM35 75h2v1h-2zM13 78h1v1h-1zM21 78h1v1h-1zM28 78h2v1h-2zM31 78h1v1h-1zM38 78h1v1h-1zM51 79h1v1h-1zM74 79h1v1h-1zM51 80h2v1h-2zM65 80h1v1h-1zM32 84h1v1h-1zM34 85h1v1h-1zM62 87h1v1h-1zM78 87h1v1h-1zM52 89h1v1h-1zM59 89h1v1h-1zM36 92h1v1h-1zM42 92h1v1h-1zM36 93h1v1h-1zM97 93h2v1h-2zM1 95h1v1h-1zM66 95h1v1h-1z"/><path fill="#7fa5c3" d="M4 2h1v1h-1zM64 6h1v1h-1zM6 7h1v1h-1zM60 9h1v1h-1zM57 14h1v1h-1zM11 15h1v1h-1zM61 15h1v1h-1zM45 17h1v1h-1zM49 17h1v1h-1zM66 17h1v1h-1zM58 18h1v1h-1zM58 19h1v1h-1zM87 19h1v1h-1zM93 19h1v1h-1zM40 20h1v1h-1zM81 20h1v1h-1zM55 21h1v1h-1zM57 21h1v1h-1zM67 21h1v1h-1zM24 22h1v1h-1zM73 22h1v1h-1zM34 23h1v1h-1zM37 23h1v1h-1zM65 24h1v1h-1zM58 25h1v1h-1zM78 25h1v1h-1zM80 25h1v1h-1zM50 27h1v1h-1zM78 27h1v1h-1zM50 28h1v1h-1zM54 28h2v1h-2zM29 29h1v1h-1zM74 29h1v1h-1zM44 30h1v1h-1zM33 31h1v1h-1zM49 33h1v1h-1zM45 34h1v1h-1zM50 34h1v1h-1zM42 35h1v1h-1zM76 35h1v1h-1zM84 35h1v1h-1zM44 36h1v1h-1zM43 37h1v1h-1zM34 39h1v1h-1zM40 39h1v1h-1zM84 39h1v1h-1zM73 40h1v1h-1zM85 40h1v1h-1zM30 41h1v1h-1zM38 42h1v1h-1zM44 42h1v1h-1zM19 45h1v1h-1zM39 45h1v1h-1zM40 46h1v1h-1zM35 47h1v1h-1zM29 48h1v1h-1zM76 48h1v1h-1zM77 50h1v1h-1zM64 53h1v1h-1zM63 57h1v1h-1zM65 57h1v1h-1zM77 57h1v1h-1zM99 57h1v1h-1zM33 61h1v1h-1zM56 61h1v1h-1zM64 61h1v1h-1zM53 62h1v1h-1zM73 62h1v1h-1zM30 64h1v1h-1zM36 64h1v1h-1zM42 65h1v1h-1zM52 65h1v1h-1zM63 66h1v1h-1zM95 66h1v1h-1zM30 67h1v1h-1zM50 67h1v1h-1zM53 67h1v1h-1zM33 68h1v1h-1zM36 69h1v1h-1zM39 69h2v1h-2zM27 70h1v1h-1zM31 70h1v1h-1zM28 71h2v1h-2zM46 73h1v1h-1zM32 75h1v1h-1zM37 76h1v1h-1zM30 78h1v1h-1zM39 79h1v1h-1zM96 91h1v1h-1zM83 92h1v1h-1zM78 93h1v1h-1zM82 93h1v1h-1zM2 94h1v1h-1zM63 94h1v1h-1zM76 95h1v1h-1zM62 96h1v1h-1zM65 96h1v1h-1z"/><path fill="#6e91c0" d="M0 3h1v1h-1zM5 3h1v1h-1zM46 7h1v1h-1zM7 8h1v1h-1zM28 8h1v1h-1zM1 10h1v1h-1zM56 10h1v1h-1zM60 10h1v1h-1zM25 12h1v1h-1zM54 12h1v1h-1zM94 12h1v1h-1zM97 12h1v1h-1zM98 13h1v1h-1zM65 14h1v1h-1zM87 14h1v1h-1zM24 15h1v1h-1zM60 15h1v1h-1zM76 15h1v1h-1zM43 16h1v1h-1zM51 16h1v1h-1zM74 16h1v1h-1zM11 17h1v1h-1zM65 17h1v1h-1zM69 17h1v1h-1zM74 17h1v1h-1zM46 18h1v1h-1zM50 18h1v1h-1zM57 18h1v1h-1zM60 18h1v1h-1zM12 19h1v1h-1zM55 19h1v1h-1zM16 20h2v1h-2zM24 20h1v1h-1zM22 21h2v1h-2zM43 21h1v1h-1zM50 21h1v1h-1zM61 21h1v1h-1zM65 21h2v1h-2zM81 21h1v1h-1zM30 22h1v1h-1zM52 22h1v1h-1zM55 22h1v1h-1zM77 22h1v1h-1zM24 23h1v1h-1zM43 23h1v1h-1zM77 23h1v1h-1zM24 24h1v1h-1zM53 24h1v1h-1zM74 24h1v1h-1zM76 24h1v1h-1zM80 24h2v1h-2zM28 25h1v1h-1zM73 25h1v1h-1zM39 26h1v1h-1zM41 26h1v1h-1zM47 26h1v1h-1zM49 27h1v1h-1zM52 27h1v1h-1zM79 27h1v1h-1zM53 28h1v1h-1zM31 29h1v1h-1zM43 29h1v1h-1zM78 29h1v1h-1zM29 30h1v1h-1zM77 30h1v1h-1zM20 31h1v1h-1zM36 31h1v1h-1zM45 31h1v1h-1zM17 32h1v1h-1zM46 32h1v1h-1zM77 32h1v1h-1zM89 32h1v1h-1zM38 33h1v1h-1zM41 33h1v1h-1zM38 34h1v1h-1zM40 34h1v1h-1zM47 34h1v1h-1zM34 35h1v1h-1zM41 35h1v1h-1zM40 36h1v1h-1zM93 36h1v1h-1zM79 37h1v1h-1zM99 37h1v1h-1zM38 39h1v1h-1zM92 39h1v1h-1zM26 40h1v1h-1zM27 41h1v1h-1zM37 41h1v1h-1zM87 41h1v1h-1zM30 42h1v1h-1zM37 42h1v1h-1zM21 43h1v1h-1zM76 43h1v1h-1zM71 44h1v1h-1zM97 44h1v1h-1zM37 47h1v1h-1zM85 47h1v1h-1zM8 48h1v1h-1zM74 49h1v1h-1zM7 51h1v1h-1zM34 51h1v1h-1zM97 51h1v1h-1zM36 52h1v1h-1zM7 54h1v1h-1zM83 54h1v1h-1zM68 55h1v1h-1zM29 58h1v1h-1zM98 58h1v1h-1zM22 59h1v1h-1zM73 59h1v1h-1zM2 60h1v1h-1zM62 62h1v1h-1zM72 62h1v1h-1zM36 63h1v1h-1zM82 64h1v1h-1zM28 65h1v1h-1zM84 65h1v1h-1zM30 66h1v1h-1zM0 67h1v1h-1zM32 67h1v1h-1zM56 67h1v1h-1zM71 67h1v1h-1zM56 68h1v1h-1zM22 69h1v1h-1zM37 69h1v1h-1zM52 69h2v1h-2zM65 70h1v1h-1zM30 71h1v1h-1zM32 71h1v1h-1zM53 71h1v1h-1zM7 73h1v1h-1zM33 74h2v1h-2zM37 74h1v1h-1zM28 76h1v1h-1zM32 76h1v1h-1zM63 76h1v1h-1zM66 76h1v1h-1zM32 77h1v1h-1zM38 77h1v1h-1zM79 77h1v1h-1zM80 78h1v1h-1zM41 79h1v1h-1zM11 80h1v1h-1zM39 80h1v1h-1zM1 81h1v1h-1zM5 81h1v1h-1zM8 81h1v1h-1zM14 81h1v1h-1zM21 82h1v1h-1zM91 82h1v1h-1zM21 83h1v1h-1zM50 83h1v1h-1zM55 84h1v1h-1zM28 86h1v1h-1zM97 88h1v1h-1zM2 89h1v1h-1zM41 91h1v1h-1zM87 92h1v1h-1zM58 93h1v1h-1zM36 94h1v1h-1zM98 94h1v1h-1zM27 95h1v1h-1zM54 95h1v1h-1zM56 95h1v1h-1zM75 95h1v1h-1zM45 96h1v1h-1zM51 96h2v1h-2zM48 97h1v1h-1zM12 98h1v1h-1zM30 98h1v1h-1zM25 99h1v1h-1zM59 99h1v1h-1z"/><path fill="#6786be" d="M61 3h1v1h-1zM82 5h1v1h-1zM19 6h1v1h-1zM26 6h2v1h-2zM2 7h1v1h-1zM44 7h1v1h-1zM54 9h2v1h-2zM4 10h1v1h-1zM52 10h1v1h-1zM44 11h1v1h-1zM30 12h1v1h-1zM86 12h2v1h-2zM95 12h1v1h-1zM94 13h1v1h-1zM11 14h1v1h-1zM53 14h1v1h-1zM67 14h1v1h-1zM82 14h1v1h-1zM14 15h1v1h-1zM59 15h1v1h-1zM68 15h1v1h-1zM75 15h1v1h-1zM85 15h1v1h-1zM48 16h2v1h-2zM61 16h1v1h-1zM69 16h1v1h-1zM48 17h1v1h-1zM56 17h1v1h-1zM80 17h1v1h-1zM11 18h1v1h-1zM15 18h1v1h-1zM16 19h1v1h-1zM29 19h2v1h-2zM50 19h1v1h-1zM52 19h1v1h-1zM74 19h1v1h-1zM21 20h1v1h-1zM86 20h1v1h-1zM16 21h2v1h-2zM83 21h1v1h-1zM47 22h1v1h-1zM72 22h1v1h-1zM79 22h1v1h-1zM39 23h1v1h-1zM75 24h1v1h-1zM22 25h1v1h-1zM38 25h1v1h-1zM84 25h1v1h-1zM40 26h1v1h-1zM43 26h1v1h-1zM51 26h1v1h-1zM78 26h1v1h-1zM96 26h1v1h-1zM42 27h1v1h-1zM55 27h1v1h-1zM80 27h1v1h-1zM36 28h1v1h-1zM96 28h1v1h-1zM37 29h1v1h-1zM40 29h1v1h-1zM47 30h2v1h-2zM78 30h1v1h-1zM93 30h1v1h-1zM47 31h1v1h-1zM81 32h1v1h-1zM45 33h1v1h-1zM79 33h1v1h-1zM81 33h1v1h-1zM14 34h1v1h-1zM41 34h1v1h-1zM75 34h1v1h-1zM46 35h1v1h-1zM40 37h1v1h-1zM83 37h1v1h-1zM94 37h1v1h-1zM14 38h2v1h-2zM34 38h1v1h-1zM76 38h1v1h-1zM23 39h1v1h-1zM79 39h1v1h-1zM27 40h1v1h-1zM4 41h1v1h-1zM85 41h1v1h-1zM25 42h1v1h-1zM78 43h2v1h-2zM82 44h1v1h-1zM28 45h1v1h-1zM77 45h1v1h-1zM97 46h1v1h-1zM83 47h1v1h-1zM89 47h1v1h-1zM27 49h1v1h-1zM30 49h2v1h-2zM94 49h1v1h-1zM67 50h1v1h-1zM69 50h1v1h-1zM98 50h1v1h-1zM30 52h1v1h-1zM77 52h1v1h-1zM31 53h1v1h-1zM74 53h1v1h-1zM82 53h1v1h-1zM8 54h1v1h-1zM32 54h1v1h-1zM78 54h1v1h-1zM3 55h1v1h-1zM24 55h1v1h-1zM61 57h1v1h-1zM22 58h1v1h-1zM59 58h1v1h-1zM64 59h1v1h-1zM98 59h1v1h-1zM9 60h1v1h-1zM21 60h1v1h-1zM63 60h1v1h-1zM98 60h1v1h-1zM99 61h1v1h-1zM6 62h1v1h-1zM30 62h1v1h-1zM61 63h1v1h-1zM66 63h1v1h-1zM4 64h1v1h-1zM13 64h1v1h-1zM57 64h1v1h-1zM20 65h1v1h-1zM93 65h1v1h-1zM14 66h1v1h-1zM22 66h1v1h-1zM53 66h1v1h-1zM26 67h1v1h-1zM35 67h1v1h-1zM37 67h1v1h-1zM52 67h1v1h-1zM57 67h1v1h-1zM37 68h1v1h-1zM51 68h1v1h-1zM55 68h1v1h-1zM65 69h1v1h-1zM77 69h1v1h-1zM17 70h1v1h-1zM19 70h1v1h-1zM22 70h1v1h-1zM50 70h1v1h-1zM54 70h2v1h-2zM46 71h1v1h-1zM25 72h1v1h-1zM29 72h1v1h-1zM39 72h1v1h-1zM32 73h1v1h-1zM35 73h1v1h-1zM42 73h2v1h-2zM41 74h1v1h-1zM51 75h1v1h-1zM92 75h1v1h-1zM29 76h1v1h-1zM19 77h1v1h-1zM37 77h1v1h-1zM67 77h1v1h-1zM30 79h1v1h-1zM42 79h1v1h-1zM45 79h1v1h-1zM38 80h1v1h-1zM23 81h1v1h-1zM29 81h1v1h-1zM43 82h1v1h-1zM66 82h1v1h-1zM52 83h1v1h-1zM31 85h1v1h-1zM77 85h1v1h-1zM81 85h1v1h-1zM15 86h1v1h-1zM43 86h1v1h-1zM15 87h1v1h-1zM6 88h1v1h-1zM17 88h1v1h-1zM49 88h1v1h-1zM58 89h1v1h-1zM80 89h1v1h-1zM82 89h1v1h-1zM96 90h1v1h-1zM43 91h1v1h-1zM52 91h1v1h-1zM83 91h1v1h-1zM95 91h1v1h-1zM37 92h1v1h-1zM39 92h1v1h-1zM41 92h1v1h-1zM48 92h1v1h-1zM50 94h1v1h-1zM73 94h1v1h-1zM2 95h1v1h-1zM15 95h1v1h-1zM31 95h1v1h-1zM21 96h1v1h-1zM29 96h1v1h-1zM48 96h1v1h-1zM63 96h1v1h-1zM41 97h1v1h-1zM97 97h1v1h-1zM11 98h1v1h-1zM14 98h1v1h-1zM90 99h1v1h-1z"/><path fill="#91b2c6" d="M61 8h1v1h-1zM25 13h1v1h-1zM68 14h1v1h-1zM88 15h1v1h-1zM76 16h1v1h-1zM76 17h1v1h-1zM86 19h1v1h-1zM75 20h1v1h-1zM82 20h1v1h-1zM70 21h1v1h-1zM38 23h1v1h-1zM54 23h1v1h-1zM74 23h1v1h-1zM55 24h1v1h-1zM64 24h1v1h-1zM66 24h1v1h-1zM53 25h1v1h-1zM61 25h1v1h-1zM58 27h1v1h-1zM77 28h1v1h-1zM52 29h1v1h-1zM52 30h1v1h-1zM75 30h1v1h-1zM44 31h1v1h-1zM54 31h1v1h-1zM73 32h1v1h-1zM49 34h1v1h-1zM49 35h1v1h-1zM75 35h1v1h-1zM43 36h1v1h-1zM49 36h2v1h-2zM44 38h2v1h-2zM79 38h1v1h-1zM42 41h1v1h-1zM72 41h2v1h-2zM59 42h1v1h-1zM73 42h1v1h-1zM69 43h1v1h-1zM38 46h2v1h-2zM41 46h1v1h-1zM69 46h1v1h-1zM68 48h1v1h-1zM31 50h1v1h-1zM65 51h1v1h-1zM72 51h1v1h-1zM65 54h1v1h-1zM60 56h1v1h-1zM63 56h1v1h-1zM58 57h1v1h-1zM64 57h1v1h-1zM33 60h1v1h-1zM57 60h2v1h-2zM29 62h1v1h-1zM36 62h2v1h-2zM57 62h1v1h-1zM28 63h1v1h-1zM51 63h1v1h-1zM29 64h1v1h-1zM29 66h1v1h-1zM27 68h1v1h-1zM59 68h1v1h-1zM21 69h1v1h-1zM35 69h1v1h-1zM63 69h1v1h-1zM37 70h1v1h-1zM33 71h1v1h-1zM42 72h1v1h-1zM28 73h1v1h-1zM35 74h1v1h-1zM80 77h1v1h-1zM75 85h1v1h-1zM91 98h1v1h-1zM30 99h1v1h-1z"/><path fill="#9ebbc9" d="M1 9h1v1h-1zM30 13h1v1h-1zM26 14h1v1h-1zM56 20h1v1h-1zM82 21h1v1h-1zM43 22h1v1h-1zM63 24h1v1h-1zM75 25h1v1h-1zM38 26h1v1h-1zM53 26h1v1h-1zM56 26h1v1h-1zM59 26h1v1h-1zM68 26h1v1h-1zM68 28h1v1h-1zM49 31h2v1h-2zM77 31h1v1h-1zM76 33h1v1h-1zM74 34h1v1h-1zM48 36h1v1h-1zM42 38h1v1h-1zM50 38h1v1h-1zM43 39h1v1h-1zM45 39h1v1h-1zM42 40h1v1h-1zM68 41h1v1h-1zM39 43h1v1h-1zM41 43h1v1h-1zM70 43h1v1h-1zM32 44h1v1h-1zM40 44h1v1h-1zM36 47h1v1h-1zM38 48h1v1h-1zM82 48h1v1h-1zM33 52h1v1h-1zM64 52h1v1h-1zM29 63h1v1h-1zM32 63h1v1h-1zM50 63h1v1h-1zM50 65h1v1h-1zM31 67h1v1h-1zM39 67h1v1h-1zM45 67h1v1h-1zM30 68h1v1h-1zM30 69h1v1h-1zM46 69h1v1h-1zM20 70h1v1h-1zM28 70h1v1h-1zM35 70h1v1h-1zM38 71h1v1h-1zM31 74h1v1h-1zM31 75h1v1h-1zM34 79h2v1h-2zM0 81h1v1h-1zM42 91h1v1h-1zM59 94h1v1h-1z"/><path fill="#8aaec5" d="M2 9h1v1h-1zM1 11h1v1h-1zM96 12h1v1h-1zM8 14h1v1h-1zM25 14h1v1h-1zM50 17h1v1h-1zM77 20h1v1h-1zM69 22h1v1h-1zM41 23h1v1h-1zM17 24h1v1h-1zM37 24h1v1h-1zM59 24h1v1h-1zM78 24h1v1h-1zM79 25h1v1h-1zM82 25h1v1h-1zM42 26h1v1h-1zM48 26h1v1h-1zM54 26h1v1h-1zM57 27h1v1h-1zM21 28h1v1h-1zM54 29h1v1h-1zM57 29h1v1h-1zM26 30h1v1h-1zM51 30h1v1h-1zM84 30h1v1h-1zM47 35h1v1h-1zM50 35h1v1h-1zM41 36h1v1h-1zM15 37h1v1h-1zM43 38h1v1h-1zM74 38h1v1h-1zM75 39h1v1h-1zM38 41h1v1h-1zM45 42h1v1h-1zM44 43h1v1h-1zM36 44h1v1h-1zM69 44h1v1h-1zM34 45h1v1h-1zM70 45h1v1h-1zM38 47h1v1h-1zM65 49h1v1h-1zM71 49h1v1h-1zM30 50h1v1h-1zM74 50h1v1h-1zM33 53h1v1h-1zM68 53h1v1h-1zM26 56h2v1h-2zM26 57h1v1h-1zM33 57h1v1h-1zM78 57h1v1h-1zM56 58h1v1h-1zM22 60h1v1h-1zM55 61h1v1h-1zM55 62h1v1h-1zM58 62h1v1h-1zM28 64h1v1h-1zM32 64h1v1h-1zM50 64h1v1h-1zM30 65h1v1h-1zM95 65h1v1h-1zM50 66h1v1h-1zM63 67h1v1h-1zM29 68h1v1h-1zM43 68h1v1h-1zM42 70h1v1h-1zM27 71h1v1h-1zM34 71h2v1h-2zM43 72h1v1h-1zM25 76h1v1h-1zM36 78h1v1h-1zM48 80h1v1h-1zM31 84h1v1h-1zM27 86h1v1h-1zM62 93h1v1h-1zM59 95h1v1h-1zM65 95h1v1h-1zM30 96h1v1h-1zM13 98h1v1h-1zM93 98h1v1h-1z"/><path fill="#85a9c4" d="M56 9h1v1h-1zM51 10h1v1h-1zM97 13h1v1h-1zM25 15h1v1h-1zM65 15h1v1h-1zM45 18h1v1h-1zM63 18h1v1h-1zM77 18h2v1h-2zM72 19h1v1h-1zM75 19h1v1h-1zM80 19h1v1h-1zM54 20h1v1h-1zM53 21h1v1h-1zM58 21h1v1h-1zM42 22h1v1h-1zM68 22h1v1h-1zM70 22h1v1h-1zM38 24h1v1h-1zM19 25h1v1h-1zM81 25h1v1h-1zM55 26h1v1h-1zM38 27h1v1h-1zM60 27h1v1h-1zM77 27h1v1h-1zM66 28h1v1h-1zM36 29h1v1h-1zM53 29h1v1h-1zM73 29h1v1h-1zM30 30h1v1h-1zM52 31h1v1h-1zM78 31h1v1h-1zM94 31h1v1h-1zM44 32h1v1h-1zM78 34h1v1h-1zM82 36h1v1h-1zM39 38h1v1h-1zM37 48h1v1h-1zM39 48h1v1h-1zM68 49h1v1h-1zM70 49h1v1h-1zM70 50h2v1h-2zM66 51h1v1h-1zM31 52h1v1h-1zM65 52h1v1h-1zM97 52h1v1h-1zM75 53h1v1h-1zM65 55h1v1h-1zM65 56h1v1h-1zM59 57h1v1h-1zM55 59h1v1h-1zM24 60h1v1h-1zM56 60h1v1h-1zM64 60h1v1h-1zM61 61h1v1h-1zM54 62h1v1h-1zM36 66h2v1h-2zM96 66h1v1h-1zM49 67h1v1h-1zM59 67h1v1h-1zM45 68h1v1h-1zM33 69h1v1h-1zM27 72h1v1h-1zM37 72h1v1h-1zM35 77h1v1h-1zM20 78h1v1h-1zM32 78h1v1h-1zM71 82h1v1h-1zM51 83h1v1h-1zM26 85h1v1h-1zM37 86h1v1h-1zM86 92h1v1h-1zM11 97h1v1h-1zM47 98h1v1h-1z"/><path fill="#97b7c7" d="M45 11h1v1h-1zM71 12h1v1h-1zM56 14h1v1h-1zM8 15h1v1h-1zM33 15h1v1h-1zM50 16h1v1h-1zM58 17h1v1h-1zM67 18h1v1h-1zM22 19h1v1h-1zM22 20h1v1h-1zM56 21h1v1h-1zM69 21h1v1h-1zM34 24h1v1h-1zM39 24h1v1h-1zM54 24h1v1h-1zM61 24h1v1h-1zM67 24h1v1h-1zM54 25h1v1h-1zM57 25h1v1h-1zM59 25h1v1h-1zM70 26h1v1h-1zM73 26h1v1h-1zM66 27h1v1h-1zM76 27h1v1h-1zM65 28h1v1h-1zM73 31h1v1h-1zM93 35h1v1h-1zM42 36h1v1h-1zM46 36h1v1h-1zM42 39h1v1h-1zM39 41h1v1h-1zM40 42h1v1h-1zM42 42h1v1h-1zM38 44h1v1h-1zM36 48h1v1h-1zM39 49h1v1h-1zM67 49h1v1h-1zM73 50h1v1h-1zM36 51h1v1h-1zM66 52h1v1h-1zM33 54h1v1h-1zM64 54h1v1h-1zM66 55h1v1h-1zM33 56h1v1h-1zM57 58h1v1h-1zM24 61h1v1h-1zM56 62h1v1h-1zM49 64h1v1h-1zM96 65h1v1h-1zM51 66h1v1h-1zM34 70h1v1h-1zM30 74h1v1h-1zM51 74h1v1h-1zM76 85h1v1h-1zM35 87h1v1h-1zM52 87h1v1h-1zM61 93h1v1h-1zM99 95h1v1h-1z"/><path fill="#a7c0cb" d="M88 14h1v1h-1zM63 19h1v1h-1zM31 21h1v1h-1zM54 22h1v1h-1zM56 22h1v1h-1zM63 23h1v1h-1zM72 24h1v1h-1zM30 29h1v1h-1zM76 29h1v1h-1zM54 30h1v1h-1zM76 30h1v1h-1zM44 34h1v1h-1zM48 35h1v1h-1zM93 40h1v1h-1zM74 41h2v1h-2zM41 42h1v1h-1zM46 42h1v1h-1zM71 42h1v1h-1zM33 44h1v1h-1zM35 48h1v1h-1zM36 49h1v1h-1zM32 50h1v1h-1zM32 52h1v1h-1zM60 53h1v1h-1zM31 55h1v1h-1zM59 55h1v1h-1zM40 61h1v1h-1zM38 62h1v1h-1zM49 62h1v1h-1zM49 63h1v1h-1zM59 63h1v1h-1zM37 64h1v1h-1zM53 64h1v1h-1zM29 65h1v1h-1zM39 66h2v1h-2zM35 68h1v1h-1zM44 68h1v1h-1zM37 71h1v1h-1zM26 72h1v1h-1zM36 76h1v1h-1zM25 77h1v1h-1z"/><path fill="#afc4cd" d="M62 17h1v1h-1zM72 18h1v1h-1zM62 20h1v1h-1zM54 21h1v1h-1zM70 24h1v1h-1zM68 25h1v1h-1zM58 26h1v1h-1zM73 27h1v1h-1zM71 28h1v1h-1zM73 28h1v1h-1zM51 31h1v1h-1zM72 31h1v1h-1zM74 31h2v1h-2zM52 32h1v1h-1zM47 36h1v1h-1zM74 36h1v1h-1zM49 38h1v1h-1zM72 40h1v1h-1zM75 40h1v1h-1zM59 41h1v1h-1zM40 43h1v1h-1zM43 43h1v1h-1zM45 43h1v1h-1zM70 44h1v1h-1zM40 47h1v1h-1zM71 51h1v1h-1zM59 56h1v1h-1zM56 59h1v1h-1zM37 63h1v1h-1zM47 65h1v1h-1zM49 65h1v1h-1zM94 66h1v1h-1zM44 67h1v1h-1zM39 68h1v1h-1zM47 69h1v1h-1zM29 70h2v1h-2zM35 78h1v1h-1zM82 92h1v1h-1z"/><path fill="#beccd2" d="M62 18h1v1h-1zM64 22h1v1h-1zM68 23h1v1h-1zM62 24h1v1h-1zM56 25h1v1h-1zM72 25h1v1h-1zM74 25h1v1h-1zM76 26h1v1h-1zM65 27h1v1h-1zM70 28h1v1h-1zM72 28h1v1h-1zM59 30h1v1h-1zM44 33h1v1h-1zM72 39h1v1h-1zM69 40h1v1h-1zM72 42h1v1h-1zM41 44h1v1h-1zM39 47h1v1h-1zM41 47h1v1h-1zM35 49h1v1h-1zM63 50h1v1h-1zM65 50h1v1h-1zM70 51h1v1h-1zM60 52h1v1h-1zM61 53h1v1h-1zM29 56h2v1h-2zM28 57h1v1h-1zM32 57h1v1h-1zM48 62h1v1h-1zM50 62h1v1h-1zM59 62h1v1h-1zM60 63h1v1h-1zM31 64h1v1h-1zM43 64h1v1h-1zM42 67h2v1h-2zM38 68h1v1h-1zM40 68h1v1h-1zM46 68h1v1h-1zM38 69h1v1h-1zM41 69h1v1h-1zM39 70h1v1h-1zM40 71h1v1h-1zM26 73h1v1h-1zM60 93h1v1h-1z"/><path fill="#c5cfd5" d="M62 19h1v1h-1zM66 22h1v1h-1zM64 23h2v1h-2zM72 23h2v1h-2zM67 25h1v1h-1zM61 26h1v1h-1zM69 26h1v1h-1zM61 27h1v1h-1zM59 28h1v1h-1zM68 29h1v1h-1zM57 30h1v1h-1zM86 30h1v1h-1zM74 32h2v1h-2zM73 33h1v1h-1zM75 33h1v1h-1zM74 35h1v1h-1zM68 36h1v1h-1zM50 37h1v1h-1zM56 37h1v1h-1zM73 37h1v1h-1zM40 38h2v1h-2zM51 38h1v1h-1zM43 40h1v1h-1zM66 42h1v1h-1zM42 44h1v1h-1zM67 44h2v1h-2zM40 45h3v1h-3zM68 46h1v1h-1zM68 47h1v1h-1zM40 48h1v1h-1zM69 49h1v1h-1zM41 51h1v1h-1zM64 51h1v1h-1zM59 52h1v1h-1zM36 54h1v1h-1zM58 54h2v1h-2zM62 54h1v1h-1zM28 56h1v1h-1zM30 57h1v1h-1zM43 61h1v1h-1zM53 61h1v1h-1zM41 62h1v1h-1zM51 62h1v1h-1zM52 64h1v1h-1zM41 65h1v1h-1zM46 67h1v1h-1zM34 68h1v1h-1zM38 70h1v1h-1zM41 71h1v1h-1z"/><path fill="#b6c8cf" d="M23 22h1v1h-1zM55 23h1v1h-1zM57 23h1v1h-1zM66 23h1v1h-1zM71 24h1v1h-1zM57 26h1v1h-1zM71 26h1v1h-1zM63 27h1v1h-1zM64 28h1v1h-1zM76 28h1v1h-1zM52 33h1v1h-1zM74 33h1v1h-1zM44 39h1v1h-1zM44 40h1v1h-1zM71 40h1v1h-1zM74 40h1v1h-1zM44 41h1v1h-1zM62 41h1v1h-1zM42 43h1v1h-1zM68 43h1v1h-1zM69 45h1v1h-1zM33 50h1v1h-1zM38 50h1v1h-1zM66 50h1v1h-1zM35 51h1v1h-1zM39 51h1v1h-1zM67 52h1v1h-1zM39 53h1v1h-1zM29 55h1v1h-1zM34 55h1v1h-1zM61 55h1v1h-1zM32 56h1v1h-1zM55 58h1v1h-1zM64 58h1v1h-1zM34 61h1v1h-1zM42 64h1v1h-1zM37 65h2v1h-2zM43 65h1v1h-1zM42 66h1v1h-1zM45 66h1v1h-1zM48 66h1v1h-1zM27 67h1v1h-1zM20 69h1v1h-1zM39 71h1v1h-1zM42 71h1v1h-1zM36 77h1v1h-1zM48 81h1v1h-1zM60 95h1v1h-1z"/><path fill="#e2d9e2" d="M65 22h1v1h-1zM62 28h1v1h-1zM75 29h1v1h-1zM55 30h1v1h-1zM60 32h1v1h-1zM64 33h1v1h-1zM58 34h1v1h-1zM71 34h1v1h-1zM57 35h2v1h-2zM65 38h1v1h-1zM68 38h1v1h-1zM46 39h1v1h-1zM50 39h1v1h-1zM68 39h1v1h-1zM70 40h1v1h-1zM46 41h1v1h-1zM57 41h1v1h-1zM66 43h1v1h-1zM43 44h1v1h-1zM62 44h1v1h-1zM64 48h1v1h-1zM63 52h1v1h-1zM57 53h1v1h-1zM57 54h1v1h-1zM44 55h1v1h-1zM60 55h1v1h-1zM37 56h1v1h-1zM44 56h1v1h-1zM35 60h1v1h-1zM54 60h1v1h-1zM36 61h1v1h-1zM44 62h1v1h-1zM38 64h1v1h-1zM46 64h1v1h-1zM40 65h1v1h-1zM41 67h1v1h-1zM61 94h1v1h-1z"/><path fill="#ccd2d8" d="M67 22h1v1h-1zM67 23h1v1h-1zM62 25h1v1h-1zM65 25h1v1h-1zM63 26h1v1h-1zM64 27h1v1h-1zM69 27h1v1h-1zM58 28h1v1h-1zM73 30h1v1h-1zM50 33h1v1h-1zM56 33h1v1h-1zM72 33h1v1h-1zM48 34h1v1h-1zM54 35h1v1h-1zM44 37h1v1h-1zM46 37h1v1h-1zM68 37h2v1h-2zM74 37h1v1h-1zM52 38h1v1h-1zM45 40h1v1h-1zM69 41h1v1h-1zM71 41h1v1h-1zM43 42h1v1h-1zM70 42h1v1h-1zM44 45h1v1h-1zM67 48h1v1h-1zM37 49h1v1h-1zM31 51h2v1h-2zM40 51h1v1h-1zM37 52h2v1h-2zM59 53h1v1h-1zM39 54h1v1h-1zM60 54h1v1h-1zM28 55h1v1h-1zM64 55h1v1h-1zM54 56h1v1h-1zM58 56h1v1h-1zM64 56h1v1h-1zM57 57h1v1h-1zM54 59h1v1h-1zM35 61h1v1h-1zM48 63h1v1h-1zM53 63h1v1h-1zM49 66h1v1h-1zM47 67h1v1h-1zM47 68h1v1h-1zM34 69h1v1h-1z"/><path fill="#dbccc8" d="M56 23h1v1h-1zM71 25h1v1h-1zM62 26h1v1h-1zM66 29h1v1h-1zM58 31h2v1h-2zM63 31h1v1h-1zM62 32h2v1h-2zM65 33h1v1h-1zM59 34h1v1h-1zM70 34h1v1h-1zM71 39h1v1h-1zM59 40h1v1h-1zM50 41h1v1h-1zM64 41h1v1h-1zM49 42h2v1h-2zM42 49h1v1h-1zM58 49h2v1h-2zM43 51h1v1h-1zM42 54h1v1h-1zM39 56h1v1h-1zM53 56h1v1h-1zM35 57h1v1h-1zM40 57h1v1h-1zM44 57h1v1h-1zM50 58h1v1h-1zM50 59h1v1h-1zM53 59h1v1h-1zM38 60h1v1h-1zM37 61h1v1h-1zM54 61h1v1h-1zM43 62h1v1h-1zM45 62h1v1h-1zM39 64h1v1h-1zM45 64h1v1h-1z"/><path fill="#e1d8df" d="M56 24h1v1h-1zM63 25h2v1h-2zM65 26h1v1h-1zM67 28h1v1h-1zM64 29h1v1h-1zM71 29h1v1h-1zM70 30h2v1h-2zM56 31h1v1h-1zM62 31h1v1h-1zM51 32h1v1h-1zM59 32h1v1h-1zM55 33h1v1h-1zM72 34h1v1h-1zM54 36h1v1h-1zM65 37h1v1h-1zM67 37h1v1h-1zM72 37h1v1h-1zM64 38h1v1h-1zM56 39h1v1h-1zM64 39h1v1h-1zM50 40h1v1h-1zM56 41h1v1h-1zM47 42h1v1h-1zM65 42h1v1h-1zM62 46h1v1h-1zM37 50h1v1h-1zM62 50h1v1h-1zM42 51h1v1h-1zM38 54h1v1h-1zM36 55h2v1h-2zM39 55h1v1h-1zM41 56h1v1h-1zM57 56h1v1h-1zM54 57h1v1h-1zM44 61h1v1h-1zM46 62h1v1h-1zM47 63h1v1h-1zM39 65h1v1h-1zM42 68h1v1h-1zM42 69h1v1h-1zM62 94h1v1h-1z"/><path fill="#d2d5db" d="M57 24h1v1h-1zM69 25h2v1h-2zM64 26h1v1h-1zM72 26h1v1h-1zM57 28h1v1h-1zM58 29h1v1h-1zM60 30h1v1h-1zM71 31h1v1h-1zM52 34h1v1h-1zM73 35h1v1h-1zM51 36h1v1h-1zM47 37h1v1h-1zM46 38h2v1h-2zM73 38h1v1h-1zM62 43h1v1h-1zM65 47h1v1h-1zM67 47h1v1h-1zM57 48h1v1h-1zM61 54h1v1h-1zM63 54h1v1h-1zM63 55h1v1h-1zM29 57h1v1h-1zM51 58h1v1h-1zM40 62h1v1h-1zM43 66h1v1h-1z"/><path fill="#e0d7da" d="M66 25h1v1h-1zM74 26h1v1h-1zM68 27h1v1h-1zM71 27h2v1h-2zM60 29h1v1h-1zM70 29h1v1h-1zM65 30h1v1h-1zM70 31h1v1h-1zM64 32h2v1h-2zM71 32h1v1h-1zM54 33h1v1h-1zM52 35h1v1h-1zM71 35h1v1h-1zM72 38h1v1h-1zM47 40h1v1h-1zM61 40h1v1h-1zM58 41h1v1h-1zM66 41h1v1h-1zM44 44h1v1h-1zM61 44h1v1h-1zM43 45h1v1h-1zM58 48h1v1h-1zM37 53h1v1h-1zM58 53h1v1h-1zM47 58h1v1h-1zM53 58h1v1h-1zM34 59h3v1h-3zM41 59h1v1h-1zM36 60h1v1h-1zM39 60h1v1h-1zM47 61h1v1h-1zM52 62h1v1h-1zM40 70h2v1h-2z"/><path fill="#dfd4d6" d="M66 26h1v1h-1zM75 28h1v1h-1zM55 31h1v1h-1zM57 32h1v1h-1zM67 32h1v1h-1zM67 33h1v1h-1zM69 33h1v1h-1zM53 35h1v1h-1zM69 36h1v1h-1zM63 43h1v1h-1zM67 45h1v1h-1zM64 46h1v1h-1zM41 49h1v1h-1zM41 50h1v1h-1zM60 51h1v1h-1zM62 53h1v1h-1zM37 54h1v1h-1zM41 54h1v1h-1zM38 55h1v1h-1zM53 55h1v1h-1zM36 56h1v1h-1zM38 56h1v1h-1zM34 57h1v1h-1zM35 58h1v1h-1zM40 60h1v1h-1zM39 62h1v1h-1zM41 63h1v1h-1z"/><path fill="#dcd9df" d="M67 26h1v1h-1zM62 27h1v1h-1zM67 27h1v1h-1zM69 28h1v1h-1zM74 28h1v1h-1zM65 29h1v1h-1zM72 29h1v1h-1zM65 31h1v1h-1zM55 34h1v1h-1zM73 34h1v1h-1zM55 35h1v1h-1zM73 36h1v1h-1zM60 40h1v1h-1zM64 40h1v1h-1zM65 41h1v1h-1zM39 44h1v1h-1zM63 45h1v1h-1zM69 48h1v1h-1zM36 50h1v1h-1zM64 50h1v1h-1zM33 51h1v1h-1zM62 51h1v1h-1zM39 52h1v1h-1zM41 52h1v1h-1zM61 52h1v1h-1zM35 55h1v1h-1zM42 56h1v1h-1zM39 61h1v1h-1zM41 61h1v1h-1zM46 61h1v1h-1zM38 63h1v1h-1zM44 63h1v1h-1zM52 63h1v1h-1zM45 65h1v1h-1zM44 66h1v1h-1zM40 67h1v1h-1zM60 94h1v1h-1zM62 95h1v1h-1z"/><path fill="#d2b8a7" d="M75 26h1v1h-1zM60 31h1v1h-1zM67 31h1v1h-1zM66 33h1v1h-1zM63 34h3v1h-3zM63 35h1v1h-1zM52 36h1v1h-1zM60 36h1v1h-1zM63 36h1v1h-1zM72 36h1v1h-1zM57 37h1v1h-1zM61 37h1v1h-1zM70 38h1v1h-1zM48 43h1v1h-1zM56 44h1v1h-1zM60 46h1v1h-1zM60 47h1v1h-1zM61 48h1v1h-1zM56 52h1v1h-1zM40 53h2v1h-2zM43 53h1v1h-1zM40 54h1v1h-1zM45 57h1v1h-1zM40 58h1v1h-1zM48 58h1v1h-1zM52 58h1v1h-1z"/><path fill="#dfd9e1" d="M70 27h1v1h-1zM75 27h1v1h-1zM63 28h1v1h-1zM58 30h1v1h-1zM76 31h1v1h-1zM61 32h1v1h-1zM68 32h1v1h-1zM56 34h1v1h-1zM51 35h1v1h-1zM65 35h1v1h-1zM72 35h1v1h-1zM55 36h1v1h-1zM48 38h1v1h-1zM69 38h1v1h-1zM60 39h1v1h-1zM43 41h1v1h-1zM67 42h1v1h-1zM46 43h1v1h-1zM42 46h1v1h-1zM63 46h1v1h-1zM69 47h1v1h-1zM42 48h1v1h-1zM35 50h1v1h-1zM39 50h1v1h-1zM37 51h2v1h-2zM63 53h1v1h-1zM34 56h1v1h-1zM31 57h1v1h-1zM56 57h1v1h-1zM45 63h1v1h-1zM41 64h1v1h-1zM47 64h2v1h-2zM46 65h1v1h-1zM46 66h2v1h-2zM61 95h1v1h-1z"/><path fill="#ddd0cf" d="M74 27h1v1h-1zM60 28h1v1h-1zM69 29h1v1h-1zM72 30h1v1h-1zM64 31h1v1h-1zM68 31h1v1h-1zM56 32h1v1h-1zM57 33h1v1h-1zM68 33h1v1h-1zM57 34h1v1h-1zM67 36h1v1h-1zM66 37h1v1h-1zM70 37h1v1h-1zM53 38h1v1h-1zM47 39h3v1h-3zM48 40h1v1h-1zM51 41h1v1h-1zM70 41h1v1h-1zM62 45h1v1h-1zM67 46h1v1h-1zM42 47h1v1h-1zM65 48h1v1h-1zM40 49h1v1h-1zM60 49h1v1h-1zM40 50h1v1h-1zM60 50h1v1h-1zM44 51h1v1h-1zM44 52h1v1h-1zM62 52h1v1h-1zM54 54h1v1h-1zM55 56h2v1h-2zM36 57h1v1h-1zM55 57h1v1h-1zM38 61h1v1h-1zM50 61h1v1h-1zM44 64h1v1h-1zM44 65h1v1h-1z"/><path fill="#d7c3b8" d="M61 28h1v1h-1zM67 29h1v1h-1zM69 30h1v1h-1zM58 32h1v1h-1zM51 33h1v1h-1zM59 35h1v1h-1zM64 35h1v1h-1zM66 35h1v1h-1zM65 36h1v1h-1zM56 38h1v1h-1zM66 38h2v1h-2zM51 39h1v1h-1zM47 41h1v1h-1zM51 42h1v1h-1zM59 43h1v1h-1zM65 43h1v1h-1zM67 43h1v1h-1zM60 44h1v1h-1zM45 45h1v1h-1zM68 45h1v1h-1zM66 46h1v1h-1zM44 48h1v1h-1zM66 48h1v1h-1zM61 50h1v1h-1zM61 51h1v1h-1zM58 52h1v1h-1zM43 54h1v1h-1zM40 56h1v1h-1zM43 56h1v1h-1zM52 56h1v1h-1zM37 57h1v1h-1zM40 59h1v1h-1zM45 61h1v1h-1zM43 63h1v1h-1zM46 63h1v1h-1z"/><path fill="#d7d7dd" d="M59 29h1v1h-1zM50 32h1v1h-1zM53 32h2v1h-2zM76 32h1v1h-1zM53 33h1v1h-1zM51 34h1v1h-1zM53 34h2v1h-2zM51 37h1v1h-1zM55 37h1v1h-1zM41 39h1v1h-1zM69 39h1v1h-1zM68 40h1v1h-1zM45 41h1v1h-1zM68 42h2v1h-2zM65 46h1v1h-1zM64 47h1v1h-1zM66 47h1v1h-1zM41 48h1v1h-1zM64 49h1v1h-1zM66 49h1v1h-1zM63 51h1v1h-1zM38 53h1v1h-1zM57 55h2v1h-2zM31 56h1v1h-1zM54 58h1v1h-1zM51 59h1v1h-1zM57 59h1v1h-1zM34 60h1v1h-1zM46 60h1v1h-1zM41 66h1v1h-1zM41 68h1v1h-1z"/><path fill="#c78e71" d="M61 29h1v1h-1zM61 30h1v1h-1zM62 34h1v1h-1zM60 35h1v1h-1zM64 36h1v1h-1zM54 38h1v1h-1zM62 38h1v1h-1zM62 39h1v1h-1zM55 42h1v1h-1zM53 43h1v1h-1zM56 43h1v1h-1zM47 44h1v1h-1zM53 44h1v1h-1zM61 46h1v1h-1zM63 48h1v1h-1zM43 50h1v1h-1zM55 52h1v1h-1zM53 53h1v1h-1zM37 58h1v1h-1zM42 60h1v1h-1zM42 62h1v1h-1zM40 63h1v1h-1z"/><path fill="#d4beaf" d="M62 29h2v1h-2zM64 30h1v1h-1zM66 30h1v1h-1zM68 30h1v1h-1zM57 31h1v1h-1zM66 31h1v1h-1zM55 32h1v1h-1zM59 33h1v1h-1zM63 33h1v1h-1zM70 35h1v1h-1zM55 38h1v1h-1zM63 42h1v1h-1zM63 44h1v1h-1zM66 45h1v1h-1zM43 48h1v1h-1zM40 52h1v1h-1zM43 52h1v1h-1zM42 53h1v1h-1zM49 54h1v1h-1zM42 55h1v1h-1zM56 55h1v1h-1zM37 59h1v1h-1zM42 59h1v1h-1zM52 59h1v1h-1zM49 60h1v1h-1zM52 60h1v1h-1zM42 61h1v1h-1zM52 61h1v1h-1zM40 64h1v1h-1z"/><path fill="#d9c8c0" d="M62 30h1v1h-1zM58 33h1v1h-1zM56 35h1v1h-1zM57 36h1v1h-1zM52 37h1v1h-1zM54 37h1v1h-1zM71 37h1v1h-1zM59 39h1v1h-1zM61 39h1v1h-1zM63 39h1v1h-1zM49 40h1v1h-1zM49 41h1v1h-1zM56 42h1v1h-1zM66 44h1v1h-1zM44 49h1v1h-1zM59 51h1v1h-1zM42 52h1v1h-1zM50 54h1v1h-1zM50 55h1v1h-1zM54 55h1v1h-1zM51 56h1v1h-1zM43 57h1v1h-1zM34 58h1v1h-1zM36 58h1v1h-1zM49 59h1v1h-1zM37 60h1v1h-1zM45 60h1v1h-1zM53 60h1v1h-1zM47 62h1v1h-1z"/><path fill="#c89477" d="M63 30h1v1h-1zM61 33h1v1h-1zM67 35h1v1h-1zM71 36h1v1h-1zM64 42h1v1h-1zM65 44h1v1h-1zM58 45h1v1h-1zM64 45h1v1h-1zM50 53h1v1h-1zM52 53h1v1h-1zM55 54h1v1h-1zM47 57h1v1h-1zM46 58h1v1h-1zM43 59h1v1h-1zM43 60h1v1h-1zM48 60h1v1h-1z"/><path fill="#d0b29c" d="M67 30h1v1h-1zM61 31h1v1h-1zM68 35h1v1h-1zM56 36h1v1h-1zM70 36h1v1h-1zM71 38h1v1h-1zM67 39h1v1h-1zM70 39h1v1h-1zM46 40h1v1h-1zM57 42h1v1h-1zM59 44h1v1h-1zM54 45h1v1h-1zM65 45h1v1h-1zM45 46h1v1h-1zM59 48h1v1h-1zM57 49h1v1h-1zM62 49h1v1h-1zM45 51h1v1h-1zM40 55h2v1h-2zM50 56h1v1h-1zM39 57h1v1h-1zM49 58h1v1h-1zM46 59h1v1h-1zM48 59h1v1h-1zM41 60h1v1h-1zM47 60h1v1h-1zM50 60h1v1h-1zM49 61h1v1h-1zM51 61h1v1h-1zM42 63h1v1h-1z"/><path fill="#ca9a7d" d="M69 31h1v1h-1zM70 33h1v1h-1zM67 34h1v1h-1zM53 36h1v1h-1zM53 37h1v1h-1zM64 37h1v1h-1zM65 40h1v1h-1zM64 43h1v1h-1zM45 44h2v1h-2zM55 44h1v1h-1zM58 44h1v1h-1zM53 45h1v1h-1zM43 46h1v1h-1zM47 46h1v1h-1zM59 46h1v1h-1zM52 52h1v1h-1zM56 53h1v1h-1zM51 54h1v1h-1zM56 54h1v1h-1zM49 55h1v1h-1zM52 55h1v1h-1zM51 57h1v1h-1zM41 58h2v1h-2zM45 58h1v1h-1zM45 59h1v1h-1zM47 59h1v1h-1zM48 61h1v1h-1z"/><path fill="#cda68c" d="M66 32h1v1h-1zM62 33h1v1h-1zM71 33h1v1h-1zM59 36h1v1h-1zM58 37h1v1h-1zM59 38h1v1h-1zM62 40h2v1h-2zM67 41h1v1h-1zM58 42h1v1h-1zM43 47h1v1h-1zM63 47h1v1h-1zM45 48h1v1h-1zM60 48h1v1h-1zM46 49h1v1h-1zM63 49h1v1h-1zM51 52h1v1h-1zM43 55h1v1h-1zM55 55h1v1h-1zM35 56h1v1h-1zM42 57h1v1h-1zM43 58h2v1h-2zM39 59h1v1h-1zM51 60h1v1h-1zM39 63h1v1h-1z"/><path fill="#ceac94" d="M69 32h1v1h-1zM69 35h1v1h-1zM55 39h1v1h-1zM65 39h1v1h-1zM51 40h1v1h-1zM56 40h1v1h-1zM48 42h1v1h-1zM61 47h1v1h-1zM43 49h1v1h-1zM54 49h2v1h-2zM44 50h1v1h-1zM44 54h1v1h-1zM53 54h1v1h-1zM45 55h1v1h-1zM45 56h1v1h-1zM41 57h1v1h-1zM46 57h1v1h-1zM38 58h2v1h-2zM38 59h1v1h-1z"/><path fill="#cba085" d="M70 32h1v1h-1zM60 33h1v1h-1zM60 34h1v1h-1zM66 34h1v1h-1zM69 34h1v1h-1zM66 36h1v1h-1zM59 37h2v1h-2zM61 38h1v1h-1zM63 38h1v1h-1zM52 39h1v1h-1zM58 40h1v1h-1zM48 41h1v1h-1zM63 41h1v1h-1zM47 43h1v1h-1zM59 45h1v1h-1zM44 46h1v1h-1zM59 47h1v1h-1zM45 49h1v1h-1zM61 49h1v1h-1zM57 50h3v1h-3zM57 52h1v1h-1zM52 54h1v1h-1zM51 55h1v1h-1zM38 57h1v1h-1zM53 57h1v1h-1zM44 60h1v1h-1z"/><path fill="#c0745d" d="M61 34h1v1h-1zM63 37h1v1h-1zM57 39h2v1h-2zM55 40h1v1h-1zM55 41h1v1h-1zM49 43h1v1h-1zM47 47h1v1h-1zM52 51h1v1h-1zM45 52h1v1h-1zM50 57h1v1h-1z"/><path fill="#c48166" d="M68 34h1v1h-1zM58 36h1v1h-1zM61 36h1v1h-1zM57 40h1v1h-1zM67 40h1v1h-1zM53 42h1v1h-1zM52 43h1v1h-1zM54 44h1v1h-1zM47 45h2v1h-2zM60 45h1v1h-1zM54 46h1v1h-1zM44 47h1v1h-1zM46 47h1v1h-1zM62 48h1v1h-1zM56 51h1v1h-1zM53 52h1v1h-1zM51 53h1v1h-1zM54 53h1v1h-1z"/><path fill="#c27b62" d="M61 35h1v1h-1zM66 39h1v1h-1zM52 41h1v1h-1zM54 41h1v1h-1zM48 44h1v1h-1zM49 47h1v1h-1zM62 47h1v1h-1zM56 48h1v1h-1zM42 50h1v1h-1zM54 52h1v1h-1zM55 53h1v1h-1zM46 56h1v1h-1z"/><path fill="#bb6857" d="M62 35h1v1h-1zM57 38h2v1h-2zM53 39h1v1h-1zM54 40h1v1h-1zM55 45h1v1h-1zM55 48h1v1h-1zM53 50h1v1h-1zM48 51h1v1h-1zM51 51h1v1h-1zM58 51h1v1h-1zM47 52h1v1h-1zM49 53h1v1h-1zM45 54h1v1h-1zM49 56h1v1h-1zM44 59h1v1h-1z"/><path fill="#b25652" d="M62 36h1v1h-1zM66 40h1v1h-1zM57 43h1v1h-1zM55 46h1v1h-1zM48 47h1v1h-1zM51 50h2v1h-2zM56 50h1v1h-1zM50 52h1v1h-1z"/><path fill="#b55c54" d="M62 37h1v1h-1zM50 43h1v1h-1zM58 43h1v1h-1zM64 44h1v1h-1zM48 46h2v1h-2zM54 50h1v1h-1zM46 51h1v1h-1zM48 52h1v1h-1zM46 53h1v1h-1zM48 53h1v1h-1zM48 54h1v1h-1zM48 57h1v1h-1z"/><path fill="#c6876b" d="M60 38h1v1h-1zM52 42h1v1h-1zM46 45h1v1h-1zM46 46h1v1h-1zM45 47h1v1h-1zM45 50h1v1h-1zM44 53h1v1h-1zM52 57h1v1h-1z"/><path fill="#bd6e5a" d="M54 39h1v1h-1zM51 43h1v1h-1zM54 43h2v1h-2zM49 44h1v1h-1zM52 44h1v1h-1zM61 45h1v1h-1zM46 54h1v1h-1z"/><path fill="#af5151" d="M52 40h1v1h-1zM50 44h1v1h-1zM55 47h1v1h-1zM57 47h1v1h-1zM46 48h1v1h-1zM56 49h1v1h-1zM46 50h1v1h-1zM55 51h1v1h-1zM57 51h1v1h-1zM47 53h1v1h-1zM48 55h1v1h-1z"/><path fill="#ab4b50" d="M53 40h1v1h-1zM52 45h1v1h-1zM57 45h1v1h-1zM53 46h1v1h-1zM50 47h1v1h-1zM54 48h1v1h-1zM49 57h1v1h-1z"/><path fill="#b86255" d="M53 41h1v1h-1zM54 42h1v1h-1zM57 44h1v1h-1zM56 45h1v1h-1zM58 47h1v1h-1zM47 49h1v1h-1zM46 52h1v1h-1z"/><path fill="#842550" d="M51 44h1v1h-1zM47 55h1v1h-1z"/><path fill="#a74650" d="M49 45h1v1h-1zM52 46h1v1h-1zM52 47h1v1h-1zM56 47h1v1h-1zM53 49h1v1h-1zM53 51h1v1h-1zM45 53h1v1h-1zM47 54h1v1h-1zM46 55h1v1h-1z"/><path fill="#711d4f" d="M50 45h1v1h-1zM53 47h1v1h-1z"/><path fill="#993650" d="M51 45h1v1h-1zM50 51h1v1h-1zM48 56h1v1h-1z"/><path fill="#8a2950" d="M50 46h2v1h-2zM48 48h1v1h-1zM47 50h2v1h-2z"/><path fill="#7e2250" d="M56 46h1v1h-1z"/><path fill="#331237" d="M57 46h1v1h-1z"/><path fill="#a34150" d="M58 46h1v1h-1zM48 49h1v1h-1zM55 50h1v1h-1zM47 51h1v1h-1zM54 51h1v1h-1zM47 56h1v1h-1z"/><path fill="#781f4f" d="M51 47h1v1h-1z"/><path fill="#9e3b50" d="M54 47h1v1h-1zM47 48h1v1h-1z"/><path fill="#943150" d="M49 48h1v1h-1zM51 49h1v1h-1zM49 51h1v1h-1z"/><path fill="#6b1b4d" d="M50 48h1v1h-1zM49 49h1v1h-1z"/><path fill="#5c1749" d="M51 48h1v1h-1zM52 49h1v1h-1z"/><path fill="#43123e" d="M52 48h1v1h-1z"/><path fill="#3a113a" d="M53 48h1v1h-1z"/><path fill="#561546" d="M50 49h1v1h-1zM49 50h1v1h-1z"/><path fill="#4f1444" d="M50 50h1v1h-1zM49 52h1v1h-1z"/></g></g></g><linearGradient id="cbg" x1="0" y1="0" x2="0" y2="1"><stop offset="0" stop-color="#2f1436"/><stop offset="0.03" stop-color="#3a113a"/><stop offset="0.06" stop-color="#4a1342"/><stop offset="0.09" stop-color="#5f174a"/><stop offset="0.12" stop-color="#741e4f"/><stop offset="0.16" stop-color="#872750"/><stop offset="0.19" stop-color="#983550"/><stop offset="0.22" stop-color="#a64550"/><stop offset="0.25" stop-color="#b25652"/><stop offset="0.28" stop-color="#bb6958"/><stop offset="0.31" stop-color="#c27c63"/><stop offset="0.34" stop-color="#c89073"/><stop offset="0.38" stop-color="#cca389"/><stop offset="0.41" stop-color="#d1b6a3"/><stop offset="0.44" stop-color="#d8c7be"/><stop offset="0.47" stop-color="#dfd4d6"/><stop offset="0.5" stop-color="#e2d9e2"/><stop offset="0.53" stop-color="#d7d7dd"/><stop offset="0.56" stop-color="#c4ced4"/><stop offset="0.59" stop-color="#acc2cc"/><stop offset="0.62" stop-color="#95b5c7"/><stop offset="0.66" stop-color="#81a6c3"/><stop offset="0.69" stop-color="#7297c1"/><stop offset="0.72" stop-color="#6887be"/><stop offset="0.75" stop-color="#6276ba"/><stop offset="0.78" stop-color="#5f64b5"/><stop offset="0.81" stop-color="#5e51ad"/><stop offset="0.84" stop-color="#5d3da1"/><stop offset="0.88" stop-color="#592a8f"/><stop offset="0.91" stop-color="#511b77"/><stop offset="0.94" stop-color="#45135c"/><stop offset="0.97" stop-color="#381145"/><stop offset="1" stop-color="#301437"/></linearGradient><rect x="912.2" y="764.5" width="19.6" height="364.5" fill="url(#cbg)"/><rect x="134.9" y="764.5" width="364.9" height="364.5" fill="none" stroke="#000" stroke-width="1.8"/><path d="M142.64 764.5V761.1M158.87 764.5V761.1M175.1 764.5V758.2M191.33 764.5V761.1M207.56 764.5V761.1M223.79 764.5V761.1M240.02 764.5V761.1M256.25 764.5V758.2M272.48 764.5V761.1M288.71 764.5V761.1M304.94 764.5V761.1M321.17 764.5V761.1M337.4 764.5V758.2M353.63 764.5V761.1M369.86 764.5V761.1M386.09 764.5V761.1M402.32 764.5V761.1M418.55 764.5V758.2M434.78 764.5V761.1M451.01 764.5V761.1M467.24 764.5V761.1M483.47 764.5V761.1M499.7 764.5V758.2M148.47 1129V1132.4M164.16 1129V1132.4M179.85 1129V1135.5M195.54 1129V1132.4M211.23 1129V1132.4M226.93 1129V1132.4M242.62 1129V1132.4M258.31 1129V1135.5M274 1129V1132.4M289.69 1129V1132.4M305.39 1129V1132.4M321.08 1129V1132.4M336.77 1129V1135.5M352.46 1129V1132.4M368.15 1129V1132.4M383.85 1129V1132.4M399.54 1129V1132.4M415.23 1129V1135.5M430.92 1129V1132.4M446.61 1129V1132.4M462.31 1129V1132.4M478 1129V1132.4M493.69 1129V1135.5M134.9 777.9H128.6M499.8 777.9H506.1M134.9 792.47H130.9M499.8 792.47H503.8M134.9 807.04H130.9M499.8 807.04H503.8M134.9 821.61H130.9M499.8 821.61H503.8M134.9 836.18H130.9M499.8 836.18H503.8M134.9 850.75H128.6M499.8 850.75H506.1M134.9 865.32H130.9M499.8 865.32H503.8M134.9 879.89H130.9M499.8 879.89H503.8M134.9 894.46H130.9M499.8 894.46H503.8M134.9 909.03H130.9M499.8 909.03H503.8M134.9 923.6H128.6M499.8 923.6H506.1M134.9 938.17H130.9M499.8 938.17H503.8M134.9 952.74H130.9M499.8 952.74H503.8M134.9 967.31H130.9M499.8 967.31H503.8M134.9 981.88H130.9M499.8 981.88H503.8M134.9 996.45H128.6M499.8 996.45H506.1M134.9 1011.02H130.9M499.8 1011.02H503.8M134.9 1025.59H130.9M499.8 1025.59H503.8M134.9 1040.16H130.9M499.8 1040.16H503.8M134.9 1054.73H130.9M499.8 1054.73H503.8M134.9 1069.3H128.6M499.8 1069.3H506.1M134.9 1083.87H130.9M499.8 1083.87H503.8M134.9 1098.44H130.9M499.8 1098.44H503.8M134.9 1113.01H130.9M499.8 1113.01H503.8M134.9 1127.58H130.9M499.8 1127.58H503.8" stroke="#000" stroke-width="1.5" fill="none"/><g font-family='"Liberation Serif", serif' font-size="21.5"><text x="145.75" y="1157.4" font-size="21.5" text-anchor="start">20</text><text x="168.4" y="1144.7" font-size="16" text-anchor="start">h</text><text x="176.95" y="1157.4" font-size="21.5" text-anchor="start">16</text><text x="199.45" y="1144.7" font-size="16" text-anchor="start">m</text><text x="240.41" y="1157.4" font-size="21.5" text-anchor="start">14</text><text x="262.61" y="1144.7" font-size="16" text-anchor="start">m</text><text x="318.87" y="1157.4" font-size="21.5" text-anchor="start">12</text><text x="341.07" y="1144.7" font-size="16" text-anchor="start">m</text><text x="397.33" y="1157.4" font-size="21.5" text-anchor="start">10</text><text x="419.53" y="1144.7" font-size="16" text-anchor="start">m</text><text x="475.79" y="1157.4" font-size="21.5" text-anchor="start">08</text><text x="497.99" y="1144.7" font-size="16" text-anchor="start">m</text><text x="121.6" y="785.1" font-size="21.5" text-anchor="end">-56°15'</text><text x="121.6" y="857.95" font-size="21.5" text-anchor="end">30'</text><text x="121.6" y="930.8" font-size="21.5" text-anchor="end">45'</text><text x="121.6" y="1003.65" font-size="21.5" text-anchor="end">-57°00'</text><text x="121.6" y="1076.5" font-size="21.5" text-anchor="end">15'</text></g><rect x="533.9" y="764.5" width="365" height="364.5" fill="none" stroke="#000" stroke-width="1.8"/><path d="M541.64 764.5V761.1M557.87 764.5V761.1M574.1 764.5V758.2M590.33 764.5V761.1M606.56 764.5V761.1M622.79 764.5V761.1M639.02 764.5V761.1M655.25 764.5V758.2M671.48 764.5V761.1M687.71 764.5V761.1M703.94 764.5V761.1M720.17 764.5V761.1M736.4 764.5V758.2M752.63 764.5V761.1M768.86 764.5V761.1M785.09 764.5V761.1M801.32 764.5V761.1M817.55 764.5V758.2M833.78 764.5V761.1M850.01 764.5V761.1M866.24 764.5V761.1M882.47 764.5V761.1M898.7 764.5V758.2M547.47 1129V1132.4M563.16 1129V1132.4M578.85 1129V1135.5M594.54 1129V1132.4M610.23 1129V1132.4M625.93 1129V1132.4M641.62 1129V1132.4M657.31 1129V1135.5M673 1129V1132.4M688.69 1129V1132.4M704.39 1129V1132.4M720.08 1129V1132.4M735.77 1129V1135.5M751.46 1129V1132.4M767.15 1129V1132.4M782.85 1129V1132.4M798.54 1129V1132.4M814.23 1129V1135.5M829.92 1129V1132.4M845.61 1129V1132.4M861.31 1129V1132.4M877 1129V1132.4M892.69 1129V1135.5M533.9 777.9H527.6M898.9 777.9H905.2M533.9 792.47H529.9M898.9 792.47H902.9M533.9 807.04H529.9M898.9 807.04H902.9M533.9 821.61H529.9M898.9 821.61H902.9M533.9 836.18H529.9M898.9 836.18H902.9M533.9 850.75H527.6M898.9 850.75H905.2M533.9 865.32H529.9M898.9 865.32H902.9M533.9 879.89H529.9M898.9 879.89H902.9M533.9 894.46H529.9M898.9 894.46H902.9M533.9 909.03H529.9M898.9 909.03H902.9M533.9 923.6H527.6M898.9 923.6H905.2M533.9 938.17H529.9M898.9 938.17H902.9M533.9 952.74H529.9M898.9 952.74H902.9M533.9 967.31H529.9M898.9 967.31H902.9M533.9 981.88H529.9M898.9 981.88H902.9M533.9 996.45H527.6M898.9 996.45H905.2M533.9 1011.02H529.9M898.9 1011.02H902.9M533.9 1025.59H529.9M898.9 1025.59H902.9M533.9 1040.16H529.9M898.9 1040.16H902.9M533.9 1054.73H529.9M898.9 1054.73H902.9M533.9 1069.3H527.6M898.9 1069.3H905.2M533.9 1083.87H529.9M898.9 1083.87H902.9M533.9 1098.44H529.9M898.9 1098.44H902.9M533.9 1113.01H529.9M898.9 1113.01H902.9M533.9 1127.58H529.9M898.9 1127.58H902.9" stroke="#000" stroke-width="1.5" fill="none"/><g font-family='"Liberation Serif", serif' font-size="21.5"><text x="544.75" y="1157.4" font-size="21.5" text-anchor="start">20</text><text x="567.4" y="1144.7" font-size="16" text-anchor="start">h</text><text x="575.95" y="1157.4" font-size="21.5" text-anchor="start">16</text><text x="598.45" y="1144.7" font-size="16" text-anchor="start">m</text><text x="639.41" y="1157.4" font-size="21.5" text-anchor="start">14</text><text x="661.61" y="1144.7" font-size="16" text-anchor="start">m</text><text x="717.87" y="1157.4" font-size="21.5" text-anchor="start">12</text><text x="740.07" y="1144.7" font-size="16" text-anchor="start">m</text><text x="796.33" y="1157.4" font-size="21.5" text-anchor="start">10</text><text x="818.53" y="1144.7" font-size="16" text-anchor="start">m</text><text x="874.79" y="1157.4" font-size="21.5" text-anchor="start">08</text><text x="896.99" y="1144.7" font-size="16" text-anchor="start">m</text></g><rect x="912.2" y="764.5" width="19.6" height="364.5" fill="none" stroke="#000" stroke-width="1.6"/><g font-family='"Liberation Sans", sans-serif' font-size="20.5"><rect x="946.1" y="1129.05" width="11.7" height="1.7"/><text x="959.8" y="1136.3" font-size="20.5" text-anchor="start">20</text><text x="944.4" y="1063.4" font-size="20.5" text-anchor="start">0</text><text x="944.4" y="990.5" font-size="20.5" text-anchor="start">20</text><text x="944.4" y="917.6" font-size="20.5" text-anchor="start">40</text><text x="944.4" y="844.7" font-size="20.5" text-anchor="start">60</text><text x="944.4" y="771.8" font-size="20.5" text-anchor="start">80</text></g><path d="M905.9 1129H912.2M931.8 1129H937.9M905.9 1056.1H912.2M931.8 1056.1H937.9M905.9 983.2H912.2M931.8 983.2H937.9M905.9 910.3H912.2M931.8 910.3H937.9M905.9 837.4H912.2M931.8 837.4H937.9M905.9 764.5H912.2M931.8 764.5H937.9" stroke="#000" stroke-width="1.5" fill="none"/><g font-family='"Liberation Sans", sans-serif' transform="translate(1002.9 991.8) rotate(-90)"><text x="0.43" y="-0.7" font-size="27">y</text><text x="23.9" y="2.2" font-size="32">×</text><text x="44.9" y="0" font-size="28">10</text><text x="76.5" y="-9.9" font-size="19.7">6</text></g><g font-family='"Liberation Serif", serif' font-size="33"><text x="347.6" y="1216.1" font-size="33" text-anchor="start">Right Ascension (J2000)</text><text transform="translate(33.8 1077.9) rotate(-90)" x="0" y="0" font-size="33">Declination (J2000)</text></g>
</svg>
</body></html>
